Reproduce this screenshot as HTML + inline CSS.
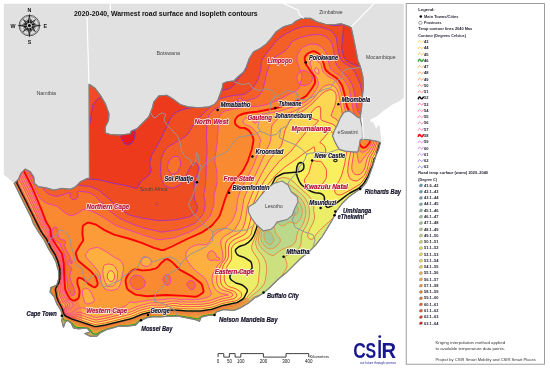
<!DOCTYPE html>
<html><head><meta charset="utf-8"><title>2020-2040, Warmest road surface and isopleth contours</title>
<style>
html,body{margin:0;padding:0;background:#fff;}
body{width:550px;height:369px;overflow:hidden;position:relative;font-family:"Liberation Sans",sans-serif;}
svg{position:absolute;left:0;top:0;display:block}
text{font-family:"Liberation Sans",sans-serif;}
</style></head><body>
<svg width="550" height="369" viewBox="0 0 550 369">
<rect width="550" height="369" fill="#fff"/>
<path d="M3.8,3.7 L403.8,3.7 L403.8,98.1 L398.9,101.4 L392.4,104.6 L387.5,107.9 L382.7,111.2 L379.4,114.4 L374.5,117.7 L370.5,119.3 L370.5,122.5 L372.9,121.7 L374.5,125.0 L376.2,129.1 L377.8,125.8 L379.4,125.0 L380.2,130.7 L381.0,137.2 L381.4,142.1 L380.4,142.7 L300.0,160.0 L100.0,200.0 L14.3,183.5 L3.8,174.4Z" fill="#e1e1e1"/>
<path id="sa" d="M89.2,84.2 L95.1,88.4 L100.1,95.1 L105.2,103.5 L108.9,113.6 L108.5,120.3 L105.2,127.0 L105.2,132.9 L110.2,134.6 L120.3,135.1 L130.4,133.8 L131.2,131.2 L137.1,128.7 L142.1,123.7 L148.8,117.0 L152.2,108.6 L153.9,101.9 L158.9,96.0 L166.7,95.3 L173.4,99.4 L180.1,104.5 L188.5,107.0 L198.6,107.8 L208.7,107.0 L214.6,104.5 L217.9,100.3 L220.4,93.6 L222.4,87.7 L223.0,83.5 L227.2,81.8 L233.9,81.0 L238.1,76.8 L243.9,71.8 L246.5,66.7 L249.3,58.7 L253.5,52.0 L260.2,48.6 L266.0,44.4 L271.1,38.6 L276.1,31.9 L283.7,26.8 L292.1,24.3 L296.3,21.0 L302.1,18.4 L310.5,18.4 L316.7,21.8 L325.1,24.3 L333.5,24.8 L341.1,23.8 L347.8,26.0 L351.1,27.7 L352.8,35.2 L354.5,43.6 L356.2,52.0 L357.8,60.4 L360.3,66.7 L362.8,76.8 L363.3,86.9 L362.3,96.9 L361.6,107.0 L360.0,117.9 L357.5,117.3 L353.6,114.1 L349.2,110.9 L344.1,112.2 L340.3,117.9 L337.7,124.3 L334.5,130.6 L332.6,135.7 L334.3,140.2 L336.8,145.2 L339.3,149.4 L345.2,151.1 L353.6,151.9 L357.8,151.9 L359.4,145.2 L360.0,140.2 L363.6,139.3 L370.4,140.2 L377.1,141.5 L380.4,142.7 L378.8,148.6 L375.4,157.0 L372.9,165.4 L370.4,172.1 L368.7,177.0 L365.5,183.4 L360.5,188.8 L357.1,190.9 L348.8,196.8 L342.0,203.5 L336.2,211.1 L335.0,214.4 L332.0,220.3 L326.9,228.7 L321.9,237.0 L320.6,238.4 L315.5,245.1 L308.8,251.8 L300.4,258.5 L293.7,265.2 L287.0,271.9 L277.8,279.5 L270.2,287.0 L263.5,292.9 L256.8,297.0 L255.6,296.9 L248.9,302.7 L240.5,307.8 L233.8,310.3 L223.7,309.5 L216.2,312.0 L214.5,315.3 L208.6,315.3 L201.1,317.0 L199.4,321.2 L195.2,319.5 L186.8,317.8 L178.4,316.2 L170.0,316.2 L160.5,316.8 L152.1,316.8 L147.1,317.7 L141.2,320.2 L138.7,321.9 L135.4,325.2 L127.0,326.1 L118.6,326.1 L113.5,327.7 L106.8,329.4 L100.1,332.8 L96.8,336.1 L90.0,336.1 L85.0,333.6 L90.4,332.0 L87.0,327.9 L78.6,328.8 L73.6,327.9 L71.1,322.9 L67.7,320.4 L65.2,322.0 L63.5,327.0 L61.8,320.4 L62.7,316.2 L61.0,310.3 L56.8,303.6 L54.3,296.9 L50.1,291.8 L50.9,287.6 L56.8,285.1 L58.8,278.4 L58.5,270.0 L57.8,268.7 L56.1,262.0 L52.7,255.3 L48.5,248.6 L44.3,240.2 L38.5,231.8 L33.4,223.4 L31.1,217.1 L26.9,208.7 L21.8,198.6 L16.8,188.5 L14.3,183.5 L18.5,179.3 L21.0,173.4 L25.2,169.2 L30.2,171.8 L33.6,176.8 L34.4,183.5 L38.6,186.9 L45.3,187.7 L53.7,190.2 L62.1,188.5 L70.5,189.4 L75.5,186.9 L80.6,181.8 L87.3,178.5 L89.5,178.3Z" fill="#f1592a" stroke="#808080" stroke-width="1.3" stroke-linejoin="round"/>
<clipPath id="saclip"><path d="M89.2,84.2 L95.1,88.4 L100.1,95.1 L105.2,103.5 L108.9,113.6 L108.5,120.3 L105.2,127.0 L105.2,132.9 L110.2,134.6 L120.3,135.1 L130.4,133.8 L131.2,131.2 L137.1,128.7 L142.1,123.7 L148.8,117.0 L152.2,108.6 L153.9,101.9 L158.9,96.0 L166.7,95.3 L173.4,99.4 L180.1,104.5 L188.5,107.0 L198.6,107.8 L208.7,107.0 L214.6,104.5 L217.9,100.3 L220.4,93.6 L222.4,87.7 L223.0,83.5 L227.2,81.8 L233.9,81.0 L238.1,76.8 L243.9,71.8 L246.5,66.7 L249.3,58.7 L253.5,52.0 L260.2,48.6 L266.0,44.4 L271.1,38.6 L276.1,31.9 L283.7,26.8 L292.1,24.3 L296.3,21.0 L302.1,18.4 L310.5,18.4 L316.7,21.8 L325.1,24.3 L333.5,24.8 L341.1,23.8 L347.8,26.0 L351.1,27.7 L352.8,35.2 L354.5,43.6 L356.2,52.0 L357.8,60.4 L360.3,66.7 L362.8,76.8 L363.3,86.9 L362.3,96.9 L361.6,107.0 L360.0,117.9 L357.5,117.3 L353.6,114.1 L349.2,110.9 L344.1,112.2 L340.3,117.9 L337.7,124.3 L334.5,130.6 L332.6,135.7 L334.3,140.2 L336.8,145.2 L339.3,149.4 L345.2,151.1 L353.6,151.9 L357.8,151.9 L359.4,145.2 L360.0,140.2 L363.6,139.3 L370.4,140.2 L377.1,141.5 L380.4,142.7 L378.8,148.6 L375.4,157.0 L372.9,165.4 L370.4,172.1 L368.7,177.0 L365.5,183.4 L360.5,188.8 L357.1,190.9 L348.8,196.8 L342.0,203.5 L336.2,211.1 L335.0,214.4 L332.0,220.3 L326.9,228.7 L321.9,237.0 L320.6,238.4 L315.5,245.1 L308.8,251.8 L300.4,258.5 L293.7,265.2 L287.0,271.9 L277.8,279.5 L270.2,287.0 L263.5,292.9 L256.8,297.0 L255.6,296.9 L248.9,302.7 L240.5,307.8 L233.8,310.3 L223.7,309.5 L216.2,312.0 L214.5,315.3 L208.6,315.3 L201.1,317.0 L199.4,321.2 L195.2,319.5 L186.8,317.8 L178.4,316.2 L170.0,316.2 L160.5,316.8 L152.1,316.8 L147.1,317.7 L141.2,320.2 L138.7,321.9 L135.4,325.2 L127.0,326.1 L118.6,326.1 L113.5,327.7 L106.8,329.4 L100.1,332.8 L96.8,336.1 L90.0,336.1 L85.0,333.6 L90.4,332.0 L87.0,327.9 L78.6,328.8 L73.6,327.9 L71.1,322.9 L67.7,320.4 L65.2,322.0 L63.5,327.0 L61.8,320.4 L62.7,316.2 L61.0,310.3 L56.8,303.6 L54.3,296.9 L50.1,291.8 L50.9,287.6 L56.8,285.1 L58.8,278.4 L58.5,270.0 L57.8,268.7 L56.1,262.0 L52.7,255.3 L48.5,248.6 L44.3,240.2 L38.5,231.8 L33.4,223.4 L31.1,217.1 L26.9,208.7 L21.8,198.6 L16.8,188.5 L14.3,183.5 L18.5,179.3 L21.0,173.4 L25.2,169.2 L30.2,171.8 L33.6,176.8 L34.4,183.5 L38.6,186.9 L45.3,187.7 L53.7,190.2 L62.1,188.5 L70.5,189.4 L75.5,186.9 L80.6,181.8 L87.3,178.5 L89.5,178.3Z"/></clipPath>
<g clip-path="url(#saclip)">
<path d="M9,14l6.6,0l-2.9,29l-4.7,40.8l0,-69.8zM8.1,166l2.7,11l0.9,3l2,5l3.3,6l4.4,9l2.6,5l1.4,3l0.7,1l1.3,3l0.7,1l0.3,1l1.6,3l0.6,2l0.6,1l0.5,2l0.3,0.4l0.5,1.6l5,8l3.5,5l3,4.6l0.5,1.4l0.5,0.6l0.5,1.4l0.5,0.6l0.5,1.4l0.7,1l0.4,1l0.4,0.4l4,6.5l0.4,1.1l0.8,1l0.3,1l0.7,1l0.3,1l0.7,1l0.4,2l0.4,0.6l0.5,2.4l0.6,1l0.5,4l0.4,0.8l0,1.4l-0.4,0.8l-0.1,1l0.5,2l-0.6,1l-0.4,2.4l-6.8,6.6l-0.7,1l-0.3,2l0.4,2l3.4,4.3l1.4,2.7l1,3l1,2l2.6,3.8l0.5,1.2l0.8,1l0.9,4l-0.2,1.9l-1.1,4.1l-0.4,3l0.1,3l0.5,2l0.9,1.6l1,1.2l2,1.6l3,1.5l7,2.4l8.2,4.7l-74.2,0l0,-176.4zM388,204.1l0,137.9l-295.7,0l3.7,-1.6l2,-1.2l2,-1.7l3.5,-3.5l3.2,-2l2.1,-1l7.2,-2.1l3,-0.7l2,-0.1l8,0.1l4,-0.3l2,-0.3l2,-0.9l4.2,-3.7l2.8,-1.7l3,-1.3l4.2,-1l2.8,-0.2l15,-0.4l8,0.2l3,0.4l4,0.9l6,1.6l5,1.6l3,0.4l2,-0.3l1,-0.5l1.3,-0.7l2.7,-2.1l2,-0.8l2,-0.3l5,0.2l2,-0.5l1,-0.6l3,-2.7l1,-0.6l2,-0.6l2,0l7,1.3l4,0.2l4,-0.3l11,-1.9l5,-0.5l5,-0.1l14,0.5l6,-0.1l5,-0.4l8,-1.2l8,-1.8l8,-2.5l8,-3.2l6,-3l5.2,-3l4.8,-3.2l5,-3.9l4.5,-3.9l5,-5l4.3,-5l3.8,-5l3.3,-5l3,-5l3.2,-6l3,-6l5.6,-13l12.9,-32z" fill="#68a0b4" stroke="#68a0b4" stroke-width="0.4" fill-rule="evenodd"/>
<path d="M16,14l2.2,0l-2.8,27l-7.4,59.3l0,-16.5l4.7,-40.8l2.9,-29zM8.1,162l1.6,8l1.4,6l1.5,5l1.6,4l15.8,31.3l3,7.7l4.9,8l6.1,9l4.1,8l3.9,6.3l3.5,6.7l2.3,8l0,1l0.4,2l-0.2,3l0.2,2l-0.8,2l-0.1,1l-0.3,0.9l-6.4,6.1l-0.6,1l-0.3,1l-0.1,1l0.6,2l3.1,4l1.4,3l1.2,3l1,2l3.7,6l1,4l-0.2,2l-1.2,7l0.1,2l0.7,2.4l1,1.5l1,0.9l2,1l2,0.4l4,0.4l6,1.8l1.1,0.6l2.7,3l1.2,1.1l2,1.1l3,0.7l2,0l2,-0.3l2,-0.6l3,-1.1l2,-1.1l1,-0.8l3,-3l1.3,-1l3.6,-2l2.7,-1l9.4,-2.5l2,-0.1l7,0.1l5,-0.4l2,-0.3l2,-0.9l3,-3l2.9,-1.9l3.1,-1.4l4,-1.1l4,-0.4l6,-0.1l9,-0.4l8,0.1l3,0.4l4.1,0.9l6.9,1.7l5,1.6l2,0.2l2,-0.5l1,-0.5l3,-2.7l1.8,-0.8l3.2,-0.5l4,0.5l2,-0.2l1.4,-0.8l2.8,-3l2.8,-1.1l3,-0.2l7,1.5l4,0.1l4,-0.5l10,-2.2l6,-0.9l5,-0.1l14,0.4l5,-0.3l5,-0.4l7.8,-1.3l7.2,-1.7l7.1,-2.3l7.3,-3l6,-3l5.6,-3.3l5.4,-3.7l5,-4l4.6,-4.3l4.5,-4.7l4.1,-5l3.6,-5l3.2,-5l2.9,-5l3.1,-6l2.8,-6l17.6,-41l5.2,-13.5l0,11.6l-13,32.2l-5.5,12.7l-2.8,6l-3.2,6l-3,5l-3.5,5.4l-4,5.3l-4,4.7l-4.4,4.6l-4.6,4.1l-5,3.9l-5.8,4l-5.2,3l-6,3l-8,3.2l-8,2.5l-8,1.8l-8,1.2l-5,0.4l-6,0.1l-14,-0.5l-5,0.1l-5,0.5l-11,1.9l-4,0.3l-4,-0.2l-7,-1.3l-2,0l-2,0.6l-1,0.6l-3,2.7l-1,0.6l-2,0.5l-5,-0.2l-2,0.3l-2,0.8l-2.7,2.1l-1.3,0.7l-1,0.5l-2,0.3l-3,-0.4l-5,-1.6l-6,-1.6l-4,-0.9l-3,-0.4l-8,-0.2l-15,0.4l-2.8,0.2l-4.2,1l-3,1.3l-2.8,1.7l-4.2,3.7l-2,0.9l-2,0.3l-4,0.3l-8,-0.1l-2,0.1l-3,0.7l-7.2,2.1l-2.1,1l-3.2,2l-3.5,3.5l-2,1.7l-2,1.2l-3.7,1.6l-10.1,0l-8.2,-4.7l-7,-2.4l-3,-1.5l-2,-1.6l-1,-1.2l-0.9,-1.6l-0.5,-2l-0.1,-3l0.4,-3l1.1,-4.1l0.2,-1.9l-0.9,-4l-0.8,-1l-0.5,-1.2l-2.6,-3.8l-1,-2l-1,-3l-1.4,-2.7l-3.4,-4.3l-0.4,-2l0.3,-2l0.7,-1l6.8,-6.6l0.4,-2.4l0.6,-1l-0.5,-2l0.1,-1l0.4,-0.8l0,-1.4l-0.4,-0.8l-0.5,-4l-0.6,-1l-0.5,-2.4l-0.4,-0.6l-0.4,-2l-0.7,-1l-0.3,-1l-0.7,-1l-0.3,-1l-0.8,-1l-0.4,-1.1l-4,-6.5l-0.4,-0.4l-0.4,-1l-0.7,-1l-0.5,-1.4l-0.5,-0.6l-0.5,-1.4l-0.5,-0.6l-0.5,-1.4l-3,-4.6l-3.5,-5l-5,-8l-0.5,-1.6l-0.3,-0.4l-0.5,-2l-0.6,-1l-0.6,-2l-1.6,-3l-0.3,-1l-0.7,-1l-1.3,-3l-0.7,-1l-1.4,-3l-2.6,-5l-4.4,-9l-3.3,-6l-2,-5l-2,-7l-1.7,-7.4l0,-4.3z" fill="#74a8ae" stroke="#74a8ae" stroke-width="0.4" fill-rule="evenodd"/>
<path d="M19,14l2,0l-0.4,4l-3.1,26l-6.9,50l-2.6,23.6l0,-17.3l7.4,-59.3l2.8,-27zM8.1,155l1.3,10l1.6,8l1.7,7l1.8,5l15.7,31l3.2,8l4.9,8l6.1,9l4,8l3.8,6l3.6,7l2.3,8l0.3,3l-0.2,3l0.2,2l-0.8,2l0,1l-0.4,1l-6.1,6l-0.7,1l-0.3,1l-0.1,1l0.7,2l2.3,2.8l0.7,1.2l3,7l4.2,7l1,4l0,2l-0.7,7l0.2,2l0.3,1l0.3,0.6l1,1.1l1,0.5l1,0.1l1.1,-0.3l0.9,-1l0.2,-1l-0.4,-3l0.1,-1l1.1,-0.4l1.1,0.4l0.9,0.9l1.1,3.1l0.9,1.5l1,0.8l2,1l2,0.4l3,-0.1l2,-0.2l1.2,-0.4l2.8,-0.5l0.8,0.5l-0.7,1l-1.7,1l-0.9,1l-0.4,1l0,1l0.2,1l0.6,1l1.1,1l1,0.5l2,0.4l3,-0.3l5,-1.2l2,-1l3.7,-3.4l3.6,-2l2.7,-1.2l8,-2.2l4,-0.9l7,0.1l8,-0.8l1.9,-1l3,-3l2.1,-1.3l3.7,-1.7l4.3,-1.2l3,-0.3l8,-0.1l9,-0.5l8,0.1l13,2.6l2,0.5l3,1.1l2,0.3l2,-0.7l1.1,-0.8l1.9,-2.1l2,-0.9l5,-0.7l3,0.6l1,0l1,-0.2l1,-0.7l2,-2.8l1,-0.5l3,-0.8l3,-0.3l6,1.3l4,0.2l5,-0.6l10,-2.8l6,-1.1l4,-0.2l14,0.3l5,-0.3l5,-0.6l8,-1.5l7,-1.9l6.9,-2.4l6.8,-3l5.7,-3l4.8,-3l5.6,-4l4.8,-4l4.4,-4.2l4.3,-4.8l3.9,-5l3.5,-5l4.3,-7.3l4.5,-8.7l3.7,-8l8.7,-20l9.1,-19.3l3.6,-8.7l4.4,-12.7l0,11.2l-5.2,13.5l-17.1,40l-5.9,12l-2.8,5l-3.1,5l-3.5,5l-4,5l-4.4,4.7l-4.5,4.3l-4.8,4l-4.7,3.4l-5.8,3.6l-5.2,2.8l-7.3,3.2l-7.7,2.7l-8,2.1l-8,1.3l-6,0.6l-5,0.3l-14,-0.4l-5,0.1l-6,0.9l-10,2.2l-4,0.5l-4,-0.1l-7,-1.5l-3,0.2l-2.8,1.1l-2.8,3l-1.4,0.8l-2,0.2l-4,-0.5l-3.2,0.5l-1.8,0.8l-3,2.7l-1,0.5l-2,0.5l-2,-0.2l-5,-1.6l-6.9,-1.7l-4.1,-0.9l-3,-0.4l-8,-0.1l-9,0.4l-6,0.1l-4,0.4l-4,1.1l-3.1,1.4l-2.9,1.9l-3,3l-2,0.9l-2,0.3l-5,0.4l-7,-0.1l-2,0.1l-9.4,2.5l-2.7,1l-3.6,2l-1.3,1l-3,3l-1,0.8l-2,1.1l-3,1.1l-2,0.6l-2,0.3l-2,0l-3,-0.7l-2,-1.1l-1.2,-1.1l-2.7,-3l-1.1,-0.6l-5,-1.6l-2,-0.4l-4,-0.3l-2,-0.7l-2,-1.5l-1.2,-1.9l-0.5,-2l-0.1,-2l1.2,-7l0.2,-2l-1,-4l-3.7,-6l-1,-2l-1.2,-3l-1.4,-3l-3.1,-4l-0.6,-2l0.1,-1l0.3,-1l0.6,-1l6.4,-6.1l0.3,-0.9l0.1,-1l0.8,-2l-0.2,-2l0.2,-3l-0.4,-2l0,-1l-2.3,-8l-3.5,-6.7l-3.9,-6.3l-4.1,-8l-6.1,-9l-4.9,-8l-3,-7.7l-16.2,-32.3l-1.5,-4l-1.2,-4l-2.4,-11l-0.7,-3.7l0,-6.9z" fill="#80b0a8" stroke="#80b0a8" stroke-width="0.4" fill-rule="evenodd"/>
<path d="M21,14l2.8,0l-1.5,13l-2.1,16l-8.5,56l-1.6,13l-1,11l-0.6,11l-0.1,10l0.5,9l1,10l1.1,7l1.2,6l1.3,5l1.4,4l15.6,31l3.2,8l4.9,8l6.1,9l4,8l3.8,6l3.5,7l2.3,8l0.2,3l-0.2,3l0.3,2l-0.8,2l-0.3,2l-5.9,6l-0.7,1l-0.4,1l0,1l0.7,2l1.8,2.2l1,1.6l2.5,6.2l4.6,8l1.1,4l0.1,4l0.7,6.4l1,0.6l0.3,-1l0.2,-2l0.4,-1l1.1,-0.8l0.7,-0.2l1.3,0.3l1.6,0.7l1.2,1l1.9,3l0.8,1l1.3,1l1.2,0.5l2,0.3l2,0l6,-0.8l1,0.2l1,0.7l0.9,1.1l0.5,1l0,1l-0.4,0.6l-1.2,0.4l-1.2,1l0,1l0.4,0.5l1,0.4l7,0.2l2,-0.5l1,-0.7l2,-1.9l1.6,-1l4.2,-2l2.6,-1l10.6,-2.8l9,-0.2l7,-0.8l1,-0.5l3,-3l2.8,-1.7l4.2,-1.8l4,-1l3,-0.4l8,0l9,-0.6l8,0l14,2.6l4,1.3l2,0.2l1,-0.3l1,-0.6l2.2,-2.4l1.8,-0.7l6,-0.9l4,0.5l1,-0.5l0.4,-0.4l1.2,-2l0.4,-0.4l1.1,-0.6l4,-1l2.9,-0.3l6,1.2l2,0.2l2,-0.1l5,-0.9l11,-3.6l5,-1.1l4,-0.2l8,0.2l5,0l4.7,-0.4l4.3,-0.6l7,-1.3l6,-1.7l6,-2l6,-2.6l5.6,-2.8l5.4,-3.2l5.4,-3.8l5,-4l4.6,-4.4l4.3,-4.6l4,-5l3.4,-5l3.6,-6l3.7,-7l4.3,-9l9.9,-22l12,-23l2.9,-7l4.5,-13l2.4,-5.9l0,9.2l-4.4,12.7l-2.8,7l-9.5,20l-10,23l-4.8,10l-3.2,6l-3.3,5.5l-3,4.5l-3.8,5l-5.4,6l-5.8,5.4l-6,4.7l-7,4.5l-7,3.8l-8,3.3l-7,2.3l-8.2,2l-6.1,1l-6.7,0.6l-6,0.1l-10,-0.3l-4,0.2l-6,1.1l-10,2.8l-4,0.6l-4,0l-6,-1.3l-2,-0.2l-1,0.1l-2,0.4l-2.6,0.9l-1.1,1l-1.3,2l-1,0.7l-1,0.2l-1,0l-3,-0.6l-5,0.7l-2,0.9l-1.9,2.1l-1.1,0.8l-2,0.7l-2,-0.3l-3,-1.1l-2,-0.5l-13,-2.6l-8,-0.1l-9,0.5l-8,0.1l-3,0.3l-4.3,1.2l-3.7,1.7l-2.1,1.3l-3,3l-1.9,1l-7,0.7l-7,0l-2,0.1l-10,2.7l-3.7,1.5l-3.6,2l-3.2,3l-1.5,1l-3,1l-5,0.9l-2,-0.1l-2,-0.8l-1.1,-1l-0.6,-1l-0.2,-1l0,-1l0.4,-1l0.9,-1l1.7,-1l0.7,-1l-0.8,-0.5l-2.8,0.5l-1.2,0.4l-2,0.2l-3,0.1l-2,-0.4l-2,-1l-1,-0.8l-0.9,-1.5l-1.1,-3.1l-0.9,-0.9l-1.1,-0.4l-1.1,0.4l-0.1,1l0.4,3l-0.2,1l-0.9,1l-1.1,0.3l-1,-0.1l-1,-0.5l-1,-1.1l-0.3,-0.6l-0.5,-2l0,-2l0.8,-7l-0.1,-1l-1,-4l-4.2,-7l-3,-7l-0.7,-1.2l-2.3,-2.8l-0.7,-2l0.1,-1l0.3,-1l0.7,-1l6.1,-6l0.4,-1l0,-1l0.8,-2l-0.2,-2l0.2,-3l-0.3,-3l-2.3,-8l-3.6,-7l-3.8,-6l-4,-8l-6.1,-9l-4.9,-8l-3.2,-8l-15.7,-31l-1.8,-5l-1.5,-6l-1.4,-7l-1.3,-8l-0.5,-4.6l0.1,-37.4l2.3,-22l7.2,-52l3.4,-29z" fill="#8cb8a2" stroke="#8cb8a2" stroke-width="0.4" fill-rule="evenodd"/>
<path d="M24,14l2.8,0l-1.9,15l-2.4,16l-9.4,57l-1.6,12l-1.1,10l-0.7,11l-0.1,11l0.4,10l1,9l2,12l1.2,5l1,3l15.6,31l3.3,8l4.8,8l6.1,9l4.1,8l3.7,6l3.5,7l2,7l0.4,4l-0.2,3l0.3,2l-0.8,2l-0.3,2l-5.6,6l-0.7,1l-0.4,1l0,1l0.8,2l2.2,3l2.8,7l4.2,7.2l1.5,4.8l0.5,3.4l0.2,0.6l0.8,1l1,0.2l2,0l2.1,0.8l1.9,1.2l3.4,3.8l1.6,1l1,0.3l3,0.3l6,-0.2l1,0.1l1,0.4l2.2,2.1l1.8,2.6l1,1l1,0.4l2,0.2l1,-0.3l4,-2.5l5.6,-2.4l10.4,-2.9l3,-0.6l8,-0.3l5,-0.5l2,-0.5l1,-0.7l2.8,-2.5l2.2,-1.3l4,-1.8l5,-1.3l4,-0.4l7,0l9,-0.6l7,-0.1l3,0.3l12,2l5,1.2l1,-0.1l1,-0.4l3,-2.4l1,-0.4l6,-1l2,-0.1l2,0.2l1,-0.2l1,-0.9l1,-1.4l1,-0.7l6,-1.6l2,-0.2l7,1.2l3,-0.1l5,-1.1l11,-4.2l5,-1.5l4,-0.3l11,0.2l4,-0.3l5,-0.7l6,-1.3l6,-1.7l6,-2.2l6,-2.6l5.9,-3.2l4.9,-3l4.2,-3l5,-4.1l4.2,-3.9l4.6,-5l4,-5l3.2,-4.7l3.7,-6.3l4.2,-8l11.6,-25l3,-6l3.4,-6l7.1,-11.5l3,-5.6l2.6,-5.9l4.8,-14l4.6,-10.5l0,7.6l-2.1,4.9l-4.4,13l-2.8,7l-2.7,5.5l-9.8,18.5l-10.3,23l-5.4,11l-2.7,5l-3.1,5l-3.4,5l-3.2,4l-5.5,6l-5.4,5l-6.6,5l-6.3,4l-7.3,3.8l-7,2.9l-7,2.3l-8.4,2l-5.6,0.9l-5,0.4l-5,0.1l-9,-0.2l-4,0.2l-5,1.1l-11,3.6l-5,0.9l-2,0.1l-2,-0.2l-6,-1.2l-2,0.1l-4.9,1.2l-1.1,0.6l-0.4,0.4l-1.2,2l-0.4,0.4l-1,0.5l-4,-0.5l-4.7,0.6l-2.3,0.6l-1,0.6l-2,2.2l-1,0.6l-1,0.3l-2,-0.2l-4,-1.3l-14,-2.6l-8,0l-9,0.6l-8,0l-3,0.4l-4,1l-4.2,1.8l-2.8,1.7l-3,3l-1,0.5l-7,0.8l-9,0.2l-10.6,2.8l-2.6,1l-4.2,2l-1.6,1l-2,1.9l-1,0.7l-2,0.5l-7,-0.2l-1,-0.4l-0.4,-0.5l0,-1l1.2,-1l1.2,-0.4l0.4,-0.6l0,-1l-0.5,-1l-0.9,-1.1l-1,-0.7l-1,-0.2l-6,0.8l-2,0l-2,-0.3l-1.2,-0.5l-1.3,-1l-0.8,-1l-1.9,-3l-1.2,-1l-1.6,-0.7l-1.3,-0.3l-0.7,0.2l-1.1,0.8l-0.4,1l-0.2,2l-0.3,1l-1,-0.6l-0.7,-6.4l-0.1,-4l-1.1,-4l-4.6,-8l-2.5,-6.2l-1,-1.6l-1.8,-2.2l-0.7,-2l0,-1l0.4,-1l0.7,-1l5.9,-6l0.3,-2l0.8,-2l-0.3,-2l0.2,-3l-0.2,-3l-2.3,-8l-3.5,-7l-3.8,-6l-4,-8l-6.1,-9l-4.9,-8l-3.2,-8l-15.6,-31l-1.4,-4l-1.5,-6l-1.2,-6l-1,-7l-1.1,-11l-0.3,-11l0.3,-11l1,-13l2.3,-19.1l8.2,-53.9l2.1,-16l1.5,-13z" fill="#98c09c" stroke="#98c09c" stroke-width="0.4" fill-rule="evenodd"/>
<path d="M27,14l2.9,0l-1,7l-2,14l-2.3,14l-9.6,52.4l-2,13.2l-1.2,10.4l-0.9,11l-0.2,10l0.3,10l0.9,10l2.1,13l0.8,4l0.8,2l15.6,31l3.3,8l4.8,8l6.1,9l4,8l3.7,6l3.4,7l2,7l0.4,4l-0.3,3l0.4,2l-0.8,2l-0.2,2l-6,7l-0.4,1l-0.1,1l0.5,1.4l2.4,3.6l2.3,6l1,2l3.5,6l2.1,7l0.7,1.5l1,0.7l3,0.7l2.2,1.1l1.5,1l2.3,2.3l2,1.5l1,0.4l2,0.4l8,0.4l2.1,1l3.9,3.6l1,0.6l1,0.3l1,0.1l1,-0.2l4,-1.9l6,-2.3l11,-2.9l2,-0.3l8,-0.5l6,-0.9l1,-0.5l3,-2.4l3,-1.8l4,-1.6l5,-1.3l3,-0.4l9,-0.1l8,-0.6l7,-0.2l3,0.3l17,2.6l1,-0.2l3,-1.7l2,-0.8l6,-1l4,-0.2l1,-0.5l1.2,-1.2l1.6,-1l6.2,-1.7l2,-0.2l6,0.8l2,0.1l2,-0.3l3,-0.6l3.1,-1.1l11.9,-5.4l3,-0.9l4,-0.4l6,0.2l4,0l4.4,-0.5l5.6,-1.1l5,-1.3l4.9,-1.6l5.2,-2l4.9,-2.3l5,-2.7l5,-3.1l5.4,-3.9l4.6,-3.8l4.4,-4.2l3.6,-4l3.2,-4l3.5,-5l3,-5l3.2,-6l7.1,-14.3l7,-14.7l2.6,-5l3.7,-6l9.2,-13l3.5,-6l2.6,-6l4.2,-12l4.9,-11l2.3,-7.6l0,9.1l-4.6,10.5l-4.5,13l-2.4,6l-3.5,6.5l-7.7,12.5l-3.3,6l-2.9,6l-9.3,20l-6.1,12l-2.9,5l-2.6,4l-5.4,7l-3.6,4l-4.2,4.1l-4.7,3.9l-5.3,3.8l-5.1,3.2l-5.6,3l-4.3,2l-6,2.3l-5,1.6l-4.3,1.1l-4.7,1l-4,0.6l-6,0.4l-10,-0.2l-4,0.3l-5,1.5l-11,4.2l-4,0.9l-2,0.3l-2,0l-6,-1.1l-2,-0.1l-1,0.2l-6,1.6l-1,0.7l-1,1.4l-1,0.9l-1,0.2l-2,-0.2l-2,0.1l-6,1l-1,0.4l-3,2.4l-1,0.4l-1,0.1l-5,-1.2l-12,-2l-3,-0.3l-7,0.1l-7,0.5l-9,0.1l-3,0.2l-5,1.2l-4,1.6l-3.2,1.8l-3.5,3l-1.3,0.5l-7,0.8l-7,0.2l-2.5,0.5l-10.5,2.8l-6,2.6l-4,2.5l-1,0.3l-1,0l-1,-0.2l-1,-0.4l-0.6,-0.6l-2.2,-3l-2.2,-2.1l-1,-0.4l-1,-0.1l-6,0.2l-3,-0.3l-1,-0.3l-1.6,-1l-3.4,-3.8l-1.9,-1.2l-2.1,-0.8l-2,0l-1,-0.2l-0.8,-1l-0.2,-0.6l-0.5,-3.4l-1.5,-4.8l-4.2,-7.2l-2.8,-7l-2.2,-3l-0.8,-2l0,-1l0.4,-1l0.7,-1l5.6,-6l0.3,-2l0.8,-2l-0.3,-2l0.2,-3l-0.4,-4l-2,-7l-3.5,-7l-3.7,-6l-4.1,-8l-6.1,-9l-4.8,-8l-3.3,-8l-15.6,-31l-1,-3l-1.2,-5l-1.1,-6l-1.1,-7l-1,-11l-0.2,-11l0.4,-12l1,-11.8l1.2,-10.2l1.8,-12.1l9.3,-55.9l3.5,-26zM289,203.7l2,-0.5l1,0l2,0.6l2,1.2l1.6,2l0.7,2l0,2l-0.7,2l-0.6,1.1l-1,0.8l-1,0.5l-1,0.1l-3,-0.4l-2.5,-1.1l-1.3,-1l-0.7,-1l-0.7,-2l0,-2l0.7,-2l0.7,-1l1.2,-1zM266,231.5l1,-0.4l1,0l1,0.2l1,0.6l1.6,2.1l1.5,3l0.6,2l-0.1,2l-0.4,1l-0.6,1l-1.6,1.2l-1,0.2l-1,-0.2l-1,-0.5l-2,-1.7l-1.2,-2l-0.6,-2l-0.3,-3l0.1,-1l0.4,-1l0.8,-1z" fill="#a4c896" stroke="#a4c896" stroke-width="0.4" fill-rule="evenodd"/>
<path d="M30,14l3,0l-1.4,10l-2.3,14l-2.7,15l-10.2,51l-1.9,12l-1.4,10l-1,11l-0.3,10l0.1,10l0.9,10l2.2,15l0.9,3l15.6,31l3.4,8l4.7,8l5.5,8l4.6,9l3.8,6l2.9,6l2.3,8l0.4,4l-0.3,3l0.4,2l-0.8,2l-0.2,2l-1.2,1.7l-3.8,4.3l-1,2l-0.1,1l0.4,1l2.3,4l2.2,6l1,2l3.5,6l2.4,7l0.7,1l1.4,0.7l3,1.1l2,1.1l4,3.1l2,1.1l3,0.7l7,0.7l2,0.8l5,3.5l2,0.5l2,-0.5l9,-3.2l11,-2.8l2,-0.4l7,-0.6l6,-0.9l2,-0.9l3,-2.2l4,-2l4,-1.5l4,-0.9l3,-0.4l9,-0.1l9,-0.8l5,-0.1l4,0.2l15,2l2,0.1l1,-0.2l3,-1.3l2,-0.7l10,-1.4l2.5,-1.7l1.5,-0.7l6,-1.7l3,-0.2l6,0.5l3,-0.3l3,-0.8l3,-1.1l7.3,-3.7l4.7,-2.8l2,-0.9l4,-0.8l8,0.4l3,-0.2l4,-0.8l6,-1.6l6,-2l5.5,-2.3l4.5,-2.2l5,-2.8l4.5,-3l5.4,-4l4.1,-3.5l4,-3.7l4,-4.3l3.6,-4.5l2.8,-4l3.5,-6l5.5,-11l6.6,-12.2l5.9,-11.8l2.2,-4l2.6,-4l2.2,-3l10.1,-12.1l2.1,-2.9l2.2,-4l2.2,-5l3.5,-10.3l4.6,-9.7l1.2,-3l0.9,-3l1.7,-8l0.6,-1.7l1,-2.2l0,9.3l-1.3,4.6l-1.4,4l-4.9,11l-3.8,11l-2.1,5l-3.5,6.3l-9,12.7l-3.8,6l-2.7,5l-8.5,17.7l-8.8,17.3l-4.8,8l-2.4,3.3l-3,3.7l-3.6,4l-4.4,4.2l-4.6,3.8l-5.4,3.9l-5,3.1l-5,2.7l-4.9,2.3l-5.2,2l-7.9,2.4l-8,1.7l-5,0.4l-9,-0.2l-4,0.4l-3,0.9l-11.9,5.4l-3.1,1.1l-3,0.6l-2,0.3l-2,-0.1l-6,-0.8l-2,0.2l-6.2,1.7l-1.6,1l-1.2,1.2l-1,0.5l-4,0.2l-6,1l-2,0.8l-3,1.7l-2,0.1l-16,-2.5l-3,-0.3l-7,0.2l-8,0.6l-8,0.1l-3,0.2l-5,1.2l-4,1.5l-3,1.5l-4,3.1l-1,0.5l-6,0.9l-8,0.5l-2,0.3l-11,2.9l-6,2.3l-4,1.9l-1,0.2l-1,-0.1l-1,-0.3l-1,-0.6l-3.9,-3.6l-2.1,-1l-8,-0.4l-2,-0.4l-1,-0.4l-2,-1.5l-2.3,-2.3l-1.5,-1l-2.2,-1.1l-3,-0.7l-1,-0.7l-0.7,-1.5l-2.1,-7l-3.5,-6l-1,-2l-2.3,-6l-2.4,-3.6l-0.5,-1.4l0.1,-1l0.4,-1l6,-7l0.2,-2l0.8,-2l-0.4,-2l0.3,-3l-0.4,-4l-2,-7l-3.4,-7l-3.7,-6l-4,-8l-6.1,-9l-4.8,-8l-3.3,-8l-15.6,-31l-0.8,-2l-0.8,-4l-1.4,-8l-1,-7l-0.7,-10l-0.2,-11l0.5,-11l1.2,-13l1.5,-11l1.9,-11l9.8,-54l2.3,-15l2,-14zM287,196.8l1,-0.1l2,0.1l3,0.8l3,1.7l2.9,2.7l2,3l1.1,3l0.4,3l-0.3,3l-0.8,3l-1.3,2.7l-1,1.5l-1,1l-1,0.6l-1,0.4l-2,0.1l-4,-1.2l-1,0.2l-1.5,0.7l-2.5,2.1l-1,0.5l-1,0.3l-1,0l-1.9,-0.9l-1.5,-1l-0.9,-1l-0.3,-1l0,-4l0.6,-7l1.2,-5l0.7,-2l1.1,-2.2l2.1,-2.8l1.9,-1.4l1.3,-0.6zM288.4,204l-1.2,1l-0.7,1l-0.7,2l0,2l0.7,2l0.7,1l1.3,1l2.5,1.1l3,0.4l1,-0.1l1,-0.5l1,-0.8l0.6,-1.1l0.7,-2l0,-2l-0.7,-2l-1.6,-2l-2,-1.2l-2,-0.6l-1,0l-2,0.5zM269,226l2,-0.5l1,0l1,0.2l1,0.8l0.5,1.5l0.5,3l0.6,2l1.4,2.1l2.6,2.9l0.6,1l0.3,1l-0.1,1l-0.3,1l-0.5,1l-1.6,2l-2,1.6l-2,1.3l-2,0.8l-1,0.2l-2,-0.2l-1,-0.3l-2,-1.2l-1,-0.8l-2,-2.3l-1,-1.5l-0.7,-1.6l-0.4,-2l0.2,-5l0.5,-2l0.4,-0.7l1,-1.3l2,-1.8l2,-1.3l1.9,-0.9zM265.2,232l-0.8,1l-0.4,1l-0.1,1l0.3,3l0.6,2l1.2,2l2,1.7l1,0.5l1,0.2l1,-0.2l1.6,-1.2l0.6,-1l0.4,-1l0.1,-2l-0.6,-2l-1.5,-3l-1.6,-2.1l-1,-0.6l-1,-0.2l-1,0l-1,0.4z" fill="#b0d090" stroke="#b0d090" stroke-width="0.4" fill-rule="evenodd"/>
<path d="M33,14.2l0,-0.2l3.3,0l-1.8,12l-2.3,13l-2.9,15l-11.3,52l-2,11l-1.6,11l-1.1,11l-0.4,10l0.1,10l0.7,9l1.7,14l0.6,2.4l15.4,30.6l3.6,8.3l5,8.7l5.5,8l4.5,8.8l3.8,6.2l2.9,6l2.2,8l0.1,2l0.3,2l-0.3,3l0.3,2l-0.7,2l-0.2,2l-4.6,6l-1,2l0,1l0.4,1l1.8,3.5l0.8,2.5l2,5l3.9,7l2.3,6.3l1,1.2l5.4,2.5l6.6,4.1l3,0.9l7,1l2.5,1l4.5,2.7l2,0.4l1,-0.1l11,-3.3l10,-2.5l2,-0.4l7.1,-0.8l5.4,-1l1.5,-0.5l5,-3.1l3,-1.3l4,-1.4l5,-1.1l3,-0.3l9,-0.1l9,-0.9l4,-0.1l3,0.1l14,1.7l4,0.1l6,-1.7l9,-1.3l1,-0.3l4,-2.1l7,-1.9l2,-0.2l6,0.2l3,-0.4l4,-1.2l4.4,-2.2l3.5,-2l6.1,-4.4l5,-2.3l2,-0.5l3,0.8l2,0.3l2,-0.1l3,-0.7l3.4,-1.1l7.8,-3l6.7,-3l3.9,-2l3.4,-2l4.4,-3l7.5,-6l7.9,-7.3l3,-3.1l3,-3.5l3,-4.1l1.8,-3l2.1,-4l3.6,-8l8.8,-14l2.7,-4.9l3.6,-7.1l2.3,-4l2.2,-3l2.6,-3l11.3,-11.4l3.6,-4.6l2.8,-5l4.6,-12.9l5.4,-11.1l1,-3l1.2,-7l1.1,-4l1.3,-3.1l2,-2.9l0,5.1l-1,2.2l-0.8,2.7l-2,9l-1.6,4l-4.6,9.7l-3.5,10.3l-2.2,5l-2.2,4l-2.1,2.9l-10.1,12.1l-4.2,6l-2.8,5l-5.9,11.8l-6.6,12.2l-6.6,13l-3.8,6.1l-5,6.4l-4,4.3l-4,3.7l-4.1,3.5l-5.4,4l-4.5,3l-5,2.8l-4.5,2.2l-4.8,2l-9,3l-6.7,1.5l-5,0.4l-6,-0.5l-2,0.2l-2,0.4l-3,1.2l-6.6,3.8l-5.4,2.7l-3,1.1l-3,0.8l-2,0.3l-2,0l-5,-0.5l-3,0.2l-6,1.7l-1.5,0.7l-2.5,1.7l-10,1.4l-2,0.7l-3,1.3l-1,0.2l-2,-0.1l-18,-2.2l-6,0.1l-9,0.8l-8,0.1l-3,0.2l-5,1.1l-4,1.5l-4,2l-3,2.2l-2,0.9l-6,0.9l-7,0.6l-2,0.4l-11,2.8l-9,3.2l-2,0.5l-2,-0.5l-5,-3.5l-2,-0.8l-7,-0.7l-3,-0.7l-2,-1.1l-4,-3.1l-2,-1.1l-3,-1.1l-1.4,-0.7l-0.7,-1l-2.4,-7l-3.5,-6l-1,-2l-2.2,-6l-2.3,-4l-0.4,-1l0.1,-1l1,-2l3.8,-4.3l1.2,-1.7l0.2,-2l0.8,-2l-0.4,-2l0.3,-3l-0.4,-4l-2.3,-8l-2.9,-6l-3.8,-6l-4.6,-9l-5.5,-8l-4.7,-8l-3.4,-8l-15.6,-31l-0.9,-3l-1.7,-11l-0.7,-6l-0.7,-10l-0.1,-11l0.7,-12l1.4,-12l1.3,-9l2,-11l8.1,-40l3,-16l2.4,-14l2.2,-15zM283,191l1,-0.5l2,-0.3l2,0.2l2,0.6l2,0.9l3,1.8l3,2.2l2.2,2.1l1.7,2l1.3,2l1,2l0.8,2l0.5,2l0.3,3l0,3l-0.3,2l-1,4l-1.5,4l-1.1,2l-3,4l-1.1,2l-0.9,3l-0.7,5l-0.8,2l-0.7,1l-1.7,1.7l-2,1.3l-8,3l-3.5,2l-4.5,3.7l-1,0.5l-1,0.2l-1,-0.1l-2,-0.6l-3,-1.7l-3,-2.4l-2,-2.2l-2,-2.7l-1,-1.8l-0.7,-2.9l0.1,-2l1.2,-6l0.7,-2l1.7,-2.8l5.8,-7.2l1.4,-2l1.8,-4l3.2,-10l2.6,-6l1.2,-2.2l2,-3l1.7,-1.8l1.3,-1zM286.3,197l-1.3,0.6l-1.9,1.4l-2.1,2.8l-1.1,2.2l-0.7,2l-1.2,5l-0.6,7l0,4l0.3,1l0.9,1l1.5,1l1.9,0.9l1,0l1,-0.3l1,-0.5l2.5,-2.1l1.5,-0.7l1,-0.2l4,1.2l2,-0.1l1,-0.4l1,-0.6l1,-1l1,-1.5l1.3,-2.7l0.8,-3l0.3,-3l-0.4,-3l-1.1,-3l-2,-3l-2.9,-2.7l-3,-1.7l-3,-0.8l-2,-0.1l-1,0.1zM268.9,226l-1.9,0.9l-2,1.3l-2,1.8l-1,1.3l-0.4,0.7l-0.5,2l-0.2,5l0.4,2l0.7,1.6l1,1.5l2,2.3l1,0.8l2,1.2l1,0.3l2,0.2l1,-0.2l2,-0.8l2,-1.3l2,-1.6l1.6,-2l0.5,-1l0.3,-1l0.1,-1l-0.3,-1l-0.6,-1l-2.6,-2.9l-1.4,-2.1l-0.6,-2l-0.5,-3l-0.5,-1.5l-1,-0.8l-1,-0.2l-1,0l-2,0.5z" fill="#bcd88a" stroke="#bcd88a" stroke-width="0.4" fill-rule="evenodd"/>
<path d="M37,14l2.8,0l-3.2,19l-2.4,12l-2.8,13l-11.4,47.9l-2.3,11.1l-1.7,10.3l-1.3,10.7l-0.7,10.5l-0.1,9.5l0.6,10l1.4,15l0.3,1l15.6,31l4.1,9l5.1,9l4.3,6l1.2,2l3.5,7.1l4.3,6.9l2.7,6l2.2,8l0,2l0.3,2l-0.3,3l0.3,2l-0.7,2l-0.1,2l-1.7,2.6l-2.6,3.4l-0.5,1l-0.3,1l0,1l1.7,4l0.7,2.6l2,5l4,7.4l1,3.1l1,2.4l1,1.3l1,0.7l5.4,2.5l4.6,2.7l2,0.8l2,0.6l7,1.3l3,1.2l4,2.1l1,0.2l2,0.1l21,-5.4l9.6,-1.6l4.4,-0.9l2,-0.8l5,-2.7l3,-1.3l3,-1l6,-1.4l3,-0.3l10,-0.2l8,-1l3,-0.1l4,0.2l10,1.1l6,0.3l2,0l6,-1.3l9,-1.3l5,-2.2l7,-2l2,-0.3l6,-0.2l3,-0.5l3.5,-1.1l4,-2l3.5,-2.2l6,-5.3l7,-5.4l4.4,-5.1l1.2,-2l0.7,-3l1.3,-8l0,-4l-0.5,-4l-0.8,-3l-1.4,-3l-1.9,-3l-4,-5l-1.1,-2l-1,-3l-0.2,-2l0.1,-2l3,-10l6.8,-14l4.4,-12.7l1.7,-4.3l4.3,-8.7l3,-5.4l1,-1.4l1,-0.8l1,-0.5l1,-0.2l2,0.1l3,1l2,1.1l3,2l5,3.9l3,2.6l2.2,2.3l1.6,2l1.3,2l1.6,3l0.8,2l0.4,2l0.5,5l-0.1,4l-0.7,4l-2,5l-3.9,7l-0.8,2l-0.4,2l-0.4,7l-0.5,2l-0.9,2l-1.7,2.3l-1,1l-2,1.5l-3,1.5l-5,1.9l-1.3,0.8l-0.7,1l0.1,1l1.6,5l0.3,3l-0.4,2l-0.9,2l-3.5,5l-1.2,2l-0.2,1l0.2,0.5l0.5,0.5l1.5,0.1l2,-0.4l2,-0.8l2,-1l2.8,-1.9l7.9,-7l11.3,-8.6l5,-4.8l3,-3.6l2.3,-4l1,-3l0.3,-4l0.2,-1l0.7,-1l2.5,-2.2l4,-4.2l5,-6.1l3,-4.6l4,-7.9l2.6,-4l2.6,-3l3,-3l5.7,-5l7.1,-5.7l2,-2.1l1.7,-2.2l1.3,-2l1.6,-3l4.4,-11.9l5.9,-12.1l0.5,-2l0.8,-6l2.1,-7l1.7,-3.1l3,-3.7l0,3.8l-2,2.9l-1.3,3.1l-1.1,4l-1,6l-0.8,3l-1.3,3l-4.4,9l-3.9,11l-2.2,4.7l-2,3.2l-2,2.6l-12.3,12.5l-2.6,3l-2.2,3l-2.3,4l-3.6,7.1l-2.7,4.9l-8.8,14l-4.1,9l-2.2,4l-2.6,4l-3.6,4.5l-3,3.2l-4,3.9l-8.5,7.4l-6.8,5l-6.8,4l-4.1,2l-7.1,3l-5.3,2l-4.4,1.4l-2,0.4l-2,0.1l-2,-0.3l-3,-0.8l-2,0.5l-5,2.3l-6.1,4.4l-3.5,2l-4.4,2.2l-4,1.2l-3,0.4l-6,-0.2l-2,0.2l-7,1.9l-4,2.1l-1,0.3l-9,1.3l-6,1.7l-4,-0.1l-14,-1.7l-3,-0.1l-4,0.1l-9,0.9l-9,0.1l-3,0.3l-5,1.1l-4,1.4l-3,1.3l-5,3.1l-1.5,0.5l-5.4,1l-7.1,0.8l-2,0.4l-11,2.8l-9,2.8l-2,0.3l-2,-0.4l-4.5,-2.7l-2.5,-1l-7,-1l-3,-0.9l-6.6,-4.1l-5.4,-2.5l-1,-1.2l-2.3,-6.3l-3.9,-7l-2,-5l-0.8,-2.5l-1.8,-3.5l-0.4,-1l0,-1l1,-2l4.6,-6l0.2,-2l0.7,-2l-0.3,-2l0.3,-3l-0.3,-2l-0.1,-2l-2.2,-8l-2.9,-6l-3.8,-6.2l-4.5,-8.8l-5.5,-8l-5,-8.7l-3.6,-8.3l-15.4,-30.6l-0.6,-2.4l-1.9,-16l-0.6,-10l0.1,-11l0.7,-11l1.5,-12l1.8,-10.8l2,-10.2l8.4,-38l3.3,-16l3.1,-17l2.5,-16zM283,191l-1.3,1l-1.7,1.8l-2,3l-1.2,2.2l-2.6,6l-3.2,10l-1.8,4l-1.4,2l-5.8,7.2l-1.7,2.8l-0.7,2l-1.2,6l-0.1,2l0.7,2.9l1,1.8l2,2.7l2,2.2l3,2.4l3,1.7l2,0.6l1,0.1l1,-0.2l1,-0.5l4.5,-3.7l3.5,-2l8,-3l2,-1.3l1.7,-1.7l0.7,-1l0.8,-2l0.7,-5l0.9,-3l1.1,-2l3,-4l1.1,-2l1.5,-4l1,-4l0.3,-2l0,-3l-0.3,-3l-0.5,-2l-0.8,-2l-1,-2l-1.3,-2l-1.7,-2l-2.2,-2.1l-3,-2.2l-3,-1.8l-2,-0.9l-2,-0.6l-2,-0.2l-2,0.3l-1,0.5z" fill="#cce080" stroke="#cce080" stroke-width="0.4" fill-rule="evenodd"/>
<path d="M40,14l3.4,0l-3.2,18l-2.7,13l-3.2,14l-10.3,39.4l-3,12.2l-2.4,11.4l-1.9,11l-1.3,12l-0.4,11l0.2,9l1.1,13l0.1,5l0.6,1.7l15.2,30.3l3.8,8.1l5,9.1l5.4,7.8l4.6,9l3.7,6l2.7,6l1.6,6.6l0.5,1.4l0,2l0.2,2l-0.2,3l0.2,2l-0.2,1l-0.6,1l0,2l-0.9,1.6l-2.9,4.4l-0.5,1l-0.2,1l0.2,1l2,7l1.4,3.7l4.4,8.3l0.6,2.3l1,2.4l1,1.4l1.3,0.9l10.7,5.1l2.6,0.9l7.4,1.8l2,0.7l5,2.2l2,0.2l5.1,-0.9l17.9,-4.4l12.7,-2.6l2.3,-0.9l5,-2.5l3,-1.2l3,-0.9l6,-1.4l3,-0.4l10,0l8,-1.3l2,-0.1l4,0.2l10,0.9l7,0.2l4,-0.2l13,-2l5,-2l6,-1.9l2,-0.4l8.6,-1.1l4.4,-1.2l5.1,-2.8l2.5,-2l4.4,-5.1l6,-6.4l1,-1.5l0.9,-2l0.6,-3l0.4,-6l0.8,-6l0,-3l-0.2,-2l-0.7,-3l-0.9,-2l-5.4,-8l-0.7,-2l-0.1,-1l0.1,-2l0.9,-3l3.3,-8l2.9,-8l5.7,-19l2.4,-6.8l2.3,-5.2l5.3,-10l2.4,-5.8l1,-1.1l1,-0.5l2,-0.6l3,-0.4l2,0.3l2,0.5l3,1.4l3,2.4l4.8,4.8l9,8l2.6,3l2.1,3l0.9,2l0.4,2l-0.1,5l0.8,6l-0.2,3l-0.8,3l-3.5,6.7l-1.8,4.3l-0.6,2l0.1,1l0.3,1l0.6,1l1.4,1.1l1,0.2l1,0l1,-0.4l1,-1l1.7,-2.9l2.3,-2.8l6.2,-6.2l5.8,-5.1l3,-2.9l1.5,-2l1.8,-5l6.2,-7l3.3,-3l3.6,-3l7,-5l4.6,-2.8l2,-2l3,-3.6l1,-1.6l2.4,-5l2.5,-7l2.4,-5l1,-3l2.8,-5l0.4,-2l0.6,-5l0.7,-2l1.7,-6l1,-2l1.5,-2.4l2,-2.6l2,-2.3l0,3.5l-3,3.8l-1.2,2l-0.9,2l-1.7,6l-0.8,6l-0.5,2l-5.9,12.1l-2.8,7.9l-2.2,5.3l-2,3.3l-3,3.7l-2,1.9l-4.9,3.8l-6.9,6l-3,3l-2.6,3l-2.6,4l-4,7.9l-3,4.6l-5,6.1l-4,4.2l-2.5,2.2l-0.7,1l-0.2,1l-0.3,4l-1,3l-2.3,4l-3,3.6l-5,4.8l-11.3,8.6l-7.9,7l-2.8,1.9l-2,1l-2,0.8l-2,0.4l-1.5,-0.1l-0.5,-0.5l-0.2,-0.5l0.2,-1l1.2,-2l3.5,-5l0.9,-2l0.4,-2l-0.3,-3l-1.6,-5l-0.1,-1l0.7,-1l1.3,-0.8l5,-1.9l3,-1.5l2,-1.5l1,-1l1.7,-2.3l0.9,-2l0.5,-2l0.4,-7l0.4,-2l0.8,-2l3.9,-7l2,-5l0.7,-4l0.1,-4l-0.5,-5l-0.4,-2l-0.8,-2l-1.6,-3l-1.3,-2l-1.6,-2l-2.2,-2.3l-3,-2.6l-5,-3.9l-3,-2l-2,-1.1l-3,-1l-2,-0.1l-1,0.2l-1,0.5l-1,0.8l-1,1.4l-3,5.4l-4.3,8.7l-1.7,4.3l-4.4,12.7l-6.8,14l-3,10l-0.1,2l0.2,2l1,3l1.1,2l4,5l1.9,3l1.4,3l0.8,3l0.5,4l0,4l-1.3,8l-0.7,3l-1.2,2l-4.3,5l-1.1,1l-6,4.5l-6.2,5.5l-5.8,3.3l-3,1.2l-3,0.8l-3,0.4l-6,0.2l-2,0.4l-7,2.2l-4,1.8l-9,1.3l-6,1.3l-2,0l-6,-0.3l-10,-1.1l-4,-0.2l-3,0.1l-8,1l-10,0.2l-3,0.3l-6,1.4l-3,1l-3,1.3l-5,2.7l-2,0.8l-4.4,0.9l-9.6,1.6l-21,5.4l-2,-0.1l-1,-0.2l-6,-3l-2,-0.5l-6.4,-1.2l-3.6,-1.3l-4.6,-2.7l-5.4,-2.5l-1,-0.7l-1,-1.3l-1,-2.4l-1,-3.1l-3,-5.5l-1.7,-3.5l-1.3,-3.4l-0.7,-2.6l-1.4,-3l-0.3,-1l0,-1l0.3,-1l0.5,-1l2.6,-3.4l1.7,-2.6l0.1,-2l0.7,-2l-0.3,-2l0.3,-3l-0.3,-2l0,-2l-2.2,-8l-2.7,-6l-4.3,-6.9l-3.5,-7.1l-1.2,-2l-4.3,-6l-5.1,-9l-4.1,-9l-15.1,-30l-0.8,-2l-1.6,-18l-0.4,-10l0.1,-6.5l0.4,-6.5l0.6,-6.9l0.9,-7.1l1.8,-11l2.3,-11.1l9.8,-40.9l4,-18l3.3,-17l2.7,-16z" fill="#dce874" stroke="#dce874" stroke-width="0.4" fill-rule="evenodd"/>
<path d="M44,14l3.2,0l-1.9,11l-2.4,12l-3,13l-3.4,13l-13.5,48l-3,12.8l-1.9,10.2l-1.4,11l-0.6,11l0.1,10l0.9,13l-0.2,4l0.4,1l3.1,6l0.6,1.5l6.4,12.5l0.6,1.5l12,23.8l2,3.6l4.5,6.1l4.5,9.1l4.3,6.9l1.6,4l0.6,1l0.5,2.1l0.4,0.9l1.5,6l-0.1,2l0.2,2l-0.3,4l0.2,1l-0.1,1l-0.6,1l0,2l-3.3,6l-0.3,1l-0.1,1l1.5,7.8l0.6,1.2l0.4,1.5l2.8,5.5l0.7,1l1.2,3l0.3,1.4l1,2.7l1,1.4l2,1.3l5,2.3l2,0.7l14,4.5l5,1.8l2,0.5l1,0l9.3,-1.6l24.6,-6l3.1,-1l9,-3.8l10,-2.5l12,-0.1l8,-1.5l2,-0.1l13,1l13.4,0l11.6,-1.7l11,-3.9l12,-2.3l2,-0.6l2,-1l4,-2.5l0.9,-1l3.1,-6l0.3,-1l0,-1l-0.5,-1l-1.8,-1.9l-2,-1.6l-2,-1l-5.2,-1.5l-4.5,-3l-0.8,-1l-0.5,-1l-0.1,-1l0.1,-1.3l1,-1.8l1,-0.6l1,-0.4l9,-0.7l5,-0.6l2,-0.5l1,-0.5l1,-0.9l1,-1.6l0.1,-1.1l-0.4,-3l-0.7,-2.1l-1,-0.9l-5,-3.1l-2,-0.9l-4,-1.3l-1,-0.5l-1,-1l-1,-1.6l-0.6,-1.6l0.1,-1l0.6,-1l2.9,-2.3l1.6,-0.7l4.4,-1.4l3,-1.9l3,-2.9l2,-2.9l1.4,-2.9l2.5,-7l1.5,-9l1.2,-6l1.3,-5l2.1,-6l1.7,-4l2,-4l5.3,-8.5l3,-6l1,-1.3l6,-3.2l2,-0.7l11,-1.1l1,0.1l0.3,0.7l1.1,4l1.7,4l1.1,2l1.6,2l4.2,3.5l6,3.3l3,1l5,0.5l1.8,0.7l1.2,0.9l0.9,1.1l0.4,1l0.2,2l-0.1,3l0.1,1l0.5,1.3l1,1.8l1,1l1,0.3l1,-0.3l5,-2.3l7,-5.1l6,-4.7l2.9,-2l7.7,-4l1.4,-0.9l3,-2.7l2.1,-2.4l3.6,-6l2.8,-7l2.2,-5l0.4,-1l0.2,-2l0.7,-1l0,-2.1l2,-1.9l1.3,-6l0.8,-2l1.6,-6l0.7,-2l1.6,-2.9l2,-3l4,-4.9l0,3.5l-2,2.3l-2,2.6l-1.5,2.4l-1,2l-1.7,6l-0.7,2l-0.6,5l-0.4,2l-2.8,5l-1,3l-2.4,5l-2.1,6l-2.8,6l-2.1,3l-3.7,4l-4.8,3l-7,5l-3.6,3l-3.8,3.5l-5.7,6.5l-1.8,5l-1.5,2l-3,2.9l-5.8,5.1l-6.2,6.2l-2.3,2.8l-1.7,2.9l-1,1l-1,0.4l-1,0l-1,-0.2l-1.4,-1.1l-0.6,-1l-0.3,-1l-0.1,-1l0.6,-2l1.8,-4.3l3.5,-6.7l0.8,-3l0.2,-3l-0.8,-6l0.1,-5l-0.4,-2l-0.9,-2l-2.1,-3l-2.6,-3l-9,-8l-4.8,-4.8l-3,-2.4l-3,-1.4l-2,-0.5l-2,-0.3l-3,0.4l-2,0.6l-1,0.5l-1,1.1l-2.4,5.8l-5.3,10l-2.3,5.2l-2.4,6.8l-5.7,19l-2.9,8l-3.3,8l-0.9,3l-0.1,2l0.1,1l0.7,2l5.4,8l0.9,2l0.7,3l0.2,2l0,3l-0.8,6l-0.4,6l-0.6,3l-0.9,2l-1,1.5l-6,6.4l-4.4,5.1l-2.5,2l-5.1,2.8l-4.4,1.2l-8.6,1.1l-2,0.4l-6,1.9l-5,2l-13,2l-4,0.2l-7,-0.2l-10,-0.9l-4,-0.2l-2,0.1l-8,1.3l-10,0l-3,0.4l-6,1.4l-3,0.9l-3,1.2l-5,2.5l-2.3,0.9l-12.7,2.6l-17.9,4.4l-5.1,0.9l-2,-0.2l-5,-2.2l-2,-0.7l-7.4,-1.8l-2.6,-0.9l-10.7,-5.1l-1.3,-0.9l-1,-1.4l-1,-2.4l-0.6,-2.3l-4.4,-8.3l-1.4,-3.7l-2,-7l-0.2,-1l0.2,-1l0.5,-1l2.9,-4.4l0.9,-1.6l0,-2l0.6,-1l0.2,-1l-0.2,-2l0.2,-3l-0.2,-2l0,-2l-0.5,-1.4l-1.6,-6.6l-2.7,-6l-3.7,-6l-4.6,-9l-5.4,-7.8l-5,-9.1l-3.8,-8.1l-15.2,-30.3l-0.6,-1.7l-0.1,-5l-1.2,-14l-0.1,-10l0.7,-12l1.6,-13l1.9,-10l2.8,-12.6l10.3,-39.4l4.3,-18l3.8,-18l3,-17zM300,162.7l1,-0.2l1,0.2l1,0.6l0.5,0.7l0.3,1l0.1,1l-0.1,2l-0.8,1.6l-1,0.9l-2,0.9l-2,0.4l-1,0l-0.5,-0.8l0,-1l0.4,-3l1.1,-2.8l1.1,-1.2z" fill="#ecee68" stroke="#ecee68" stroke-width="0.4" fill-rule="evenodd"/>
<path d="M48,14l3.3,0l-2.7,14l-2.8,13l-3.3,13l-3.4,12l-14.1,45.8l-3,11.5l-2.4,11.7l-1.6,11l-0.8,11l0,9l0.9,14l-0.1,3l0.8,1l1.7,3l0.5,1.6l0.9,1.4l0.3,1l0.8,1l0.8,2l0.7,1l0.5,1.5l0.9,1.5l0.4,1l0.7,1l2,4.5l0.8,1.5l0.4,1l0.7,1l2.1,4.7l4.3,8.3l4.3,9l5.4,8.1l2.2,4.9l2.6,5l3.8,6l2.7,6l1.5,6l0.2,2l0.3,1l-0.1,2l0.2,2l-0.5,4l0.4,1l-0.2,1l-0.5,1l0,2l-1.9,4l-0.3,1l-0.4,2l0.5,3l0.5,4.5l1,3.1l1.8,3.4l0.3,1l0.9,1.2l0.9,0.8l0.1,1l-0.3,1l0.1,1l0.8,3l0.8,2l0.6,0.8l1,0.8l6,2.7l2,0.5l3,-0.2l1,0.2l11,4l4,1.3l2,0.4l1,0l8,-1.3l3,-0.6l23,-5.8l3,-1.1l8,-3.3l10,-2.5l2,-0.3l11,0l8,-1.5l2,-0.2l3,0.3l3,0.8l3,-0.4l5,0.3l11,0l3,-0.2l10,-1.5l10,-3.6l6,-1.4l7,-1.1l2.6,-1.1l2.6,-2l0.8,-1l0.5,-1l0.2,-1l-0.1,-1l-0.6,-1.4l-1.5,-1.6l-3.2,-2l-2.3,-0.9l-4,-1.1l-2,-1l-1.1,-1l-1.5,-2l-0.8,-2l-0.3,-2l-0.1,-2l0.2,-2l0.6,-2.7l1,-3.3l1.3,-3l3.3,-5l0.8,-2l0.3,-3l-0.3,-6l0.3,-2l0.4,-1l0.9,-1.4l2,-1.9l3,-1.7l6,-2.2l3,-1.5l2,-1.5l1.5,-1.8l1,-2l0.6,-4l1.5,-3l0.4,-1.4l1.5,-11.6l1,-5l1.3,-4l2.2,-6l2.3,-5l2.7,-4.6l1.8,-2.4l6.2,-7.6l1.7,-2.4l10.3,-9.1l10,-6.8l8.1,-6.1l10.9,-7.2l0.3,0.2l0.2,1l0.2,2l0.7,3l0.6,1.6l1,1.7l1,0.9l1,0.5l1,0.2l1,0l1,-0.4l1,-0.6l1.6,-1.9l0.9,-2l0.3,-2l-0.3,-2l-0.5,-1.7l-1,-1.7l-2,-1.9l-1.7,-0.7l-0.5,-1l2.2,-2l5,-6.2l0.7,-0.8l1,-2l0.3,-0.3l1,-0.4l1,0.5l0.9,1.2l2.3,4l2,3l2.7,3l6,6l1.1,1.5l0.6,1.5l0.1,1l-0.8,4l-1.2,8l-2.7,10l-1,2.8l-1.9,4.2l-3.3,5l-0.8,1.7l-0.3,1.3l0,2l0.3,1l0.4,1l0.9,1l1.7,0.8l1,0.2l1,0l2,-0.6l8.4,-4.4l9.6,-5.8l1.3,-1.2l4.7,-6.7l2,-4.3l3,-8l1.1,-6l1.9,-3l1,-2.2l1.8,-4.8l1.6,-6l1.2,-3l1.4,-2.8l2,-3.2l3,-4.1l2,-2.3l0,3.6l-4,4.9l-2,3l-1.6,2.9l-0.7,2l-1.6,6l-0.8,2l-1.3,6l-2,1.9l0,2.1l-0.7,1l-0.2,2l-0.4,1l-2.2,5l-2.8,7l-3.6,6l-2.1,2.4l-3,2.7l-1.4,0.9l-7.7,4l-2.9,2l-6,4.7l-7,5.1l-5,2.3l-1,0.3l-1,-0.3l-1,-1l-1,-1.8l-0.5,-1.3l-0.1,-1l0.1,-3l-0.2,-2l-0.4,-1l-0.9,-1.1l-1.2,-0.9l-1.8,-0.7l-5,-0.5l-3,-1l-6,-3.3l-4.2,-3.5l-1.6,-2l-1.1,-2l-1.7,-4l-1.1,-4l-0.3,-0.7l-1,-0.1l-11,1.1l-2,0.7l-6,3.2l-1,1.3l-3,6l-5.3,8.5l-2,4l-1.7,4l-2.1,6l-1.3,5l-1.2,6l-1.5,9l-2.5,7l-1.4,2.9l-2,2.9l-3,2.9l-3,1.9l-4.4,1.4l-1.6,0.7l-2.9,2.3l-0.6,1l-0.1,1l0.6,1.6l1,1.6l1,1l1,0.5l4,1.3l2,0.9l5,3.1l1,0.9l0.7,2.1l0.4,3l-0.1,1.1l-1,1.6l-1,0.9l-1,0.5l-2,0.5l-5,0.6l-9,0.7l-1,0.4l-1,0.6l-1,1.8l-0.1,1.3l0.1,1l0.5,1l0.8,1l4.5,3l5.2,1.5l2,1l2,1.6l1.8,1.9l0.5,1l0,1l-0.3,1l-3.1,6l-0.9,1l-4,2.5l-2,1l-2,0.6l-12,2.3l-11,3.9l-11.6,1.7l-13.4,0l-13,-1l-2,0.1l-8,1.5l-12,0.1l-10,2.5l-9,3.8l-3.1,1l-24.6,6l-8.3,1.5l-2,0.1l-1,-0.2l-6,-2.1l-14,-4.5l-2,-0.7l-5,-2.3l-2,-1.3l-1,-1.4l-1,-2.7l-0.3,-1.4l-1.2,-3l-2.5,-4.5l-1,-2l-0.4,-1.5l-0.6,-1.2l-1.5,-7.8l0.1,-1l0.3,-1l3.3,-6l0,-2l0.6,-1l0.1,-1l-0.2,-1l0.3,-4l-0.2,-2l0.1,-2l-1.5,-6l-0.4,-0.9l-0.5,-2.1l-0.6,-1l-1.6,-4l-4.3,-6.9l-4.5,-9.1l-4.5,-6.1l-2,-3.6l-12,-23.8l-0.6,-1.5l-6.4,-12.5l-0.6,-1.5l-3.1,-6l-0.4,-1l0.2,-4l-1,-16l0,-9l0.9,-12l2,-13l2,-9.8l3,-12l10.6,-37.2l5,-19l4.1,-18l3.5,-19zM312.8,161l-0.8,1.2l-1.4,3.8l-1.3,6l-1.1,2l-3.4,5l-0.4,1l-0.1,1l0.2,1l0.5,1l1,0.9l1,0.6l2,0.8l4,0.9l1,0.1l1.6,-0.3l5.4,-1.5l1,-0.3l1,-0.9l2.8,-4.3l0.4,-1l0.3,-2l0,-5l-0.4,-2l-0.5,-1l-3.6,-5.5l-1,-0.9l-1,-0.3l-4,-0.1l-2,-0.6l-1,0.2zM299.1,163l-1.1,1.2l-1.1,2.8l-0.4,3l0,1l0.5,0.8l1,0l2,-0.4l2,-0.9l1,-0.9l0.8,-1.6l0.1,-2l-0.1,-1l-0.3,-1l-0.5,-0.7l-1,-0.6l-1,-0.2l-1,0.2z" fill="#f9f060" stroke="#f9f060" stroke-width="0.4" fill-rule="evenodd"/>
<path d="M52,14l3.5,0l-2.9,15l-3.5,15l-3.5,13l-4,13l-14.6,43l-3,10.3l-2.1,8.7l-1.9,10l-1.2,10l-0.6,9l0.2,9l0.7,8l0.7,3l1.3,2l5.5,11l15.3,33l5.1,8.2l3,7.3l2.5,4.5l4.3,7l2.2,4.9l1.6,7.1l0.3,6l0,3l-0.4,2l0.3,1l-0.2,1l-0.5,1l-0.1,2l-1,3l-0.4,2l1,8l1.1,3l2.1,4l1.2,1.7l1.4,1.3l0.3,1l-0.3,1l-1.7,2l0,2l0.7,2l0.6,1.1l1,0.9l2,1l3,1.2l2,0.4l1,0l3,-1l1,-0.1l16,5.5l1,0.2l2,-0.1l7,-1.2l25,-6.2l2.3,-0.7l9.7,-4l10,-2.4l2,-0.2l10,-0.1l9,-1.5l2,-0.2l3,0.3l3,0.8l1,0l2,-0.3l5,0.3l13,-0.2l10,-1.4l11,-3.8l11,-2.3l2,-0.8l1.3,-1.2l0.5,-1l0.1,-1l-0.3,-1l-0.7,-1l-1,-1l-1.6,-1l-1.3,-0.5l-3,-0.6l-1,-0.4l-3.1,-1.5l-1.4,-1l-1,-1l-1.2,-2l-0.6,-2l-0.3,-2l-0.1,-2l0.4,-3l2.3,-8.3l1.1,-2.7l3,-4l0.5,-1l0.7,-2l0.3,-2l-0.1,-7l0.7,-3l1.1,-2l2,-2l2.7,-1.7l6.9,-3.3l1.8,-1l1.3,-1l1.6,-2l0.9,-2l2.5,-7.8l0.6,-3.2l1.2,-10l0.8,-3l2.2,-6l4.2,-10l5,-8.6l5,-7.4l3.9,-5l6.1,-7.3l2,-2l8.2,-6.7l2,-2l6.8,-9l7.2,-9l2.8,-2.6l6.7,-5.4l2,-2l1.6,-2l-0.5,-1l-2.8,-0.5l-2,-0.7l-1,-0.7l-1,-1.3l-0.3,-0.8l-0.1,-1l0.2,-1l0.9,-2l1.3,-1.7l2,-1.9l2,-1.3l1,-0.4l1,-0.2l1,0.4l0.5,1.1l0.2,1l-0.1,7l0.3,3l0.5,1l1.9,1l8.7,2.9l2,1.1l2,1.7l2,2.5l5,8.8l6,8.9l1.4,3.1l0.3,2l-2.2,11l-0.8,8l0.2,2l1.2,4l0.9,1.7l2,1.3l2,0.7l2,0.3l1,-0.1l1,-0.5l4,-2.9l1.6,-1.5l0.7,-1l2.7,-5.1l1.4,-4.9l1.6,-7l0.9,-2l2.4,-4l1.7,-3.9l2.5,-8.1l1.5,-3.9l2,-3.8l2,-3.2l3,-4.1l2,-2.3l0,3.9l-2,2.3l-3,4.1l-2,3.2l-1.9,3.8l-1,3l-1.3,5l-1.8,4.8l-1,2.2l-1.9,3l-1.1,6l-1.8,5l-1.2,3.1l-2.4,4.9l-4.3,6l-1.3,1.2l-9.6,5.8l-8.4,4.4l-2,0.6l-1,0l-1,-0.2l-1.7,-0.8l-0.9,-1l-0.4,-1l-0.3,-1l0,-2l0.3,-1.3l0.8,-1.7l3.3,-5l1.9,-4.2l1,-2.8l2.7,-10l1.2,-8l0.8,-4l-0.1,-1l-0.6,-1.5l-1.1,-1.5l-6,-6l-2.7,-3l-2,-3l-2.3,-4l-0.9,-1.2l-1,-0.5l-1,0.4l-0.3,0.3l-1,2l-0.7,0.8l-5,6.2l-2.2,2l0.5,1l1.7,0.7l2,1.9l1,1.7l0.5,1.7l0.3,2l-0.3,2l-0.9,2l-1.6,1.9l-1,0.6l-1,0.4l-1,0l-1,-0.2l-1,-0.5l-1,-0.9l-1,-1.7l-0.6,-1.6l-0.7,-3l-0.2,-2l-0.2,-1l-0.3,-0.2l-10.9,7.2l-8.1,6.1l-10,6.8l-10.3,9.1l-1.7,2.4l-6.2,7.6l-1.8,2.4l-2.7,4.6l-2.3,5l-2.2,6l-1.3,4l-1,5l-1.5,11.6l-0.4,1.4l-1.5,3l-0.6,4l-1,2l-1.5,1.8l-2,1.5l-3,1.5l-6,2.2l-3,1.7l-2,1.9l-0.9,1.4l-0.4,1l-0.3,2l0.3,6l-0.3,3l-0.8,2l-3.3,5l-1.3,3l-1,3.3l-0.6,2.7l-0.2,2l0.1,2l0.3,2l0.8,2l1.5,2l1.1,1l2,1l4,1.1l2.3,0.9l3.2,2l1.5,1.6l0.6,1.4l0.1,1l-0.2,1l-0.5,1l-0.8,1l-2.6,2l-2.6,1.1l-7,1.1l-6,1.4l-10,3.6l-10,1.5l-3,0.2l-11,0l-5,-0.3l-3,0.4l-3,-0.8l-3,-0.3l-2,0.2l-8,1.5l-11,0l-2,0.3l-10,2.5l-8,3.3l-3,1.1l-23,5.8l-3,0.6l-8,1.3l-1,0l-2,-0.4l-4,-1.3l-11,-4l-1,-0.2l-3,0.2l-2,-0.5l-6,-2.7l-1,-0.8l-0.6,-0.8l-0.8,-2l-0.8,-3l-0.1,-1l0.3,-1l-0.1,-1l-0.9,-0.8l-0.9,-1.2l-0.3,-1l-1.8,-3.4l-1,-3.1l-0.5,-4.5l-0.5,-3l0.4,-2l0.3,-1l1.9,-4l0,-2l0.5,-1l0.2,-1l-0.4,-1l0.5,-4l-0.2,-2l0.1,-2l-0.3,-1l-0.2,-2l-1.5,-6l-2.7,-6l-3.8,-6l-2.6,-5l-2.2,-4.9l-5.4,-8.1l-4.3,-9l-4.3,-8.3l-2.1,-4.7l-0.7,-1l-0.4,-1l-0.8,-1.5l-2,-4.5l-0.7,-1l-0.4,-1l-0.9,-1.5l-0.5,-1.5l-0.7,-1l-0.8,-2l-0.8,-1l-0.3,-1l-0.9,-1.4l-0.5,-1.6l-1.7,-3l-0.8,-1l0.1,-3l-1,-15l0.1,-9l1,-12l1.9,-12l1.9,-8.7l3,-11.5l3,-10.1l9.7,-30.7l5.1,-18l4.8,-20l3.7,-19zM313,160.8l1,-0.2l2,0.6l4,0.1l1,0.3l1,0.9l3.6,5.5l0.5,1l0.4,2l0,5l-0.3,2l-0.4,1l-2.8,4.3l-1,0.9l-1,0.3l-5.4,1.5l-1.6,0.3l-1,-0.1l-4,-0.9l-2,-0.8l-1,-0.6l-1,-0.9l-0.5,-1l-0.2,-1l0.1,-1l0.4,-1l3.4,-5l1.1,-2l1.3,-6l1.4,-3.8l0.8,-1.2z" fill="#fce45a" stroke="#fce45a" stroke-width="0.4" fill-rule="evenodd"/>
<path d="M56,14l4.1,0l-1.9,10l-2.5,11l-3.9,15l-4.6,15l-4.9,14l-12.3,32.7l-3,8.9l-2.2,7.4l-2.6,11l-1.7,10l-0.9,10l-0.2,5l0.1,5l0.5,6l1,3.8l7.7,15.2l14.3,31.8l4.5,7.2l0.8,2l1.2,4l1.3,3l6.7,11l1.6,3l0.8,2l1.4,7l0.3,5l-0.2,8l-1.3,8l0.6,6l0.4,2l0.7,2l2.5,5l0.7,1l2.3,2l0.3,1l-0.2,1l-0.5,1l-2.1,2l-0.5,1l-0.1,1l0.3,1l0.5,1.2l1,1.1l1.3,0.7l2.7,1l2,0.4l1,0l1,-0.3l3,-1.4l1,-0.2l1,0l15,5.1l2,0.4l1,-0.1l8,-1.5l23,-5.7l3,-0.9l9,-3.8l11,-2.7l2,-0.1l10,-0.1l10,-1.7l5,0.1l1,0.5l1,0.7l1,-0.1l2,-0.6l4,0.5l14,-0.2l9,-1.2l11,-3.8l3,-0.8l5,-0.9l2.1,-0.6l1.3,-1l0.4,-1l-0.2,-1l-0.6,-0.7l-1,-0.7l-1,-0.4l-7.9,-2.2l-1.6,-1l-1.5,-1.6l-1,-1.5l-0.8,-1.9l-0.6,-3l-0.1,-2l0.4,-3l2.3,-7l1.3,-3l1.5,-3l1.6,-2l1.3,-2l0.6,-2l0.3,-3l-0.5,-8l0.5,-3l0.9,-2l1.9,-2l2.4,-1.7l5.9,-3.3l2.1,-1.4l2,-1.7l2,-2.9l1.5,-4l1,-4l2,-14l3,-8l5.5,-12.9l6,-12.1l7.4,-13l1.6,-2.2l10.1,-11.8l0.8,-2l3.2,-14l3.9,-8l1,-1.9l1,-1.3l3,-2.2l3.1,-2.6l6.9,-3.8l2,-1.4l6,-5l8,-8.2l3,-2.7l2,-1.4l5,-1.9l1,-0.1l1.3,0.5l2.7,2l0.6,1l0.5,2l0.1,3l-0.2,2.8l-1,4.5l-3.9,9.7l0.1,1l1.1,1l2.7,1.4l2,1.6l2,2.3l1,1.5l2,3.4l4.3,8.8l5.8,11l1.1,3l0.4,3l-0.3,3l-1.3,8.3l-0.2,3.7l0.2,2l0.8,2l1.2,1.5l1,0.7l2,0.6l2,-0.2l2,-0.9l1,-0.8l2,-2.8l1,-2.4l1.5,-6.7l1,-3l0.9,-2l3.6,-5.6l1.7,-3.4l1,-3l2.1,-7l1.5,-4l1.7,-3.3l2.3,-3.7l2.7,-3.9l3,-3.7l0,4.3l-2,2.3l-3,4.1l-2,3.2l-2,3.8l-1.5,3.9l-2.5,8.1l-1.7,3.9l-2.4,4l-0.9,2l-2.7,11l-0.3,1l-2.1,4l-0.9,1.5l-1,1.1l-5,3.8l-1,0.5l-2,0l-3,-0.9l-2,-1.3l-0.9,-1.7l-1.2,-4l-0.2,-2l0.8,-8l2.2,-11l-0.3,-2l-1.4,-3.1l-6,-8.9l-5,-8.8l-2,-2.5l-2,-1.7l-2,-1.1l-8.7,-2.9l-1.9,-1l-0.5,-1l-0.3,-3l0.1,-7l-0.2,-1l-0.5,-1.1l-1,-0.4l-1,0.2l-1,0.4l-2,1.3l-2,1.9l-1.3,1.7l-0.9,2l-0.2,1l0.1,1l0.3,0.8l1,1.3l1,0.7l2,0.7l2.8,0.5l0.5,1l-1.6,2l-2,2l-6.7,5.4l-2.8,2.6l-7.2,9l-6.8,9l-2,2l-8.2,6.7l-2,2l-6.1,7.3l-3.9,5l-5,7.4l-5,8.6l-4.2,10l-2.2,6l-0.8,3l-1.2,10l-0.6,3.2l-2.5,7.8l-0.9,2l-1.6,2l-1.3,1l-1.8,1l-6.9,3.3l-2.7,1.7l-2,2l-1.1,2l-0.7,3l0.1,7l-0.3,2l-0.7,2l-0.5,1l-3,4l-1.1,2.7l-2.3,8.3l-0.4,3l0.1,2l0.3,2l0.6,2l1.2,2l1,1l1.4,1l3.1,1.5l1,0.4l3,0.6l1.3,0.5l1.6,1l1,1l0.7,1l0.3,1l-0.1,1l-0.5,1l-1.3,1.2l-2,0.8l-11,2.3l-11,3.8l-10,1.4l-13,0.2l-5,-0.3l-2,0.3l-1,0l-3,-0.8l-3,-0.3l-2,0.2l-9,1.5l-10,0.1l-2,0.2l-10,2.4l-9.7,4l-2.3,0.7l-25,6.2l-7,1.2l-2,0.1l-1,-0.2l-16,-5.5l-1,0.1l-3,1l-1,0l-2,-0.4l-3,-1.2l-2,-1l-1,-0.9l-0.6,-1.1l-0.7,-2l0,-2l1.7,-2l0.3,-1l-0.3,-1l-1.4,-1.3l-1.2,-1.7l-2.1,-4l-1.1,-3l-1,-8l0.4,-2l1,-3l0.1,-2l0.5,-1l0.2,-1l-0.3,-1l0.4,-2l0,-3l-0.3,-6l-1.6,-7.1l-2.2,-4.9l-4.3,-7l-2.5,-4.5l-3,-7.3l-5.1,-8.2l-15.3,-33l-5.5,-11l-1.3,-2l-0.5,-2l-0.3,-1.8l-0.7,-8.2l0,-9l0.7,-10.5l1.5,-10.5l2.3,-11l2.2,-8.3l3,-9.9l12.3,-35.8l5.5,-18l2.8,-10l2.7,-11l2.4,-11l1.8,-10zM110,270.8l1,-0.1l1,0.3l1,0.8l1,1.6l0.5,1.6l0.2,2l-0.5,2l-1.2,1.7l-1,0.6l-1,0.2l-1,-0.2l-1,-0.6l-1,-1.3l-0.6,-1.4l-0.2,-2l0.3,-2l1.1,-2l1,-1z" fill="#fdd654" stroke="#fdd654" stroke-width="0.4" fill-rule="evenodd"/>
<path d="M60,14.8l0.1,-0.8l4.9,0l-2.5,13l-2.9,12l-4.2,15l-5.1,15l-5.9,15l-11.4,27.2l-3,7.9l-3,8.9l-3,11.1l-1.9,9.9l-1.2,10l-0.2,9l0.3,4.1l1,4.1l8,16l8,18.1l6,14.2l4.1,6.5l0.9,2.7l1,4.3l1,2.4l2,3.6l6.9,11l0.4,1l1.6,7l0.3,3l0.1,10l-0.7,9l0.6,6l0.8,3l0.9,2l1.2,2l0.9,2.6l1,0.9l1.2,0.5l0.8,0.7l0.8,1.3l0.1,1l-0.4,1l-0.7,1l-3.5,3l-0.3,0.8l0,0.6l0.1,0.6l0.9,1.3l1,0.7l2,0.7l2,0.4l1.6,-0.1l1.4,-0.6l3,-1.8l2,-0.4l2,0.4l13,4.4l2,0.4l1,0l7.7,-1.4l24.1,-6l10.2,-4.2l11,-2.8l3,-0.2l10,-0.1l10,-1.7l5,0.2l1,0.4l1,0.6l1,0l1,-0.4l1,-0.2l4,0.5l13.2,-0.1l8.8,-1.2l2.7,-0.8l9.3,-3.4l2.6,-0.6l1.4,-0.6l3.6,-0.4l-0.6,-0.3l-7,-1.5l-2,-0.9l-2,-1.4l-1.8,-1.9l-1.2,-2l-1.1,-3l-0.7,-3l-0.2,-2l0.1,-2l0.4,-2l0.8,-2l3.9,-7l4.5,-5l0.6,-1l0.6,-2l0,-3l-1.2,-7l-1,-5l0.1,-2l0.9,-2l1.8,-2l2.5,-1.7l5.6,-3.3l2.7,-2l1,-1l0.6,-1l0.2,-1l1.4,-2l2,-4l0.8,-2l1.7,-8l1.7,-11l0.7,-3l0.8,-2l10.6,-21l14.3,-32l0.8,-3l0.2,-7l0.8,-6l1,-2l1.7,-2l3.1,-3l5.3,-3.3l3.5,-1.7l6.5,-2.5l8,-3.6l2,-1l5,-3.3l2,-1.6l4,-4l5,-6.5l4,-4.5l1,-0.8l5,-1.4l1,-0.2l1,0.1l2,0.7l2,1.5l1,1.1l1,1.6l1.4,3.4l0.7,3l2.9,16l0.5,4l0.7,3l5.1,13l7.2,17l1.3,4l0.7,3l0.6,4l0.5,2l0.4,0.8l1,0.1l1,-1.1l2.5,-3.8l5.5,-6.7l2.2,-3.3l1.9,-4l2.6,-10l2.3,-5.5l1.9,-3.5l2.1,-3.3l3,-4.2l3,-3.8l0,4.7l-3,3.7l-2.7,3.9l-2.3,3.7l-1.7,3.3l-1.5,4l-2.1,7l-1,3l-1.7,3.4l-3.6,5.6l-0.9,2l-1,3l-1.5,6.7l-1,2.4l-2,2.8l-1,0.8l-2,0.9l-2,0.2l-2,-0.6l-1,-0.7l-1.2,-1.5l-0.8,-2l-0.2,-2l0.2,-3.7l1.3,-8.3l0.3,-3l-0.4,-3l-1.1,-3l-5.8,-11l-4.3,-8.8l-2,-3.4l-1,-1.5l-2,-2.3l-2,-1.6l-2.7,-1.4l-1.1,-1l-0.1,-1l3.9,-9.7l1,-4.5l0.2,-2.8l-0.1,-3l-0.5,-2l-0.6,-1l-2.7,-2l-1.3,-0.5l-1,0.1l-5,1.9l-2,1.4l-3,2.7l-8,8.2l-6,5l-2,1.4l-6.9,3.8l-3.1,2.6l-3,2.2l-1,1.3l-1,1.9l-3.9,8l-3.2,14l-0.8,2l-10.1,11.8l-1.6,2.2l-7.4,13l-6,12.1l-5.5,12.9l-3,8l-2,14l-1,4l-1.5,4l-2,2.9l-2,1.7l-2.1,1.4l-5.9,3.3l-2.4,1.7l-1.9,2l-0.9,2l-0.5,3l0.5,8l-0.3,3l-0.6,2l-1.3,2l-1.6,2l-1.5,3l-1.3,3l-2.3,7l-0.4,3l0.1,2l0.6,3l0.8,1.9l1,1.5l1.5,1.6l1.6,1l7.9,2.2l1,0.4l1,0.7l0.6,0.7l0.2,1l-0.4,1l-1.3,1l-2.1,0.6l-5,0.9l-3,0.8l-11,3.8l-9,1.2l-14,0.2l-4,-0.5l-2,0.6l-1,0.1l-1,-0.7l-1,-0.5l-5,-0.1l-10,1.7l-10,0.1l-2,0.1l-11,2.7l-9,3.8l-3,0.9l-23,5.7l-8,1.5l-1,0.1l-2,-0.4l-15,-5.1l-1,0l-1,0.2l-3,1.4l-1,0.3l-1,0l-2,-0.4l-2.7,-1l-1.3,-0.7l-1,-1.1l-0.5,-1.2l-0.3,-1l0.1,-1l0.5,-1l2.1,-2l0.5,-1l0.2,-1l-0.3,-1l-2.3,-2l-0.7,-1l-2.5,-5l-0.7,-2l-0.4,-2l-0.6,-6l1.3,-8l0.2,-8l-0.3,-5l-1.4,-7l-0.8,-2l-1.6,-3l-6.7,-11l-1.3,-3l-1.2,-4l-0.8,-2l-4.5,-7.2l-14.3,-31.8l-7.7,-15.2l-0.6,-1.8l-0.4,-2.2l-0.6,-6.8l0.2,-9l0.8,-9l1.6,-10l2.3,-10l2.7,-9.4l3,-8.9l13.4,-35.7l6.1,-18l2.9,-10l2.9,-11l2.5,-11l2.2,-11zM316,67.9l1,0.1l1,0.9l0.5,1.1l0.5,1.6l0.1,1.4l-0.1,0.5l-0.9,0.5l-2.1,-1.2l-1.3,-1.8l-0.2,-1l0.2,-1l0.3,-0.5l0.7,-0.5zM109,264l2,0.4l2,0.7l1,0.6l1,1l2.3,4.3l0.2,1l0,4l-0.1,2l-0.5,2l-0.8,2l-1.7,3l-0.4,0.4l-1,0.5l-4,0.5l-1,0l-1,-0.7l-2.5,-4.7l-1.4,-6l-0.4,-3l0.6,-5l0.4,-1l0.3,-0.5l1,-0.7l2,-0.6l1.5,-0.2zM109.6,271l-1,1l-1.1,2l-0.3,2l0.2,2l0.6,1.4l1,1.3l1,0.6l1,0.2l1,-0.2l1,-0.6l1.2,-1.7l0.5,-2l-0.2,-2l-0.5,-1.6l-1,-1.6l-1,-0.8l-1,-0.3l-1,0.1z" fill="#fdc44a" stroke="#fdc44a" stroke-width="0.4" fill-rule="evenodd"/>
<path d="M65,14.3l0,-0.3l5.4,0l-3,15l-3.8,15l-4.3,14l-5.6,15l-6.1,14l-12.6,26.9l-3,7.2l-3,8l-3,9.9l-2,9l-1.5,10l-0.4,5l-0.1,4l0.4,4l0.8,3l7.9,16l8.2,19l5.6,14l4.1,6.7l0.4,1.3l0.9,5l0.7,2.4l3,5.3l6.7,10.3l0.5,1l1,5l0.6,4l0.4,12l-0.2,7l0.5,6l0.4,2l1.1,3l2.1,4l0.5,2l2.4,1l1.3,1l0.9,1l0.6,1l0.3,1l-0.1,1l-0.6,1l-1.4,1l-3.8,2l-0.9,1l0.1,1l0.6,0.7l1,0.6l2,0.3l2,-0.4l1.6,-1.2l2.4,-2.6l2,-1l2,-0.5l2,-0.1l2,0.3l1,0.3l4.9,2.6l3.1,1.4l2,0.6l3,0.2l3,-0.4l8.8,-1.8l4.3,-1l6.7,-2l4.7,-2l1.4,-1l2.1,-2.2l1,-0.7l5,0.3l9,-1.3l6,-1.1l12,-0.3l10,-1.1l2,0l3,0.3l3,1l4,-0.6l10,0.4l3,-0.1l4,-0.6l5,-1.3l2.3,-0.7l1.8,-1l0.8,-1l0.3,-1l-0.1,-1l-3.7,-10l-1.4,-2.9l-1,-1.6l-2,-2l-4.9,-3.5l-2.2,-2l-3.8,-4l-2.6,-3l-2,-3l-0.9,-2l-0.8,-3l0.1,-2l0.6,-2l1.5,-2.3l2,-1.9l3,-1.7l3,-1l2,-0.3l7,-0.1l2,-0.6l1,-0.7l1,-1.2l2.6,-4.2l2.4,-2.7l2,-1.8l3,-2.1l6.7,-3.4l0.4,-1l0.8,-1l1.1,-0.4l4,-4.5l1.7,-3.1l2.7,-8l1.2,-11l2.9,-9l1.5,-3.5l6,-10.2l5.6,-11.3l4.7,-13l0.5,-2l1.2,-7.4l1.2,-2.6l-1.2,-1l-2.4,-5l-0.7,-1l-3.9,-4.5l-1,-0.9l-1,-0.6l-6,-2.7l-1.6,-1.3l-0.5,-1l0,-1l0.4,-1l0.7,-1l1,-0.7l3.8,-1.3l8.9,-2l20.3,-3.5l18,-5.4l2.9,-1.1l6.1,-3l2,-1.4l3.8,-3.6l3.2,-4l2,-3l2,-4l0.3,-1l-0.1,-2l-0.3,-2l-0.6,-2l-1.5,-3l-3.1,-4l-0.5,-1l-0.9,-3l-1.2,-5l0.1,-1l0.5,-1l1.1,-1l1.2,-0.4l2,0.2l2,1l2,1.5l1,1l1,1.5l1.3,5.2l1.1,2l2.6,2.8l2,1.6l5,2.6l1.5,1l3.5,4l1,1.7l1,2.5l2.3,7.8l1.8,10l4.5,16l8.4,23.8l2,3.9l1,1.3l1,0.8l1,0.4l1,0l2,-0.7l1,-0.7l1.9,-1.8l2.2,-3l1.2,-2l0.7,-2l1.7,-9l0.9,-3l1.6,-4l2.2,-4l2.6,-4l4,-5.7l3,-3.9l0,5.3l-3,3.8l-3,4.2l-2.1,3.3l-1.9,3.5l-2.3,5.5l-2.6,10l-1.9,4l-2.2,3.3l-5.5,6.7l-2.5,3.8l-1,1.1l-1,-0.1l-0.4,-0.8l-0.5,-2l-0.6,-4l-0.7,-3l-1.3,-4l-7.2,-17l-5.1,-13l-0.7,-3l-0.5,-4l-2.9,-16l-0.7,-3l-1.4,-3.4l-1,-1.6l-1,-1.1l-2,-1.5l-2,-0.7l-1,-0.1l-1,0.2l-5,1.4l-1,0.8l-4,4.5l-5,6.5l-4,4l-2,1.6l-5,3.3l-2,1l-8,3.6l-7,2.7l-3.6,1.8l-4.7,3l-1.2,1l-2.8,3l-1.4,2l-0.7,2l-0.6,6l-0.1,6l-0.8,3l-14.3,32l-10.6,21l-0.8,2l-0.7,3l-1.7,11l-1.7,8l-0.8,2l-2,4l-1.4,2l-0.2,1l-0.6,1l-1,1l-2.7,2l-5.6,3.3l-2.5,1.7l-1.8,2l-0.9,2l-0.1,2l1,5l1.2,7l0,3l-0.6,2l-0.6,1l-4.5,5l-3.9,7l-0.8,2l-0.4,2l-0.1,2l0.2,2l0.7,3l1.1,3l1.2,2l1.8,1.9l2,1.4l2,0.9l7,1.5l0.6,0.3l-3.6,0.4l-1.4,0.6l-2.6,0.6l-9.3,3.4l-2.7,0.8l-8.8,1.2l-13.2,0.1l-4,-0.5l-1,0.2l-1,0.4l-1,0l-1,-0.6l-1,-0.4l-5,-0.2l-10,1.7l-10,0.1l-3,0.2l-11,2.8l-10.2,4.2l-24.1,6l-7.7,1.4l-1,0l-2,-0.4l-13,-4.4l-2,-0.4l-2,0.4l-3,1.8l-1.4,0.6l-1.6,0.1l-2,-0.4l-2,-0.7l-1,-0.7l-0.9,-1.3l-0.1,-0.6l0,-0.6l0.3,-0.8l3.5,-3l0.7,-1l0.4,-1l-0.1,-1l-0.8,-1.3l-0.8,-0.7l-1.2,-0.5l-1,-0.9l-0.9,-2.6l-1.2,-2l-0.9,-2l-0.8,-3l-0.6,-6l0.7,-9l-0.1,-10l-0.3,-3l-1.6,-7l-0.4,-1l-6.9,-11l-2,-3.6l-1,-2.4l-1,-4.3l-0.9,-2.7l-4.1,-6.5l-6,-14.2l-8,-18.1l-8,-16l-1,-4.1l-0.4,-5.1l0.4,-9l1,-8.6l1.8,-9.4l2.2,-8.6l3,-9.5l3,-8.1l14.5,-34.8l3.8,-10l3.1,-9l3.2,-10l3,-11l2.9,-12l2.4,-12zM315.7,68l-0.7,0.5l-0.3,0.5l-0.2,1l0.2,1l1.3,1.8l2.1,1.2l0.9,-0.5l0.1,-0.5l-0.1,-1.4l-0.5,-1.6l-0.5,-1.1l-1,-0.9l-1,-0.1zM254.7,118l-0.7,0.1l-0.9,0.9l-0.4,1l0.1,1l0.5,1l0.7,0.8l1,0.3l1,-0.2l0.9,-0.9l0.4,-1l-0.1,-1l-0.5,-1l-0.7,-0.7l-1,-0.4zM210.5,251l-0.5,0.2l-1,0.8l-0.7,1l-0.6,2l0,2l0.2,1l1.1,1.6l1,0.6l2,0.3l3,-0.6l2,0.6l1,0.1l1,-0.3l0.4,-0.3l0.3,-1l-0.4,-1l-0.3,-0.4l-1,-0.5l-1.3,-0.1l-1,-3l-0.7,-1.1l-2,-1.7l-1,-0.3l-1,-0.1zM95,247.8l2,-0.4l1,0.1l7,3.4l9.1,6.1l5.9,3.3l0.9,0.7l0.8,1l0.9,2l0.7,2l0.3,2l-0.1,2l-3,14l-2.2,4l-1.3,1.1l-4,1.1l-1,0.2l-2,-0.1l-3,-0.4l-1,-0.4l-2,-1.3l-1,-1.6l-2,-4.4l-0.7,-6.2l-0.5,-2l-0.8,-1.6l-3.3,-4.4l-4.7,-5.4l-3.5,-3.6l-1.5,-2l-0.4,-1l-0.1,-1l0.3,-1l3,-4l1.2,-0.9l1,-0.4l3,-0.7zM108.5,264l-1.5,0.2l-2,0.6l-1,0.7l-0.3,0.5l-0.4,1l-0.6,5l0.4,3l1.4,6l2.5,4.7l1,0.7l1,0l4,-0.5l1,-0.5l0.4,-0.4l1.7,-3l0.8,-2l0.5,-2l0.1,-2l0,-4l-0.2,-1l-2.3,-4.3l-1,-1l-1,-0.6l-2,-0.7l-2,-0.4zM144,257.6l2,-0.5l1,0l1,0.2l1,0.5l1.3,1.2l0.5,1l0.4,1l-0.1,2l-0.5,1l-0.6,0.8l-1,0.9l-1,0.5l-1,0.2l-2,-0.2l-2,-0.9l-1.4,-1.3l-0.6,-1l-0.2,-1l0.1,-1l0.4,-1l0.7,-0.9l1.4,-1.1zM84,288.6l1,-0.4l1,0l1,0.3l2,1.2l1.2,1.3l1.3,2l1.5,3.9l1.6,3.1l-0.3,1l-1.3,1l-2,1l-3,1l-1,0l-1,-0.2l-1,-0.9l-1,-2.5l-1,-3.5l-0.5,-2.9l0.1,-3l0.4,-1.1l0.6,-0.9zM99,300l0,0.2l-0.1,-0.2z" fill="#fdb040" stroke="#fdb040" stroke-width="0.4" fill-rule="evenodd"/>
<path d="M71,14l5.2,0l-1.7,9l-2.1,10l-2.3,9l-2.6,9l-2.3,7l-2.6,7l-5,12l-6.3,13l-13.3,24.9l-4,8.5l-3,7.4l-3,8.8l-2.4,9.4l-1.4,9l-0.5,8l0.2,4l0.5,2l8,16l8.8,21l4.8,12.6l4,6.6l0.5,1.8l0.4,5l0.9,3l4.2,6.8l5.6,8.2l0.5,1l1.7,9l0.2,8l0.6,11l0.5,6l0.3,2l0.8,2l3.2,6l1,1l2.6,1.5l1,0.1l3,-1.1l1,-0.7l0.5,-0.8l0.5,-1.3l0.5,-3.7l0,-3l-1.7,-5l-0.4,-2l0,-3l0.6,-1.7l1,-0.5l1,0.1l3,1.3l2,1.4l4,3.8l4,2.4l1,0.4l1,0l1,-0.6l1,-1l0.7,-1.6l-0.1,-1l-1.4,-5l-1.2,-1.9l-4.4,-5.1l-11.6,-9.5l-1,-1.2l-0.6,-1.3l-1.5,-5l-0.1,-1l0.3,-1l3.4,-6l3.4,-5l0.3,-1l0,-1l-0.7,-4l-0.1,-2l0.3,-6l0.3,-1l0.9,-1l3.1,-2l1,-0.3l1,0l7,2l1,0.5l7,4.7l10,4.8l16.2,4.3l10.8,3.6l13,5.2l6,1.9l2,0.4l1,0l2,-0.6l7,-3l15.1,-7.5l14.9,-6.6l8,-5.4l2.4,-2l5.8,-7l1.3,-2l1.2,-3l4.4,-14l2.8,-7l1.5,-3l5.5,-8l7.1,-9l2,-3.1l4,-8.1l3.3,-9.8l0.7,-2.6l1.3,-6.4l0.1,-3l-0.6,-2l-2,-4l-1.8,-2.4l-2.3,-1.6l-2.7,-1.1l-3,0l-1,-0.2l-2.7,-1.7l-1.2,-1l-0.7,-1l-0.5,-2l0.3,-2l0.4,-1l1.4,-2l1.1,-1l1.8,-1l4.1,-1.5l4,-0.8l9,-1l19,-3.5l13.4,-4.2l11.6,-5l3,-1.6l2,-1.4l2,-2.2l4,-5.5l2.6,-4.3l0.6,-2l-0.5,-4l-0.6,-2l-3,-4l-4.6,-7l-1,-2l-0.3,-1l-0.5,-3l0,-1l0.2,-1l0.6,-1l1.5,-1.7l2,-1.5l3,-1.3l2,-0.2l2,0.8l3,1.9l1,1.2l2,3.8l1.5,4l1.3,5l1,2l1.2,1.3l3.2,2.7l4.8,3.1l2.5,1.9l0.9,1l3.3,5l1.2,3l1.8,7l1.6,9l0.5,2l2.7,6l5.1,15l4.7,16l0.8,2l0.9,1.3l1,0.9l1,0.4l1,0.1l1,-0.3l1,-0.6l1,-0.9l2.4,-2.9l0.7,-2l0.5,-7l0.5,-3l0.9,-3l1.2,-3l2,-4l2.5,-4l6.3,-9.4l4,-5.6l0,6.4l-3,3.9l-4,5.7l-2.6,4l-2.2,4l-1.6,4l-0.9,3l-1.7,9l-0.7,2l-1.2,2l-2.2,3l-1.9,1.8l-1,0.7l-2,0.7l-1,0l-1,-0.4l-1,-0.8l-1,-1.3l-2,-3.9l-8.4,-23.8l-4.5,-16l-1.8,-10l-2.3,-7.8l-1,-2.5l-1,-1.7l-3.5,-4l-1.5,-1l-5,-2.6l-2,-1.6l-2.6,-2.8l-1.1,-2l-1.3,-5.2l-1,-1.5l-1,-1l-2,-1.5l-2,-1l-2,-0.2l-1.2,0.4l-1.1,1l-0.5,1l-0.1,1l1.2,5l0.9,3l0.5,1l3.1,4l1.5,3l0.6,2l0.3,2l0.1,2l-0.3,1l-2,4l-2,3l-3.2,4l-3.8,3.6l-2,1.4l-6.1,3l-2.9,1.1l-18,5.4l-20.3,3.5l-8.9,2l-3.8,1.3l-1,0.7l-0.7,1l-0.4,1l0,1l0.5,1l1.6,1.3l6,2.7l1,0.6l1,0.9l3.9,4.5l0.7,1l2.4,5l1.2,1l-1.2,2.6l-1.2,7.4l-0.5,2l-4.7,13l-5.6,11.3l-6,10.2l-1.5,3.5l-2.9,9l-1.2,11l-2.7,8l-1.7,3.1l-4,4.5l-1.1,0.4l-0.8,1l-0.4,1l-6.7,3.4l-3,2.1l-2,1.8l-2.4,2.7l-2.6,4.2l-1,1.2l-1,0.7l-2,0.6l-7,0.1l-2,0.3l-3,1l-3,1.7l-2,1.9l-1.5,2.3l-0.6,2l-0.1,2l0.8,3l0.9,2l2,3l2.6,3l3.8,4l2.2,2l4.9,3.5l2,2l1,1.6l1.4,2.9l3.7,10l0.1,1l-0.3,1l-0.8,1l-1.8,1l-2.3,0.7l-5,1.3l-4,0.6l-3,0.1l-10,-0.4l-4,0.6l-3,-1l-3,-0.3l-2,0l-10,1.1l-12,0.3l-6,1.1l-9,1.3l-5,-0.3l-1,0.7l-2.1,2.2l-1.4,1l-4.7,2l-6.7,2l-4.3,1l-8.8,1.8l-3,0.4l-3,-0.2l-2,-0.6l-3.1,-1.4l-4.9,-2.6l-1,-0.3l-2,-0.3l-2,0.1l-2,0.5l-2,1l-2.4,2.6l-1.6,1.2l-2,0.4l-2,-0.3l-1,-0.6l-0.6,-0.7l-0.1,-1l0.9,-1l3.8,-2l1.4,-1l0.6,-1l0.1,-1l-0.3,-1l-0.6,-1l-0.9,-1l-1.3,-1l-2.4,-1l-0.5,-2l-2.1,-4l-1.1,-3l-0.4,-2l-0.5,-6l0.2,-7l-0.4,-12l-0.6,-4l-1,-5l-0.5,-1l-6.7,-10.3l-3,-5.3l-0.7,-2.4l-0.9,-5l-0.4,-1.3l-4.1,-6.7l-5.6,-14l-8.2,-19l-7.9,-16l-0.8,-3l-0.4,-5l0.5,-8l1.3,-9l1.9,-9l2.3,-7.8l3,-8.6l3,-7.4l16.3,-35.2l4.2,-10l3,-8l4,-12l3.2,-11l3.1,-13l2.6,-13zM94,248l-3,0.7l-1,0.4l-1.2,0.9l-3,4l-0.3,1l0.1,1l0.4,1l1.5,2l3.5,3.6l4.7,5.4l3.3,4.4l0.8,1.6l0.5,2l0.7,6.2l2,4.4l1,1.6l2,1.3l1,0.4l3,0.4l2,0.1l1,-0.2l4,-1.1l1.3,-1.1l2.2,-4l3,-14l0.1,-2l-0.3,-2l-0.7,-2l-0.9,-2l-0.8,-1l-0.9,-0.7l-5.9,-3.3l-9.1,-6.1l-7,-3.4l-1,-0.1l-2,0.4zM143.4,258l-1.4,1.1l-0.7,0.9l-0.4,1l-0.1,1l0.2,1l0.6,1l1.4,1.3l2,0.9l2,0.2l1,-0.2l1,-0.5l1,-0.9l0.6,-0.8l0.5,-1l0.1,-2l-0.4,-1l-0.5,-1l-1.3,-1.2l-1,-0.5l-1,-0.2l-1,0l-2,0.5zM164.7,260l-3.7,3.2l-3.1,3.8l-1.5,1l-1.4,0.6l-5,1.3l-6,0.5l-2,0l-5,-1l-2,-0.1l-1,0.3l-1,0.4l-2,1.4l-1.7,1.6l-1.3,1.8l-1.7,3.2l-0.6,2l-0.1,1l0.3,2l0.7,4l0.8,2l1.6,1.5l6,3.9l2,0.5l10,1.4l19,-1.3l18,0.9l11,0.9l1,-0.1l2.1,-0.7l4.5,-3l0.7,-1l0.2,-1l-0.3,-2l-1.2,-4.1l-1,-1.5l-1.5,-1.4l-7.5,-5.6l-12,-6.5l-1,-0.9l-6,-6.2l-3,-2.4l-2,-1.1l-1,-0.2l-1,0.1l-1,0.5zM83.6,289l-0.6,0.9l-0.4,1.1l-0.1,3l0.5,2.9l1,3.5l1,2.5l1,0.9l1,0.2l1,0l3,-1l2,-1l1.3,-1l0.3,-1l-1.6,-3.1l-1.5,-3.9l-1.3,-2l-1.2,-1.3l-2,-1.2l-1,-0.3l-1,0l-1,0.4zM98.9,300l0.1,0.2l0,-0.2zM255,117.9l1,0.4l0.7,0.7l0.5,1l0.1,1l-0.4,1l-0.9,0.9l-1,0.2l-1,-0.3l-0.7,-0.8l-0.5,-1l-0.1,-1l0.4,-1l0.9,-0.9l0.7,-0.1zM211,250.8l1,0.1l1,0.3l2,1.7l0.7,1.1l1,3l1.3,0.1l1,0.5l0.3,0.4l0.4,1l-0.3,1l-0.4,0.3l-1,0.3l-1,-0.1l-2,-0.6l-3,0.6l-2,-0.3l-1,-0.6l-1.1,-1.6l-0.2,-1l0,-2l0.6,-2l0.7,-1l1,-0.8l0.5,-0.2z" fill="#fb9c38" stroke="#fb9c38" stroke-width="0.4" fill-rule="evenodd"/>
<path d="M77,14l5.6,0l-2.1,12l-2.6,12l-2.6,10l-3.1,10l-4.6,12l-3.2,7l-3,6l-5.7,10l-14.7,23.8l-4,7.4l-3,6.3l-3.3,8.5l-2.7,8.9l-1,4.4l-0.8,4.7l-0.7,7l0.3,5l1,3l7.5,14l2.7,6.8l3,5.2l1,1.2l2,1.7l3.2,2.1l2.8,1l6,1.5l2,0.8l1.1,0.7l4.9,4.3l5.7,3.7l1.3,0.5l1,0.1l2,-0.3l3.7,-1.3l1.7,-1l3.6,-2.9l1,-0.5l1,-0.1l5,0.6l3,1.1l6,3l8,4.8l9,5.9l2,1l27,9.4l13,4.1l2,0.3l3,-0.2l10,-1.3l4,-1l15,-6l11,-6.3l1.1,-0.9l6.9,-8l0.9,-2l2.6,-8l0.5,-2l0,-9l2.7,-10l0.3,-3l0,-11l-2,-8.2l-0.2,-1.8l0,-2l2.3,-15l1.4,-23l1.2,-5l0.5,-1l1.7,-2l2.8,-2l7.8,-2l3.5,-0.7l11,-1.4l12,-0.7l5.7,-1.2l3.5,-1l7.4,-3l19.7,-10l2.8,-2l1.2,-2l0.7,-2l1,0.1l2,0.4l2,-0.1l3,-1l2,-1.3l1.1,-1.1l1,-2l0.3,-2l-0.1,-1l-0.4,-1l-0.9,-1.3l-2,-2l-2,-1.3l-1,-0.4l-2,-0.3l-3,0.3l-1,-1.2l-1,-2.6l-1.8,-5.2l-0.4,-2l0.4,-4l0.5,-2l4.1,-6l1.2,-1l6,-2.5l2,-0.5l1,-0.1l5,0.5l3,1.4l2.8,2.2l2.2,2.9l2,3.5l2.9,12.6l0.8,2l1,1l10.4,8l1.9,1.9l1,1.3l3,5.1l1.2,2.7l1.8,8.6l2.2,12.4l1.1,4l1.7,4l2,3.8l5,8.5l1,0.7l1,-1l4.6,-8l18.4,-28l0,8l-4,5.6l-6.3,9.4l-2.5,4l-2,4l-1.2,3l-0.9,3l-0.5,3l-0.5,7l-0.7,2l-2.4,2.9l-1,0.9l-1,0.6l-1,0.3l-1,-0.1l-1,-0.4l-1,-0.9l-0.9,-1.3l-0.8,-2l-4.7,-16l-5.1,-15l-2.7,-6l-0.5,-2l-1.6,-9l-1.8,-7l-1.2,-3l-3.3,-5l-0.9,-1l-2.5,-1.9l-4.8,-3.1l-3.2,-2.7l-1.2,-1.3l-1,-2l-1.3,-5l-1.5,-4l-2,-3.8l-1,-1.2l-3,-1.9l-2,-0.8l-2,0.2l-3,1.3l-2,1.5l-1.5,1.7l-0.6,1l-0.2,1l0,1l0.5,3l0.3,1l1,2l4.6,7l3,4l0.6,2l0.5,4l-0.6,2l-2.6,4.3l-4,5.5l-2,2.2l-2,1.4l-3,1.6l-11.6,5l-13.4,4.2l-19,3.5l-9,1l-4,0.8l-4.1,1.5l-1.8,1l-1.1,1l-1.4,2l-0.4,1l-0.3,2l0.5,2l0.7,1l1.2,1l2.7,1.7l1,0.2l3,0l2.7,1.1l2.3,1.6l1.8,2.4l2,4l0.6,2l-0.1,3l-1.3,6.4l-0.7,2.6l-3.3,9.8l-4,8.1l-2,3.1l-7.1,9l-5.5,8l-1.5,3l-2.8,7l-4.4,14l-1.2,3l-1.3,2l-5.8,7l-2.4,2l-8,5.4l-14.9,6.6l-15.1,7.5l-7,3l-2,0.6l-1,0l-2,-0.4l-6,-1.9l-13,-5.2l-10.8,-3.6l-16.2,-4.3l-10,-4.8l-7,-4.7l-1,-0.5l-7,-2l-1,0l-1,0.3l-3.1,2l-0.9,1l-0.3,1l-0.3,6l0.1,2l0.7,4l0,1l-0.3,1l-3.4,5l-3.4,6l-0.3,1l0.1,1l1.5,5l0.6,1.3l1,1.2l11.6,9.5l4.4,5.1l1.2,1.9l1.4,5l0.1,1l-0.7,1.6l-1,1l-1,0.6l-1,0l-1,-0.4l-4,-2.4l-4,-3.8l-2,-1.4l-3,-1.3l-1,-0.1l-1,0.5l-0.6,1.7l0,3l0.4,2l1.7,5l0,3l-0.5,3.7l-0.5,1.3l-0.5,0.8l-1,0.7l-3,1.1l-1,-0.1l-2.6,-1.5l-1,-1l-3.2,-6l-0.8,-2l-0.3,-2l-0.5,-6l-0.6,-11l-0.2,-8l-1.7,-9l-0.5,-1l-5.6,-8.2l-4.2,-6.8l-0.9,-3l-0.4,-5l-0.5,-1.8l-4,-6.6l-4.8,-12.6l-8.8,-21l-8,-16l-0.6,-3l-0.1,-4l0.5,-7l1.2,-8l1.9,-8l2.7,-8.5l3,-7.8l3,-6.7l4,-8l9.7,-18l4.6,-9l4.2,-9l4.1,-10l4,-11l3.8,-13l3.1,-13l2.7,-14zM53.1,228l-0.9,3l-0.2,2l0.1,2l0.6,2l1.3,1.9l3,3.2l1,0.7l1,0.3l1,-0.3l0.2,0.2l0.3,1l0.1,2l0.3,1l2.9,5l1.2,7.2l0.7,1.8l0.2,1l-0.6,5l0,4l0.7,5.1l1.3,6.9l0.7,6l1,2.4l2,3.1l1,0.9l1,0.1l1,-0.5l0.7,-1l0.3,-1l0.1,-1l-0.4,-2l-4.2,-10l-0.8,-3l0,-2l1.6,-5l0,-2l-0.4,-1l-1.9,-1.2l-0.6,-1.8l-0.6,-1l0.2,-1.5l1,-1.6l0.4,0.1l1,3l0.6,0.8l1,0.1l0.2,-1.9l-0.1,-1l-0.9,-1l-0.6,-1l-0.8,-3l-1.1,-2l-2,-3l-1.7,-4.3l-0.9,-1.7l1.3,-2l0.3,-1l-0.3,-1l-1.4,-1l-3,-0.4l-1,-0.7l-1,-1.3l-0.7,-1.6l-0.4,-2l0,-3l-0.5,-2l-0.4,-0.8l-1,-0.9l-1,-0.3l-1,0.2zM300,71.7l1,0.6l0.7,2.7l0.3,2l-0.2,1l-1.7,6l-0.1,0.8l-0.1,-0.8l-0.9,-0.5l-1,-1.5l-0.8,-2l-0.3,-2l0.2,-2l0.8,-2l1.1,-1.5l0.8,-0.5zM165,259.7l1,-0.5l1,-0.1l1,0.2l2,1.1l3,2.4l6,6.2l1,0.9l12,6.5l7.5,5.6l1.5,1.4l1,1.5l1.2,4.1l0.3,2l-0.2,1l-0.7,1l-4.5,3l-2.1,0.7l-1,0.1l-11,-0.9l-18,-0.9l-19,1.3l-10,-1.4l-2,-0.5l-6,-3.9l-1.6,-1.5l-0.8,-2l-0.7,-4l-0.3,-2l0.1,-1l0.6,-2l1.7,-3.2l1.3,-1.8l1.7,-1.6l2,-1.4l1,-0.4l1,-0.3l2,0.1l5,1l2,0l6,-0.5l5,-1.3l1.4,-0.6l1.5,-1l3.1,-3.8l3.7,-3.2zM165.8,275l-1.1,1l-1.3,2l-0.4,1l0,1l0.2,1l2.7,4l1.1,0.3l1,-0.2l1,-0.6l1,-1.3l0.4,-1.2l0.2,-1l-0.1,-2l-0.5,-2l-1,-1.9l-1,-0.6l-1,-0.1l-1,0.4zM133.3,276l-1.3,1.1l-1,1.2l-1,1.7l-0.2,1l-0.1,1l0.3,1l2.2,4l1,1l1.8,0.9l2,0.5l1,0.1l2.3,-0.5l2.1,-1l1.4,-1l0.6,-1l0.9,-4l-0.2,-1l-3,-4l-1.1,-0.7l-0.8,-0.3l-3.2,-0.7l-2,-0.1l-1,0.4zM189.2,281l-1.8,2l-0.4,1l0,1l0.4,1l2.6,3l1,0.6l1,0.1l1,-0.3l1,-0.9l0.8,-1.5l0.4,-2l-0.1,-1l-0.4,-1l-0.7,-0.9l-1,-0.9l-1,-0.5l-1,-0.1l-1,0z" fill="#f98a32" stroke="#f98a32" stroke-width="0.4" fill-rule="evenodd"/>
<path d="M83,14l6.8,0l-2.1,14l-2.6,13l-2.7,11l-3.4,11l-2.7,7l-2.7,6l-3.1,6l-3.4,6l-3.2,5l-3.6,5l-11.3,14.6l-5,7l-4,6.3l-4,7.5l-2,4.4l-2,5.2l-1.9,6l-1.1,4.6l-0.9,5.4l-0.3,4l0,3l0.6,3l0.7,2l1.9,3.5l3,4.8l2,2.7l3,3.4l1,0.8l3,1.8l2.8,4l1,1l1.6,1l5.6,2l2,0.2l2,-0.2l4.7,-1l4.9,-2l2.4,-0.3l0.5,0.3l-0.6,2l0.3,2l0.6,1l1.1,1l1.1,0.5l1,0.1l1,-0.2l1,-0.4l1,-0.8l0.7,-1.2l0.3,-1l0.1,-1l-0.2,-1l-0.9,-2l1,-0.4l3,-0.1l5,0.4l3,0.7l4.8,2.4l1.2,0.8l6,6.6l8,8l11,8l2.9,1.6l10.1,4.3l12,4l17,3.8l2,-0.2l15,-2.4l2,-0.6l13,-5l2.3,-1.9l5.7,-6.2l1.2,-1.8l0.7,-2l1.3,-8l-0.2,-3l-1.4,-6l0.1,-1l1.3,-5l1,-12l0.4,-16l0.7,-11l-0.6,-14l0.6,-15l0.5,-2l1.5,-4l0.9,-1.5l4,-3.9l7,-4.1l2,-0.7l12,-2.9l2,-0.2l1,0.4l1,-0.1l-1,-0.7l-0.5,-1.3l0.5,-1l1,-0.7l1,-0.3l1,0.2l1,0.7l0.6,1.1l0.1,1l0.3,0.2l5.6,-1.2l6.4,-2l2,-0.8l1.6,-1.2l3.1,-4l1.1,-2l0.6,-2l1.7,-8l2.2,-9l1.9,-5l1.8,-3.5l3,-4.4l1,-1.1l2,-1.3l7,-4.1l2,-1.6l2.6,-3l2.2,-4l0.8,-1l1.2,-1l7.2,-3.4l9,-2.2l4,-0.6l5,-0.3l3,0.2l5,1.9l2,1.7l3,3.5l1.2,2.2l1.3,6l1.1,8l1.4,5.3l0.7,1.7l3,4l7.3,7.1l1.3,1.9l4.1,7l1,3l2,9l1.8,12l0.8,2l1,1.5l1,1.1l2,1.5l2,0.5l2,-0.5l2,-1.3l3,-3.1l4,-5.9l8.7,-14.8l4.3,-6.8l0,10.8l-18.4,28l-4.6,8l-1,1l-1,-0.7l-3,-4.9l-4,-7.4l-1.7,-4l-1.1,-4l-2.2,-12.4l-1.8,-8.6l-0.8,-2l-3.5,-6l-1.7,-2l-5.2,-4.3l-6.3,-4.7l-1,-1l-0.5,-1l-1.6,-6l-1.4,-7l-0.9,-2l-1.9,-3l-1.6,-2l-1.8,-1.5l-3,-1.7l-2,-0.5l-5.2,-0.3l-1.8,0.5l-6,2.5l-1.2,1l-4.1,6l-0.5,2l-0.4,4l0.1,1l0.6,2l2.5,6.8l1,1.2l3,-0.3l2,0.3l1,0.4l2,1.3l2,2l0.9,1.3l0.4,1l0.1,1l-0.3,2l-1,2l-1.1,1.1l-2,1.3l-3,1l-2,0.1l-2,-0.4l-1,-0.1l-0.7,2l-1.2,2l-2.8,2l-19.7,10l-7.4,3l-3.5,1l-5.7,1.2l-12,0.7l-11,1.4l-3.5,0.7l-7.8,2l-2.8,2l-1.7,2l-0.5,1l-1.2,5l-1.4,23l-2.4,16l0.3,3l2,8l0,12l-0.6,3l-2.4,9l0,8l-0.2,2l-3.2,10l-1.3,2l-6.2,7l-1.1,0.9l-9,5.3l-3,1.5l-14,5.5l-3,0.9l-12,1.5l-2,0.1l-2,-0.3l-14,-4.4l-26,-9.1l-2,-1l-9,-5.9l-8,-4.8l-6,-3l-3,-1.1l-5,-0.6l-1,0.1l-1,0.5l-3.6,2.9l-2.4,1.3l-4,1.2l-2,0l-1,-0.3l-6,-3.9l-4.9,-4.3l-1.1,-0.7l-2,-0.8l-6,-1.5l-2.8,-1l-3.2,-2.1l-2,-1.7l-1,-1.2l-3,-5.2l-2.7,-6.8l-7.9,-15l-0.6,-2l-0.3,-3l0.1,-4l0.4,-4l0.9,-5l1.1,-5.1l3,-9.9l3,-7.5l4,-8.3l5,-8.8l11.5,-18.4l4.1,-7l5.3,-10l4.5,-10l4.1,-11l3.9,-13l3.3,-14l2.9,-16zM299.8,72l-0.8,0.5l-1.1,1.5l-0.8,2l-0.2,2l0.3,2l0.8,2l1,1.5l0.9,0.5l0.1,0.8l0.1,-0.8l1.7,-6l0.2,-1l-0.3,-2l-0.7,-2.7l-1,-0.6zM173,156.9l1,-0.5l2,-0.2l2,0.5l1,0.7l0.9,1.6l1,5l-0.6,2l-2.6,6l-0.7,0.7l-1,0.5l-3,1.1l-1,0.1l-1,-0.5l-1,-1.3l-2.2,-3.6l-0.5,-1l-0.1,-1l1,-4l0.7,-2l2.1,-2.5l1.8,-1.5zM54,227.2l1,-0.2l1,0.3l1,0.9l0.4,0.8l0.5,2l0,3l0.4,2l0.7,1.6l1,1.3l1,0.7l3,0.4l1.4,1l0.3,1l-0.3,1l-1.3,2l0.9,1.7l1.7,4.3l2,3l1.1,2l0.8,3l0.6,1l0.9,1l0.1,1l-0.2,1.9l-1,-0.1l-0.6,-0.8l-1,-3l-0.4,-0.1l-1,1.6l-0.2,1.5l0.6,1l0.6,1.8l1.9,1.2l0.4,1l0,2l-1.6,5l0,2l0.8,3l4.2,10l0.4,2l-0.1,1l-0.3,1l-0.7,1l-1,0.5l-1,-0.1l-1,-0.9l-2,-3.1l-1,-2.4l-0.7,-6l-1.3,-6.9l-0.7,-5.1l0,-4l0.6,-5l-0.2,-1l-0.7,-1.8l-1.2,-7.2l-2.9,-5l-0.3,-1l-0.1,-2l-0.3,-1l-0.2,-0.2l-1,0.3l-1,-0.3l-1,-0.7l-3,-3.2l-1.3,-1.9l-0.6,-2l-0.1,-2l0.2,-2l0.9,-3zM166,274.8l1,-0.4l1,0.1l1,0.6l1,1.9l0.5,2l0.1,2l-0.2,1l-0.4,1.2l-1,1.3l-1,0.6l-1,0.2l-1.1,-0.3l-2.7,-4l-0.2,-1l0,-1l0.4,-1l1.3,-2l1.1,-1zM134,275.6l1,-0.4l2,0.1l3.2,0.7l0.8,0.3l1.1,0.7l3,4l0.2,1l-0.9,4l-0.6,1l-1.4,1l-2.1,1l-2.3,0.5l-1,-0.1l-2,-0.5l-1.8,-0.9l-1,-1l-2.2,-4l-0.3,-1l0.1,-1l0.2,-1l1,-1.7l1,-1.2l1.3,-1.1zM190,280.6l1,0l1,0.1l1,0.5l1,0.9l0.7,0.9l0.4,1l0.1,1l-0.4,2l-0.8,1.5l-1,0.9l-1,0.3l-1,-0.1l-1,-0.6l-2.6,-3l-0.4,-1l0,-1l0.4,-1l1.8,-2z" fill="#f6722a" stroke="#f6722a" stroke-width="0.4" fill-rule="evenodd"/>
<path d="M90,14l8,0l-2.4,20l-2.8,17l-1.4,7l-1.5,6l-1.5,5l-1.7,5l-2.1,5l-3.1,6l-3.6,6l-4.3,6l-2.5,3l-2.8,3l-12.3,11l-6,6l-5,5.9l-3,4.3l-2,3.2l-3,5.6l-1.8,4l-1.9,5l-1.2,4l-0.9,4l-0.5,4l-0.1,4l0.4,3l1,2.8l1.2,2.2l2.1,3l2.7,2.8l2,1.5l2,1.1l8,3.1l4,0.9l3,0.2l3,-0.3l7,-1l3,-0.1l2,0.1l3,0.6l5,1.5l9,0.9l2,0.6l6,2.3l2,1.2l7.9,6.6l10.1,10l1,0.8l9.6,6.2l2.4,1.1l2,0.6l11,2.4l14,2.4l4,0.2l14,-0.9l13,-2.5l1,-0.3l2,-1l3,-1.8l1.4,-1.2l0.7,-1l0.7,-2l0.5,-2l0.1,-2l-0.4,-1.3l-2.4,-4.7l-0.5,-2l-0.1,-7l0.3,-7l0.6,-3l2.1,-6.2l1.7,-5.8l0.1,-1l-0.8,-2.2l-1,-1.6l-1,-0.9l-0.6,-0.3l-0.4,-0.2l-1,0l-1,0.5l-2,2.7l-2,3.3l-3.5,7.7l-1.1,2l-3.4,4.6l-2,1.8l-5,2.3l-2,0.4l-2,-0.3l-4,-1.3l-1,-0.6l-0.7,-0.9l-1.8,-3l-0.9,-2l-0.5,-3l-0.6,-8l1,-11l0.6,-2l2.9,-5.7l1,-1.6l2,-1.9l10.1,-5.8l8.9,-6.1l1.6,-1.9l4.7,-8l5.8,-7l13.5,-14l6.4,-4.9l2,-0.9l11,-2.6l12,-1.2l1,-0.4l1.5,-1l4.1,-3l1.1,-1l2.3,-3l4,-6.3l2.7,-9.7l0.3,-2l0.3,-6l0.8,-2l1.1,-2l4.2,-6l9.6,-12l1.1,-1l2.7,-2l4.2,-2.8l3,-1.7l7,-3.4l2,-0.8l7,-1.7l3,-0.4l11,0.5l2,0.2l7,2.1l2.4,1l1.7,1l3.8,4l1.2,2l1.6,10l1.3,7l0.6,2l0.9,2l1.1,2l1.4,2.1l2,1.6l4,2.1l1.6,1.2l1.8,2l3,4l4.8,11l2.8,12.8l1,2.2l1,0.9l1,0.1l1,-0.5l2,-2l2,-3l7.7,-12.5l6.6,-10l2.7,-3.7l0,14.9l-4.3,6.8l-8.7,14.8l-4,5.9l-3,3.1l-2,1.3l-2,0.5l-2,-0.5l-2,-1.5l-1,-1.1l-1,-1.5l-0.8,-2l-1.8,-12l-2,-9l-1,-3l-4.1,-7l-1.3,-1.9l-7.3,-7.1l-3,-4l-0.7,-1.7l-1.4,-5.3l-1.1,-8l-1.3,-6l-1.2,-2.2l-3,-3.5l-2,-1.7l-5,-1.9l-3,-0.2l-5,0.3l-4,0.6l-9,2.2l-7.2,3.4l-1.2,1l-0.8,1l-2.2,4l-2.6,3l-2,1.6l-7,4.1l-2,1.3l-1,1.1l-3,4.4l-1.8,3.5l-1.9,5l-2.2,9l-1.7,8l-0.6,2l-1.1,2l-3.1,4l-1.6,1.2l-2,0.8l-6.4,2l-5.6,1.2l-0.3,-0.2l-0.1,-1l-0.6,-1.1l-1,-0.7l-1,-0.2l-1,0.3l-1,0.7l-0.5,1l0.5,1.3l1,0.7l-1,0.1l-1,-0.4l-2,0.2l-12,2.9l-2,0.7l-7,4.1l-4,3.9l-0.9,1.5l-1.5,4l-0.5,2l-0.6,15l0.6,14l-0.7,11l-0.4,16l-1,12l-1.3,5l-0.1,1l1.4,6l0.2,3l-1.3,8l-0.7,2l-1.2,1.8l-5.7,6.2l-2.3,1.9l-13,5l-2,0.6l-15,2.4l-2,0.2l-15,-3.3l-3,-0.8l-11,-3.7l-10.1,-4.3l-2.9,-1.6l-11,-8l-8,-8l-6,-6.6l-1.2,-0.8l-4.8,-2.4l-3,-0.7l-5,-0.4l-3,0.1l-1,0.4l0.9,2l0.2,1l-0.1,1l-0.3,1l-0.7,1.2l-1,0.8l-1,0.4l-1,0.2l-1,-0.1l-1.1,-0.5l-1.1,-1l-0.6,-1l-0.3,-2l0.6,-2l-0.5,-0.3l-2.4,0.3l-4.9,2l-4.7,1l-2,0.2l-2,-0.2l-5.6,-2l-1.6,-1l-1,-1l-2.8,-4l-3,-1.8l-1,-0.8l-3,-3.4l-2,-2.7l-3,-4.8l-1.9,-3.5l-0.7,-2l-0.6,-3l0,-3l0.3,-4l0.9,-5.4l1.1,-4.6l1.9,-6l2,-5.2l2,-4.4l4,-7.5l5,-7.8l4,-5.5l11.3,-14.6l6.2,-9l2.9,-5l3.2,-6l4.5,-10l3.8,-11l3.5,-13l2.9,-14l2.5,-16zM172.8,157l-1.8,1.5l-2.1,2.5l-0.7,2l-1,4l0.1,1l0.5,1l2.2,3.6l1,1.3l1,0.5l1,-0.1l3,-1.1l1,-0.5l0.7,-0.7l2.6,-6l0.6,-2l-1,-5l-0.9,-1.6l-1,-0.7l-2,-0.5l-2,0.2l-1,0.5z" fill="#f35f27" stroke="#f35f27" stroke-width="0.4" fill-rule="evenodd"/>
<path d="M98,14.4l0,-0.4l9.6,0l-1.6,36.2l-0.5,31.8l-0.5,6l-1,3.9l-0.9,2.1l-1.4,2l-1,1l-2.7,1.6l-1.6,1.4l-3.6,5l-0.5,2l-2.2,16l-0.5,1l-0.6,0.4l-1,0.4l-1,0l-2,-0.5l-7,-3.5l-4,-1.3l-4,-0.3l-2,0.1l-3,0.6l-3,0.9l-3,1.3l-3,1.8l-3,2.1l-3,2.6l-2,2l-3,3.4l-2,2.8l-2,3.1l-2,3.6l-2.7,6.5l-1.7,6l-0.4,3l-0.1,3l0.2,2l0.7,2.5l1,2.1l1,1.5l1,1.1l2,1.8l2,1.2l3,1.3l4,1l5,0.6l4,0l9,-0.6l5,0.1l12,2l15,1.2l2,0.3l12,3l13,2.5l9,2.6l1,0.1l1.2,-0.3l1,-1l1.1,-3l1.1,-2l2.2,-2l3.4,-2.3l2,-1.7l1,-1.1l1,-1.7l1,-2.7l0.1,-1.5l-1.3,-4l-0.1,-2l1.1,-5l0.8,-3l6.4,-11l9,-18l3.5,-8l1.5,-1.9l3.2,-3.1l1.4,-1l1.4,-0.7l8,-2.7l8,-1.3l3,-0.8l2,-0.8l2,-1.1l2,-1.5l7,-6.4l3,-2.4l2,-1.2l2,-1l3,-1.2l7,-1.6l3.1,-1.3l1.9,-1.1l2.7,-2.9l4.9,-7l5.2,-6l0.7,-1l2.7,-7l1.1,-6l1.1,-4l1.5,-3l1.5,-2l2.6,-2.4l9,-6.5l7,-7.1l4,-3.2l4,-2.6l8,-4.5l4,-2l4,-1.6l3,-0.7l3,-0.4l3,0l4,0.4l6,1.1l6,1.8l3,1.2l6,3.3l1,0.3l4,0.3l3,-0.1l4,-0.6l1,0l0.9,0.3l0.2,1l-0.6,3l-1.8,18l0.3,2.8l1.3,6.2l1.7,2.7l2,2.4l1.4,0.9l4.6,2.2l6,2.3l4,0.9l3,0.1l2,-0.4l2.3,-1.1l1.7,-1.3l1.8,-1.7l8.6,-10l3,-3l2.6,-2.3l0,20.6l-2.7,3.7l-6.6,10l-7.7,12.5l-2,3l-2,2l-1,0.5l-1,-0.1l-1,-0.9l-1,-2.2l-2.8,-12.8l-4.8,-11l-3,-4l-1.8,-2l-1.6,-1.2l-4,-2.1l-2,-1.6l-1.4,-2.1l-1.1,-2l-0.9,-2l-0.6,-2l-1.3,-7l-1.6,-10l-1.2,-2l-3.8,-4l-1.7,-1l-2.4,-1l-7,-2.1l-2,-0.2l-11,-0.5l-3,0.4l-7,1.7l-3,1.3l-8.6,4.4l-6,4l-2.4,2l-9.6,12l-4.8,7l-1,2l-0.3,1l-0.3,6l-0.3,2l-2.7,9.7l-4,6.3l-2.3,3l-1.1,1l-4.1,3l-1.5,1l-1,0.4l-11,1.1l-12,2.7l-2,0.9l-5,3.7l-2,1.7l-5,5.4l-7,7.1l-2.7,3l-4,5l-5.4,9l-2.3,2l-7.5,5l-9.1,5.2l-2,1.4l-1,1.1l-0.8,1.3l-3.1,6l-0.4,1l-0.4,2l-0.8,10l0.6,8l0.5,3l0.9,2l2.5,3.9l1,0.6l4,1.3l2,0.3l2,-0.4l5,-2.3l1.6,-1.4l3.8,-5l1.1,-2l3.5,-7.7l2,-3.3l2,-2.7l1,-0.5l1,0l0.4,0.2l0.6,0.3l1,0.9l1,1.6l0.8,2.2l-0.1,1l-1.7,5.8l-2.1,6.2l-0.6,3l-0.3,7l0.1,7l0.5,2l2.4,4.7l0.4,1.3l-0.1,2l-0.5,2l-0.7,2l-0.7,1l-1.4,1.2l-5,2.8l-10,2.1l-4,0.7l-16,0.9l-3,-0.4l-13.8,-2.3l-11.2,-2.6l-2,-0.7l-2,-1.1l-8.7,-5.6l-1.3,-1l-9,-9l-9,-7.6l-2,-1.2l-5,-2l-3,-0.9l-9,-0.9l-5,-1.5l-4,-0.7l-4,0.1l-9,1.2l-4,-0.1l-4,-0.9l-8,-3.1l-2,-1.1l-2,-1.5l-3,-3.2l-2.4,-3.6l-1,-2l-0.6,-2l-0.4,-3l0.1,-4l0.5,-4l0.9,-4l1.2,-4l1.9,-5l1.8,-4l3,-5.6l2,-3.2l3,-4.3l5,-5.9l6,-6l11.3,-10l2.9,-3l2.6,-3l3.7,-5l3.3,-5l2.8,-5l2.4,-5l2,-5l1.7,-5l2,-7l1.5,-7l1.5,-8l1.6,-10l2.6,-21z" fill="#f04c22" stroke="#f04c22" stroke-width="0.4" fill-rule="evenodd"/>
<path d="M108,14l11,0l0.7,12l1.1,10l1.3,8l1.9,7.5l2.3,6.5l2.9,6l3.8,5.7l3.8,4.3l3.2,3l4,2.8l4,2.3l5,2.1l5,1.5l6,1.3l9,1.6l9,1.3l5,0.4l4,0.1l4,-0.5l3,-0.7l5,-2l13.1,-6.2l3.8,-2l2.1,-1.4l2,-1.8l2.5,-2.8l4.7,-6l2.8,-4l2.2,-4l3.5,-9l1.9,-4l2.4,-3.8l2.6,-3.2l3,-3l3.4,-2.9l13,-9.9l7,-4.7l7.8,-4.5l72.9,0l5.1,3l9.2,6.5l4,2l3,1l4,0.8l4,0.3l5,-0.3l0,20.4l-2.6,2.3l-3,3l-8.6,10l-1.8,1.7l-1.7,1.3l-2.3,1.1l-2,0.4l-3,-0.1l-4,-0.9l-6,-2.3l-4.6,-2.2l-1.4,-0.9l-2,-2.4l-1.7,-2.7l-1.3,-6.2l-0.3,-2.8l1.8,-18l0.6,-3l-0.2,-1l-0.9,-0.3l-1,0l-4,0.6l-3,0.1l-4,-0.3l-1,-0.3l-6,-3.3l-3,-1.2l-6,-1.8l-7,-1.3l-4,-0.2l-3,0.1l-3,0.5l-4,1.2l-3,1.3l-4,2.1l-7,4l-4.2,2.8l-3.8,3l-7,7.1l-9,6.5l-2.6,2.4l-1.5,2l-1.5,3l-1.1,4l-1.1,6l-2.7,7l-0.7,1l-5.2,6l-4.9,7l-2.7,2.9l-1.9,1.1l-3.1,1.3l-7,1.6l-3,1.2l-2,1l-2,1.2l-3,2.4l-7,6.4l-2,1.5l-2,1.1l-2,0.8l-3,0.8l-8,1.3l-8,2.7l-1.4,0.7l-1.4,1l-4,4l-0.7,1l-3.5,8l-9,18l-6.4,11l-0.8,3l-1.1,5l0.1,2l1.3,4l-0.1,1.5l-1,2.7l-1,1.7l-1,1.1l-2,1.7l-3.4,2.3l-2.2,2l-1.1,2l-1.1,3l-1,1l-1.2,0.3l-1,-0.1l-9,-2.6l-14,-2.7l-12,-3l-16,-1.3l-9,-1.6l-4,-0.5l-5,0l-9,0.6l-4,-0.1l-5,-0.7l-4,-1.1l-2,-1l-2,-1.2l-2,-1.8l-1,-1.2l-1.3,-2l-0.9,-2l-0.5,-2l-0.2,-3l0.2,-3l0.5,-3l1.1,-4l1.1,-3l3,-6.4l2,-3.3l2,-2.9l2,-2.6l3,-3.3l2,-1.8l3,-2.5l5,-3.1l3,-1.3l3,-0.9l3,-0.6l2,-0.1l4,0.3l4,1.3l7,3.5l2,0.5l1,0l1,-0.4l0.6,-0.4l0.5,-1l2.2,-16l0.5,-2l3.6,-5l1.6,-1.4l2.7,-1.6l1,-1l1.4,-2l0.9,-2l1,-4l0.5,-6l0.5,-31.8l1.6,-36.2zM124.7,127l-1.6,1l-1,1l-1.2,2l-0.4,2l0.3,3l0.5,2l0.9,2l1.8,2.6l1,0.9l1,0.5l1,0.3l2,0l1,-0.4l1.5,-0.9l0.9,-1l1.3,-2l0.7,-2l0.3,-2l0.3,-3l-0.2,-2l-0.8,-1.9l-0.8,-1.1l-1.2,-1l-1,-0.5l-1,-0.3l-2,-0.2l-2,0.4l-1,0.4zM59.7,133l-2.7,0.8l-2,0.8l-2,1.2l-2,1.4l-2,1.8l-2,2.1l-2,2.5l-2,3.2l-1.1,2.2l-1.2,3l-0.7,2.2l-0.5,2.8l-0.1,2l0.1,2l0.6,2l1.1,2l0.8,1l2,1.6l3,1.3l4,0.8l4,0l7,-0.7l14,-2.6l4.4,-1.4l2,-1l1.5,-1l1.9,-2l1.1,-2l0.6,-2l0.2,-2l-0.3,-2l-0.5,-2l-1.5,-3l-1.5,-2l-2.6,-3l-3.3,-3l-3.8,-3l-3.2,-2l-3,-1.3l-2.4,-0.7l-2.6,-0.3l-3,0.2z" fill="#ee3a1c" stroke="#ee3a1c" stroke-width="0.4" fill-rule="evenodd"/>
<path d="M119,14l14.3,0l1.7,7.3l2,6.6l2.4,6.1l2.6,5.4l2.9,4.6l3.1,4.1l4,4.2l4.4,3.7l3.6,2.5l4,2.4l4.3,2.1l4.7,1.9l5,1.6l4,1l5,0.7l4,0.3l3,-0.2l3,-0.3l5,-1.3l5,-2.2l2.6,-1.5l2.4,-1.8l3.6,-3.2l3.4,-3.8l3,-3.9l8.6,-12.3l3.3,-4l2.7,-3l4.2,-4l4.9,-4l5.5,-4l7.4,-5l22.2,0l-7.8,4.5l-7,4.7l-13,9.9l-3.4,2.9l-3,3l-2.6,3.2l-2.4,3.8l-1.9,4l-3.5,9l-2.2,4l-2.8,4l-4.2,5.4l-2.2,2.6l-2.1,2l-1.7,1.3l-2.8,1.7l-17.2,8.1l-3,1.1l-3,0.7l-3,0.4l-3,0.1l-8,-0.6l-11.6,-1.8l-8.4,-1.6l-7,-1.9l-5,-1.9l-5,-2.8l-4,-2.8l-4.2,-4l-3.8,-4.7l-3.3,-5.3l-2.7,-5.8l-2.1,-6.2l-1.9,-7.7l-1.3,-8.3l-1,-9l-0.7,-12zM354,14l34,0l0,13.3l-5,0.3l-4,-0.3l-4,-0.8l-3,-1l-4,-2l-9.2,-6.5l-5.1,-3zM125,126.8l1,-0.4l2,-0.4l2,0.2l1,0.3l1,0.5l1.2,1l0.8,1.1l0.8,1.9l0.2,2l-0.3,3l-0.3,2l-0.7,2l-1.3,2l-0.9,1l-1.5,0.9l-1,0.4l-2,0l-1,-0.3l-1,-0.5l-1,-0.9l-1.8,-2.6l-0.9,-2l-0.5,-2l-0.3,-3l0.4,-2l1.2,-2l1,-1l1.6,-1zM60,132.9l3,-0.2l2.6,0.3l2.4,0.7l3,1.3l3.2,2l3.8,3l3.3,3l2.6,3l1.5,2l1.5,3l0.5,2l0.3,2l-0.2,2l-0.6,2l-1.1,2l-1.9,2l-1.5,1l-2,1l-4.4,1.4l-14,2.6l-7,0.7l-4,0l-4,-0.8l-3,-1.3l-2,-1.6l-0.8,-1l-1.1,-2l-0.6,-2l-0.1,-2l0.1,-2l0.5,-2.8l0.7,-2.2l1.2,-3l1.1,-2.2l2,-3.2l2,-2.5l2,-2.1l2,-1.8l2,-1.4l2,-1.2l2,-0.8l2.7,-0.8z" fill="#e8181c" stroke="#e8181c" stroke-width="0.4" fill-rule="evenodd"/>
<path d="M134,14l19.3,0l3,5l3.9,5l3.8,4l5,4l5,3l5,2.1l5,1.3l5,0.5l4,-0.2l4,-0.8l4,-1.3l4,-2l3,-1.7l4,-2.7l13.6,-10.2l8.5,-6l24.5,0l-7.4,5l-5.5,4l-4.9,4l-4.2,4l-2.7,3l-3.3,4l-8.6,12.3l-3,3.9l-3.4,3.8l-3.6,3.2l-2.4,1.8l-2.6,1.5l-5,2.2l-5,1.3l-3,0.3l-3,0.2l-5,-0.4l-5,-0.8l-5,-1.4l-6,-2.2l-5,-2.3l-5,-2.9l-4,-2.8l-4,-3.4l-3.2,-3.3l-3.2,-4l-2.7,-4l-2.6,-5l-2.2,-5l-1.7,-5l-1.7,-6l-1.4,-6z" fill="#e8181c" stroke="#e8181c" stroke-width="0.4" fill-rule="evenodd"/>
<path d="M154,14l80.1,0l-8.5,6l-13.6,10.2l-4,2.7l-3,1.7l-4,2l-4,1.3l-4,0.8l-4,0.2l-5,-0.5l-5,-1.3l-5,-2.1l-5,-3l-5,-4l-3.8,-4l-3.9,-5l-3,-5z" fill="#68a0b4" stroke="#68a0b4" stroke-width="0.4" fill-rule="evenodd"/>
<path d="M11,171.5l5.5,0.5l0.5,7l-0.1,4l0.3,1l22.8,45.5l2,3.5l4.4,6l4.6,9.2l4.3,6.8l1.5,4l0.7,1l2.3,9l0,2l0.1,2l-0.2,4l0.2,1l-0.1,1l-0.6,1l0,2l-3.4,6l-0.4,1l0,1l1.6,8l0.5,1l0.5,1.6l3.4,6.4l1.3,3l0.3,1.5l1,2.6l1,1.4l1,0.8l6,2.9l5.1,1.8l10.9,3.4l6,2.2l2,0.1l10,-1.7l24.5,-6l3,-1l8.5,-3.6l3,-0.9l7,-1.6l12,-0.2l8,-1.4l2,-0.2l14,1.1l12,0l12,-1.7l11,-4l11,-2l3,-0.8l1.5,-0.7l4.5,-2.7l2,-2.3l1,0.9l1,0l4.3,4.1l0.1,2l1,1l0.1,6l-1,1l0,1l-0.9,1l0,1l-2.6,2.6l-1,0l-1,1l-1,0l-1,1l-1,0l-1,1l-2,0l-1,1l-2,0l-1,1l-6,0l-1,-1l-4,0l-4,4l-1,0l-1,1l-1,0l-1,1l-7,0l-4,4l-1,0l-1,1l-2,0l-1,1l-3,0l-1,-1l-2,0l-1,-1l-2,0l-1,-1l-4,0l-1,-1l-4,0l-1,-1l-28,0l-1,1l-3,0l-1,1l-1,0l-5,5l-1,0l-1,1l-2,0l-1,1l-8,0l-1,1l-10,0l-1,1l-3,0l-1,1l-2,0l-1,1l-1,0l-0.4,0.4l-32.2,0l-1.4,-1.4l-1,0l-1,-1l-3,0l-1,-1l-10,0l-1,-1l-1,0l-3.6,-3.6l0,-1l-1,-1l0,-1l-1,-1l0,-3l-1,-1l0,-3l-1,-1l0,-3l1,-1l0,-2l-1,-1l0,-1l-2,-2l0,-1l-1,-1l0,-1l-1,-1l0,-1l-1,-1l0,-2l-2,-2l0,-1l-3,-3l0,-1l-1,-1l0,-10l1,-1l0,-2l1,-1l0,-1l0.6,-0.6l3,-3l1,0l1.4,-1.4l0,-5l-1,-1l0,-2l-1,-1l0,-2l-1,-1l0,-1l-1,-1l0,-1l-2,-2l0,-1l-2,-2l0,-1l-1,-1l0,-1l-1,-1l0,-1l-1,-1l0,-1l-1,-1l0,-1l-1,-1l0,-1l-3,-3l0,-1l-2,-2l0,-1l-1,-1l0,-1l-2,-2l0,-1l-2,-2l0,-1l-1,-1l0,-1l-1,-1l0,-2l-1,-1l0,-2l-1,-1l0,-1l-1,-1l0,-1l-1,-1l0,-1l-1,-1l0,-1l-1,-1l0,-1l-1,-1l0,-1l-1,-1l0,-1l-1,-1l0,-1l-1,-1l0,-1l-1,-1l0,-1l-1,-1l0,-1l-1,-1l0,-1l-0.4,-0.4l0,-24.2l1,-1l1,0.1l0.5,-0.5z" fill="#e6a23c" fill-opacity="0.72" fill-rule="evenodd"/>
<path d="M10,163.5l8,0.2l1,1.1l2,0.1l1,1l1,0.1l0.7,1l0.2,3l0.5,2l8,16l8.8,21l4.8,12.6l4,6.6l0.5,1.8l0.4,5l0.9,3l4.2,6.8l5.6,8.2l0.5,1l1.7,9l0.2,8l0.6,12l0.6,6l0.8,2.6l3,5.9l1.4,1.5l2.6,1.5l1,0.1l3,-1.1l1,0.5l0,1l1,1l0.1,2l1,1l0,2l1,1l0,2l1,1l0.2,10l-1,1l0.1,3l-0.9,1l0,2l-1,1l0,1l-1,1l0,1l-4.5,4.6l-1,0l-2,2l-1,0l-1,1l-3,0l-1,1l-7,0l-1,-1l-2,0l-1,-1l-1,0l-1,-1l-1,0l-6.6,-6.6l0,-1l-1,-1l0,-1l-1,-1l0,-3l-1,-1l0,-6l-1,-1l0,-1l-1,-1l0,-1l-1,-1l0,-1l-1,-1l0,-2l-2,-2l0,-1l-3,-3l0,-1l-1,-1l0,-2l-1,-1l0,-11l1,-1l0,-3l1,-1l0,-2l1,-1l0,-1l5,-5l-1,-1l0,-2l-1,-1l0,-1l-1,-1l0,-1l-2,-2l0,-1l-1,-1l0,-1l-2,-2l0,-1l-1,-1l0,-1l-1,-1l0,-1l-1,-1l0,-1l-1,-1l0,-1l-2,-2l0,-1l-3,-3l0,-1l-1,-1l0,-1l-2,-2l0,-1l-1,-1l0,-1l-2,-2l0,-1l-1,-1l0,-2l-1,-1l0,-2l-1,-1l0,-1l-1,-1l0,-1l-1,-1l0,-1l-1,-1l0,-1l-1,-1l0,-1l-0.4,-0.6l0.6,0.6l0,1l1,1l0,1l1,1l0,1l1,1l0,1l1,1l0,1l1,1l0,2l1,1l0,2l1,1l0,1l2,2l0,1l1,1l0,1l2,2l0,1l1,1l0,1l3,3l0,1l2,2l0,1l1,1l0,1l1,1l0,1l1,1l0,1l1,1l0,1l2,2l0,1l1,1l0,1l2,2l0,1l1,1l0,1l1,1l0,2l1,1l-5,5l0,1l-1,1l0,2l-1,1l0,3l-1,1l0,11l1,1l0,2l1,1l0,1l3,3l0,1l2,2l0,2l1,1l0,1l1,1l0,1l1,1l0,1l1,1l0,6l1,1l0,3l1,1l0,1l1,1l0,1l6.4,6.4l1,0l1,1l1,0l1,1l2,0l1,1l7,0l1,-1l3,0l1,-1l1,0l2,-2l1,-0.1l4.3,-4.3l0,-1l1,-1l0,-1l1,-1l-0.1,-2l0.9,-1l-0.1,-2.9l-9,-3l-5,-2.3l-2,-1.3l-1,-1.4l-1,-2.7l-0.3,-1.4l-1.2,-3l-2.5,-4.5l-1,-2l-0.4,-1.5l-0.6,-1.2l-1.5,-7.8l0.1,-1l0.3,-1l3.3,-6l0,-2l0.6,-1l0.1,-1l-0.2,-1l0.3,-4l-0.2,-2l0.1,-2l-1.5,-6l-0.4,-0.9l-0.5,-2.1l-0.6,-1l-1.6,-4l-4.3,-6.9l-4.5,-9.1l-4.5,-6.1l-2,-3.6l-22.7,-45.3l-0.4,-1l0.2,-4l-1,-15l-6.1,-0.3l-1,1l-1,-0.1l0,-0.2l1,0.1l0.5,-0.5zM78,278.3l0,4.7l-0.6,0l-0.1,-1l0.4,-3z" fill="#f4685c" fill-opacity="0.5" fill-rule="evenodd"/>
<path d="M8,100.3l7.4,-59.3l2.8,-27M388,192.5l-5.2,13.5l-17.1,40l-5.9,12l-2.8,5l-3.1,5l-3.5,5l-4,5l-4.4,4.7l-4.5,4.3l-4.8,4l-4.7,3.4l-5.8,3.6l-5.2,2.8l-7.3,3.2l-7.7,2.7l-8,2.1l-8,1.3l-6,0.6l-5,0.3l-14,-0.4l-5,0.1l-6,0.9l-10,2.2l-4,0.5l-4,-0.1l-7,-1.5l-3,0.2l-2.8,1.1l-2.8,3l-1.4,0.8l-2,0.2l-4,-0.5l-3.2,0.5l-1.8,0.8l-3,2.7l-1,0.5l-2,0.5l-2,-0.2l-5,-1.6l-6.9,-1.7l-4.1,-0.9l-3,-0.4l-8,-0.1l-9,0.4l-6,0.1l-4,0.4l-4,1.1l-3.1,1.4l-2.9,1.9l-3,3l-2,0.9l-2,0.3l-5,0.4l-7,-0.1l-2,0.1l-9.4,2.5l-2.7,1l-3.6,2l-1.3,1l-3,3l-1,0.8l-2,1.1l-3,1.1l-2,0.6l-2,0.3l-2,0l-3,-0.7l-2,-1.1l-1.2,-1.1l-2.7,-3l-1.1,-0.6l-5,-1.6l-2,-0.4l-4,-0.3l-2,-0.7l-2,-1.5l-1.2,-1.9l-0.5,-2l-0.1,-2l1.2,-7l0.2,-2l-1,-4l-3.7,-6l-1,-2l-1.2,-3l-1.4,-3l-3.1,-4l-0.6,-2l0.1,-1l0.3,-1l0.6,-1l6.4,-6.1l0.3,-0.9l0.1,-1l0.8,-2l-0.2,-2l0.2,-3l-0.4,-2l0,-1l-2.3,-8l-3.5,-6.7l-3.9,-6.3l-4.1,-8l-6.1,-9l-4.9,-8l-3,-7.7l-15.8,-31.3l-1.6,-4l-1.5,-5l-1.4,-6l-1.7,-8.7" fill="none" stroke="#fbc02d" stroke-width="0.7" stroke-linejoin="round"/>
<path d="M8,117.6l2.4,-22.6l7.2,-52l3.4,-29M388,181.3l-4.4,12.7l-3.6,8.7l-9.1,19.3l-11.9,27l-4.6,9l-4.1,7l-3.3,5l-3.8,5l-4.2,4.7l-4.3,4.3l-4.6,4l-5.1,3.8l-4.9,3.2l-5.1,2.9l-7,3.3l-7.6,2.8l-7.4,2.1l-8,1.6l-6,0.7l-5,0.3l-14,-0.3l-4,0.2l-6,1.1l-10,2.8l-5,0.6l-4,-0.2l-6,-1.3l-3,0.3l-3,0.8l-1,0.5l-2,2.8l-1,0.7l-1,0.2l-1,0l-3,-0.6l-5,0.7l-2,0.9l-1.9,2.1l-1.1,0.8l-2,0.7l-2,-0.3l-3,-1.1l-2,-0.5l-13,-2.6l-8,-0.1l-9,0.5l-8,0.1l-3,0.3l-4.3,1.2l-3.7,1.7l-2.1,1.3l-3,3l-1.9,1l-8,0.8l-7,-0.1l-4,0.9l-8,2.2l-2.7,1.2l-3.6,2l-3.7,3.4l-2,1l-5,1.2l-3,0.3l-2,-0.4l-1,-0.5l-1.1,-1l-0.6,-1l-0.2,-1l0,-1l0.4,-1l0.9,-1l1.7,-1l0.7,-1l-0.8,-0.5l-2.8,0.5l-1.2,0.4l-2,0.2l-3,0.1l-2,-0.4l-2,-1l-1,-0.8l-0.9,-1.5l-1.1,-3.1l-0.9,-0.9l-1.1,-0.4l-1.1,0.4l-0.1,1l0.4,3l-0.2,1l-0.9,1l-1.1,0.3l-1,-0.1l-1,-0.5l-1,-1.1l-0.3,-0.6l-0.3,-1l-0.2,-2l0.7,-7l0,-2l-1,-4l-4.2,-7l-3,-7l-0.7,-1.2l-2.3,-2.8l-0.7,-2l0.1,-1l0.3,-1l0.7,-1l6.1,-6l0.4,-1l0,-1l0.8,-2l-0.2,-2l0.2,-3l-0.3,-3l-2.3,-8l-3.6,-7l-3.8,-6l-4,-8l-6.1,-9l-4.9,-8l-3.2,-8l-15.7,-31l-1.8,-5l-1.9,-8l-1.5,-8l-1.3,-9.6" fill="none" stroke="#f9b233" stroke-width="0.7" stroke-linejoin="round"/>
<path d="M388,172.1l-2.4,5.9l-4.5,13l-2.9,7l-12,23l-9.9,22l-4.3,9l-3.7,7l-3.3,5.5l-3.7,5.5l-4,5l-3.7,4l-4.6,4.4l-4.3,3.6l-5.5,4l-5.2,3.2l-6,3.1l-6.1,2.7l-6.9,2.4l-6,1.7l-7,1.3l-4.3,0.6l-4.7,0.4l-5,0l-8,-0.2l-4,0.2l-5,1.1l-11,3.6l-5,0.9l-2,0.1l-2,-0.2l-6,-1.2l-2.9,0.3l-4,1l-1.1,0.6l-0.4,0.4l-1.2,2l-0.4,0.4l-1,0.5l-4,-0.5l-6,0.9l-1.8,0.7l-2.2,2.4l-1,0.6l-1,0.3l-2,-0.2l-4,-1.3l-14,-2.6l-8,0l-9,0.6l-8,0l-3,0.4l-4,1l-4.2,1.8l-2.8,1.7l-3,3l-1,0.5l-7,0.8l-9,0.2l-10.6,2.8l-2.6,1l-4.2,2l-1.6,1l-2,1.9l-1,0.7l-2,0.5l-7,-0.2l-1,-0.4l-0.4,-0.5l0,-1l1.2,-1l1.2,-0.4l0.4,-0.6l0,-1l-0.5,-1l-0.9,-1.1l-1,-0.7l-1,-0.2l-6,0.8l-2,0l-2,-0.3l-1.2,-0.5l-1.3,-1l-0.8,-1l-1.9,-3l-0.8,-0.7l-2.9,-1.3l-1.1,0.2l-1.1,0.8l-0.4,1l-0.2,2l-0.3,1l-0.1,0l-0.9,-0.6l-0.1,-0.4l-0.6,-6l-0.1,-4l-1.1,-4l-4.6,-8l-2.5,-6.2l-1,-1.6l-1.8,-2.2l-0.7,-2l0,-1l0.4,-1l0.7,-1l5.9,-6l0.3,-2l0.8,-2l-0.3,-2l0.2,-3l-0.2,-3l-2.3,-8l-3.5,-7l-3.8,-6l-4,-8l-6.1,-9l-4.9,-8l-3.2,-8l-15.6,-31l-1.4,-4l-1.5,-6l-1.2,-6l-1,-7l-1.1,-11l-0.3,-11l0.3,-11l1,-13l2.3,-19.1l8.2,-53.9l2.1,-16l1.5,-13" fill="none" stroke="#f7a335" stroke-width="0.7" stroke-linejoin="round"/>
<path d="M388,164.5l-4.6,10.5l-4.8,14l-2.6,5.9l-3,5.6l-7.1,11.5l-3.4,6l-3,6l-11.6,25l-4.2,8l-3.5,6l-3.4,5l-3.8,4.8l-3.8,4.2l-4.1,4l-4.8,4l-4.1,3l-4.6,3l-5.3,3l-6.3,3l-6,2.3l-6,1.9l-7,1.6l-5,0.8l-4,0.3l-4,0.1l-8,-0.2l-4,0.3l-5,1.5l-11,4.2l-5,1.1l-3,0.1l-7,-1.2l-2,0.2l-6,1.6l-1,0.7l-1,1.4l-1,0.9l-1,0.2l-2,-0.2l-2,0.1l-6,1l-1,0.4l-3,2.4l-1,0.4l-1,0.1l-5,-1.2l-12,-2l-3,-0.3l-7,0.1l-9,0.6l-7,0l-4,0.4l-5,1.3l-4,1.8l-2.2,1.3l-2.8,2.5l-1,0.7l-2,0.5l-5,0.5l-8,0.3l-3,0.6l-10.4,2.9l-5.6,2.4l-4,2.5l-1,0.3l-2,-0.2l-1,-0.4l-1,-1l-1,-1.6l-1.7,-2l-1.2,-1l-1.1,-0.5l-2,-0.1l-6,0.2l-2,-0.3l-1,-0.3l-1,-0.5l-1,-0.8l-2.2,-2.7l-1.8,-1.5l-1,-0.6l-2,-0.7l-2,0l-1,-0.2l-0.8,-1l-0.7,-4l-1.1,-4l-4.6,-8l-2.8,-7l-2.2,-3l-0.6,-1l-0.2,-1l0,-1l0.4,-1l0.7,-1l5.6,-6l0.3,-2l0.8,-2l-0.3,-2l0.2,-3l-0.4,-4l-2,-7l-3.5,-7l-3.7,-6l-4.1,-8l-6.1,-9l-4.8,-8l-3.3,-8l-15.6,-31l-0.7,-2l-0.8,-3l-2.2,-11l-1.3,-11l-0.6,-12l0.2,-13l1,-13l1.2,-10l1.4,-10l9.1,-55l2.4,-16l1.9,-15" fill="none" stroke="#1fa01f" stroke-width="1.2" stroke-linejoin="round"/>
<path d="M388,155.4l-2.3,7.6l-4.9,11l-4.2,12l-2.6,6l-3.5,6l-9.2,13l-3.7,6l-2.6,5l-7,14.7l-7,14.1l-3,5.7l-2.7,4.5l-3.3,5l-3.1,4l-3.6,4l-4,4l-4.3,3.7l-4.3,3.3l-4.4,3l-5,3l-5.3,2.7l-5.4,2.3l-5.7,2l-5.9,1.7l-5,1l-5,0.7l-4,0.2l-7,-0.3l-4,0.4l-3,0.9l-11.9,5.4l-3.1,1.1l-3,0.6l-2,0.3l-2,-0.1l-6,-0.8l-2,0.2l-6.2,1.7l-1.6,1l-1.2,1.2l-1,0.5l-4,0.2l-6,1l-2,0.8l-3,1.7l-1,0.2l-17,-2.6l-3,-0.3l-7,0.2l-8,0.6l-8,0.1l-3,0.2l-5,1.2l-4,1.5l-3,1.5l-4,3.1l-1,0.5l-6,0.9l-8,0.5l-2,0.3l-11,2.9l-6,2.3l-4,1.9l-1,0.2l-1,-0.1l-1,-0.3l-1,-0.6l-3.9,-3.6l-2.1,-1l-2,-0.2l-5,-0.1l-3,-0.5l-2,-1.1l-3.3,-3.1l-1.5,-1l-2.2,-1.1l-3,-0.7l-1,-0.7l-0.7,-1.5l-2.1,-7l-4.2,-7.3l-3,-7.5l-2.2,-3.2l-0.3,-1l0.1,-1l0.4,-1l6,-7l0.2,-2l0.8,-2l-0.4,-2l0.3,-3l-0.4,-4l-2,-7l-3.4,-7l-3.7,-6l-4,-8l-6.1,-9l-4.8,-8l-3.3,-8l-15.6,-31l-0.8,-2l-0.4,-2l-2,-11l-1.2,-11l-0.5,-12l0.3,-12l1.1,-13l1.4,-11l1.9,-12l7.4,-40l2.9,-17l2.4,-15l1.8,-13M289,203.7l-1.8,1.3l-1.1,2l-0.3,1l0,2l0.7,2l0.7,1l1.3,1l2.5,1.1l3,0.4l1,-0.1l1,-0.5l1,-0.8l0.6,-1.1l0.7,-2l0,-2l-0.7,-2l-1.6,-2l-2,-1.2l-2,-0.6l-2,0.1zM266,231.5l-1,0.7l-0.6,0.8l-0.4,1l0,3l0.8,3l1.2,2l2,1.7l1,0.5l1,0.2l1,-0.2l1,-0.6l1.2,-1.6l0.5,-2l-0.2,-2l-1.5,-3.3l-1,-1.6l-0.9,-1.1l-1.1,-0.7l-1,-0.2l-1,0z" fill="none" stroke="#f59a23" stroke-width="0.7" stroke-linejoin="round"/>
<path d="M388,146.1l-1,2.2l-0.6,1.7l-1.7,8l-0.9,3l-1.2,3l-4.6,9.7l-3.5,10.3l-2.2,5l-2.2,4l-2.1,2.9l-10.1,12.1l-2.2,3l-2.6,4l-2.2,4l-5.9,11.8l-6.6,12.2l-5.5,11l-2.9,5.1l-2.6,3.9l-3.1,4l-3.6,4l-3.7,3.7l-4,3.6l-4.7,3.7l-4.2,3l-4.8,3l-5.3,2.8l-4.8,2.2l-5.2,2l-6.3,2l-4.7,1.1l-4,0.7l-4,0.1l-5,-0.5l-2,0.2l-2,0.4l-3,1.2l-6.6,3.8l-5.4,2.7l-3,1.1l-3,0.8l-2,0.3l-2,0l-5,-0.5l-3,0.2l-6,1.7l-1.5,0.7l-2.5,1.7l-10,1.4l-2,0.7l-3,1.3l-1,0.2l-2,-0.1l-18,-2.2l-6,0.1l-9,0.8l-8,0.1l-3,0.2l-5,1.1l-4,1.5l-4,2l-3,2.2l-2,0.9l-6,0.9l-7,0.6l-2,0.4l-11,2.8l-9,3.2l-2,0.5l-2,-0.5l-5,-3.5l-2,-0.8l-7,-0.7l-3,-0.7l-2,-1.1l-3.8,-3l-2.2,-1.2l-4,-1.5l-1,-1l-2.5,-7.3l-3.5,-6l-1,-2l-2.2,-6l-2.3,-4l-0.4,-1l0.1,-1l0.4,-1l5.6,-7l0.2,-2l0.8,-2l-0.4,-2l0.3,-3l-0.4,-4l-1.9,-7l-3.3,-7l-3.8,-6l-4.6,-9l-5.5,-8l-4.7,-8l-3.4,-8l-15.6,-31l-0.9,-3l-1.7,-11l-1.2,-11l-0.3,-12l0.4,-12l1.3,-13l1.5,-10.6l2,-11.4l8.3,-41l3.2,-17l2.3,-14l2.2,-15M287,196.8l-2,0.8l-1,0.6l-1,0.9l-1.5,1.9l-1.1,2l-0.9,2l-1.3,5l-0.7,7l-0.1,5l0.3,1l0.9,1l1.5,1l1.9,0.9l1,0l1,-0.3l1,-0.5l2.5,-2.1l1.5,-0.7l1,-0.2l4,1.2l2,-0.1l1,-0.4l1,-0.6l1,-1l1,-1.5l1.3,-2.7l0.7,-2.4l0.4,-3.6l-0.4,-3l-1.1,-3l-1.9,-2.9l-2,-2l-3,-2l-3,-1.1l-3,-0.3zM269,226l-2,0.9l-2,1.3l-2,1.8l-1,1.3l-0.4,0.7l-0.5,2l-0.2,5l0.4,2l0.7,1.6l1,1.5l2,2.3l1,0.8l2,1.2l1,0.3l2,0.2l1,-0.2l2,-0.8l2,-1.3l2,-1.6l1.6,-2l0.5,-1l0.3,-1l0.1,-1l-0.3,-1l-0.6,-1l-2.6,-2.9l-1.4,-2.1l-0.6,-2l-0.5,-3l-0.5,-1.5l-1,-0.8l-1,-0.2l-2,0.2z" fill="none" stroke="#f58a2a" stroke-width="0.7" stroke-linejoin="round"/>
<path d="M388,141l-2,2.9l-1.3,3.1l-1.1,4l-1.2,7l-1,3l-5.4,11.1l-4.6,12.9l-2.8,5l-3.6,4.6l-11.3,11.4l-2.6,3l-2.2,3l-2.3,4l-3.6,7.1l-2.7,4.9l-8.8,14l-3.6,8l-2.1,4l-1.8,3l-3,4.1l-5.3,5.9l-7.4,7l-7.4,6l-4.2,3l-3.2,2l-5.5,3l-4.5,2l-7.4,3l-5.7,2l-3.4,0.8l-2,0.1l-2,-0.3l-3,-0.8l-2,0.5l-5,2.3l-4.6,3.4l-3.4,2.1l-5,2.6l-3,1.2l-3,0.7l-2,0.2l-6,-0.2l-2,0.2l-7,1.9l-4,2.1l-1,0.3l-9,1.3l-6,1.7l-4,-0.1l-14,-1.7l-3,-0.1l-4,0.1l-9,0.9l-9,0.1l-3,0.3l-5,1.1l-4,1.4l-3,1.3l-5,3.1l-1.5,0.5l-5.4,1l-7.1,0.8l-2,0.4l-11,2.8l-9,2.8l-2,0.3l-2,-0.4l-4.5,-2.7l-2.5,-1l-6.9,-1l-2.1,-0.5l-2,-0.9l-3.9,-2.6l-2.1,-1.2l-4.2,-1.8l-0.8,-0.5l-0.5,-0.5l-0.5,-0.7l-0.5,-1.3l-1.8,-5l-3.7,-6.6l-1,-2.2l-2,-5.7l-1.8,-3.5l-0.4,-1l0,-1l1,-2l4.6,-6l0.2,-2l0.7,-2l-0.3,-2l0.3,-3l-0.3,-2l-0.1,-2l-2.2,-8l-2.9,-6l-3.8,-6.2l-4.5,-8.8l-5.5,-8l-5,-8.7l-3.6,-8.3l-15.4,-30.6l-0.6,-2.4l-1.9,-16l-0.6,-11l0,-6l0.2,-7l1.3,-14l1.6,-11.1l2.2,-11.9l9.4,-43l3.7,-18l2.9,-16l2.1,-14M283,191l-1.3,1l-1.7,1.8l-2,3l-1.2,2.2l-2.6,6l-3.2,10l-1.8,4l-1.4,2l-5.8,7.2l-1.7,2.8l-0.7,2l-1.2,6l-0.1,2l0.7,2.9l1,1.8l2,2.7l2,2.2l3,2.4l3,1.7l2,0.6l1,0.1l1,-0.2l1,-0.5l4.5,-3.7l3.5,-2l8,-3l2,-1.3l1.7,-1.7l0.7,-1l0.8,-2l0.7,-5l0.9,-3l1.1,-2l3,-4l1.1,-2l1.5,-4l1,-4l0.3,-2l0,-3l-0.3,-3l-0.5,-2l-0.8,-2l-1,-2l-1.3,-2l-1.7,-2l-2.2,-2.1l-3,-2.2l-3,-1.8l-2,-0.9l-2,-0.6l-2,-0.2l-2,0.3l-1,0.5" fill="none" stroke="#f47a30" stroke-width="0.7" stroke-linejoin="round"/>
<path d="M388,137.2l-3,3.7l-1.7,3.1l-2.1,7l-0.8,6l-0.5,2l-5.9,12.1l-4.4,11.9l-1,2l-1.6,2.6l-2,2.6l-2,2.1l-7.1,5.7l-5.7,5l-3,3l-2.6,3l-2.6,4l-4,7.9l-3,4.6l-5,6.1l-4,4.2l-2.5,2.2l-0.7,1l-0.2,1l-0.1,3l-0.7,3l-1.8,3.5l-3,4l-3,3.2l-3,2.7l-11,8.4l-7,6.2l-4,2.9l-3,1.5l-3,0.7l-1.5,-0.1l-0.5,-0.5l-0.2,-0.5l0.2,-1l0.5,-1l4.2,-6l1.1,-3l0.2,-2l-0.3,-2l-1.6,-5l-0.1,-1l0.7,-1l1.3,-0.8l5,-1.9l3,-1.5l2,-1.5l1,-1l1.7,-2.3l0.9,-2l0.5,-2l0.4,-7l0.4,-2l0.8,-2l3.9,-7l2,-5l0.7,-4l0.1,-5l-0.7,-5l-1,-3l-2.2,-4l-1.4,-2l-1.8,-2l-5.3,-4.7l-4,-3.1l-3,-2l-2,-1.1l-2,-0.7l-2,-0.4l-1,0l-1,0.2l-1,0.5l-1,0.8l-1,1.4l-6.4,12.1l-2.5,6l-4.5,13l-6.8,14l-3,10l-0.1,2l0.2,2l1,3l1.1,2l4,5l1.9,3l1.4,3l0.8,3l0.5,4l0,4l-1.3,8l-0.7,3l-1.2,2l-4.3,5l-7.1,5.5l-6.2,5.5l-5.8,3.3l-4,1.5l-4,0.8l-6,0.2l-2,0.3l-7,2l-5,2.2l-9,1.3l-6,1.3l-2,0l-6,-0.3l-10,-1.1l-4,-0.2l-3,0.1l-8,1l-10,0.2l-3,0.3l-6,1.4l-3,1l-3,1.3l-5,2.7l-2,0.8l-4.4,0.9l-9.6,1.6l-21,5.4l-2,-0.1l-1,-0.2l-4,-2.1l-3,-1.2l-7,-1.3l-2,-0.6l-2,-0.8l-4.6,-2.7l-5.4,-2.5l-1,-0.7l-1,-1.3l-1,-2.4l-1,-3.1l-4,-7.4l-2,-5l-0.7,-2.6l-1.4,-3l-0.3,-1l0,-1l0.3,-1l0.5,-1l2.6,-3.4l1.7,-2.6l0.1,-2l0.7,-2l-0.3,-2l0.3,-3l-0.3,-2l0,-2l-2.2,-8l-2.7,-6l-4.3,-6.9l-3.5,-7.1l-1.2,-2l-4.3,-6l-5.1,-9l-4.1,-9l-15.1,-30l-0.8,-2l-1.6,-18l-0.4,-10l0.1,-6.5l0.4,-6.5l0.6,-6.9l0.9,-7.1l1.8,-11l2.3,-11.1l9.8,-40.9l4,-18l3.3,-17l2.7,-16" fill="none" stroke="#f26a35" stroke-width="0.7" stroke-linejoin="round"/>
<path d="M388,133.7l-2,2.3l-2,2.6l-1.5,2.4l-1,2l-1.7,6l-0.7,2l-0.6,5l-0.4,2l-2.8,5l-1,3l-2.4,5l-2.5,7l-2.4,5l-1,1.6l-3,3.6l-2,2l-4.6,2.8l-7,5l-3.6,3l-3.8,3.5l-5.7,6.5l-0.4,1l-0.9,3l-1,1.8l-1,1.2l-3,2.9l-5.8,5.1l-6.2,6.2l-2.3,2.8l-1.7,2.9l-1.2,1.1l-0.8,0.3l-1,0l-1,-0.2l-1,-0.7l-1,-1.4l-0.3,-1l-0.1,-1l0.6,-2l1.8,-4.3l3.5,-6.7l0.8,-3l0.2,-3l-0.8,-6l0.1,-5l-0.4,-2l-0.9,-2l-2.1,-3l-2.6,-3l-9,-8l-4.8,-4.8l-3,-2.4l-3,-1.4l-2,-0.5l-2,-0.3l-2,0.2l-2,0.4l-1.8,0.8l-1.1,1l-2.5,6l-5.3,10l-2.6,6l-2.1,6l-5.7,19l-2.9,8l-3.3,8l-0.9,3l-0.1,2l0.1,1l0.7,2l5.4,8l0.9,2l0.7,3l0.2,2l0,3l-0.8,6l-0.4,6l-0.6,3l-0.9,2l-1.5,2l-5.5,5.9l-4.4,5.1l-2.5,2l-4.1,2.3l-2,0.8l-2,0.6l-3,0.6l-8,0.9l-7,2.2l-5,2l-13,2l-4,0.2l-7,-0.2l-10,-0.9l-4,-0.2l-2,0.1l-8,1.3l-10,0l-3,0.4l-6,1.4l-3,0.9l-3,1.2l-5,2.5l-2.3,0.9l-12.7,2.6l-13.6,3.4l-8.4,1.9l-2,0l-1,-0.2l-5,-2.2l-2,-0.7l-9,-2.3l-11,-5.1l-2,-1.3l-1,-1.4l-1,-2.4l-0.6,-2.3l-4.4,-8.3l-1.7,-4.7l-0.7,-3l-1,-3l-0.2,-1l0.2,-1l0.5,-1l2.9,-4.4l0.9,-1.6l0,-2l0.6,-1l0.2,-1l-0.2,-2l0.2,-3l-0.2,-2l0,-2l-0.5,-1.4l-1.6,-6.6l-2.7,-6l-3.7,-6l-4.6,-9l-5.4,-7.8l-5,-9.1l-3.8,-8.1l-15.2,-30.3l-0.6,-1.7l-0.1,-5l-1.2,-14l-0.1,-10l0.7,-12l1.6,-13l1.9,-10l2.8,-12.6l10.3,-39.4l4.3,-18l3.8,-18l3,-17" fill="none" stroke="#f05a3a" stroke-width="0.7" stroke-linejoin="round"/>
<path d="M388,126.6l-2,2.3l-3,4.1l-2,3.2l-1.9,3.8l-1,3l-1.3,5l-1.8,4.8l-1,2.2l-1.9,3l-1.1,6l-1.8,5l-1.2,3.1l-2.4,4.9l-4.3,6l-1.3,1.2l-9.6,5.8l-8.4,4.4l-2,0.6l-1,0l-1,-0.2l-1.7,-0.8l-0.9,-1l-0.4,-1l-0.3,-1l0,-2l0.3,-1.3l0.8,-1.7l3.3,-5l1.9,-4.2l1,-2.8l2.7,-10l1.2,-8l0.8,-4l-0.1,-1l-0.6,-1.5l-1.1,-1.5l-6,-6l-2.7,-3l-2,-3l-2.3,-4l-0.9,-1.2l-1,-0.5l-1,0.4l-0.3,0.3l-1,2l-0.7,0.8l-5,6.2l-2.2,2l0.5,1l1.7,0.7l2,1.9l1,1.7l0.5,1.7l0.3,2l-0.3,2l-0.9,2l-1.6,1.9l-1,0.6l-1,0.4l-1,0l-1,-0.2l-1,-0.5l-1,-0.9l-1,-1.7l-0.6,-1.6l-0.7,-3l-0.2,-2l-0.2,-1l-0.3,-0.2l-10.9,7.2l-8.1,6.1l-10,6.8l-10.3,9.1l-1.7,2.4l-6.2,7.6l-1.8,2.4l-2.7,4.6l-2.3,5l-2.2,6l-1.3,4l-1,5l-1.5,11.6l-0.4,1.4l-1.5,3l-0.6,4l-1,2l-1.5,1.8l-2,1.5l-3,1.5l-6,2.2l-3,1.7l-2,1.9l-0.9,1.4l-0.4,1l-0.3,2l0.3,6l-0.3,3l-0.8,2l-3.3,5l-1.3,3l-1,3.3l-0.6,2.7l-0.2,2l0.1,2l0.3,2l0.8,2l1.5,2l1.1,1l2,1l4,1.1l2.3,0.9l3.2,2l1.5,1.6l0.6,1.4l0.1,1l-0.2,1l-0.5,1l-0.8,1l-2.6,2l-2.6,1.1l-7,1.1l-6,1.4l-10,3.6l-10,1.5l-3,0.2l-11,0l-5,-0.3l-3,0.4l-3,-0.8l-3,-0.3l-2,0.2l-8,1.5l-11,0l-2,0.3l-10,2.5l-8,3.3l-3,1.1l-23,5.8l-3,0.6l-8,1.3l-1,0l-2,-0.4l-4,-1.3l-11,-4l-1,-0.2l-3,0.2l-2,-0.5l-6,-2.7l-1,-0.8l-0.6,-0.8l-0.8,-2l-0.8,-3l-0.1,-1l0.3,-1l-0.1,-1l-0.9,-0.8l-0.9,-1.2l-0.3,-1l-1.8,-3.4l-1,-3.1l-0.5,-4.5l-0.5,-3l0.4,-2l0.3,-1l1.9,-4l0,-2l0.5,-1l0.2,-1l-0.4,-1l0.5,-4l-0.2,-2l0.1,-2l-0.3,-1l-0.2,-2l-1.5,-6l-2.7,-6l-3.8,-6l-2.6,-5l-2.2,-4.9l-5.4,-8.1l-4.3,-9l-4.3,-8.3l-2.1,-4.7l-0.7,-1l-0.4,-1l-0.8,-1.5l-2,-4.5l-0.7,-1l-0.4,-1l-0.9,-1.5l-0.5,-1.5l-0.7,-1l-0.8,-2l-0.8,-1l-0.3,-1l-0.9,-1.4l-0.5,-1.6l-1.7,-3l-0.8,-1l0.1,-3l-1,-15l0.1,-9l1,-12l1.9,-12l1.9,-8.7l3,-11.5l3,-10.1l9.7,-30.7l5.1,-18l4.8,-20l3.7,-19M313,160.8l1,-0.2l2,0.6l4,0.1l1,0.3l1,0.9l3.6,5.5l0.5,1l0.4,2l0,5l-0.3,2l-0.4,1l-2.8,4.3l-1,0.9l-1,0.3l-5.4,1.5l-1.6,0.3l-1,-0.1l-4,-0.9l-2,-0.8l-1,-0.6l-1,-0.9l-0.5,-1l-0.2,-1l0.1,-1l0.4,-1l3.4,-5l1.1,-2l1.3,-6l1.4,-3.8l0.8,-1.2z" fill="none" stroke="#f8503a" stroke-width="0.95" stroke-linejoin="round"/>
<path d="M388,122.7l-2,2.3l-3,4.1l-2,3.2l-2,3.8l-1.5,3.9l-2.5,8.1l-1.7,3.9l-2.4,4l-0.9,2l-2.7,11l-0.3,1l-2.1,4l-0.9,1.5l-1,1.1l-5,3.8l-1,0.5l-2,0l-3,-0.9l-2,-1.3l-0.9,-1.7l-1.2,-4l-0.2,-2l0.8,-8l2.2,-11l-0.3,-2l-1.4,-3.1l-6,-8.9l-5,-8.8l-2,-2.5l-2,-1.7l-2,-1.1l-8.7,-2.9l-1.9,-1l-0.5,-1l-0.3,-3l0.1,-7l-0.2,-1l-0.5,-1.1l-1,-0.4l-1,0.2l-1,0.4l-2,1.3l-2,1.9l-1.3,1.7l-0.9,2l-0.2,1l0.1,1l0.3,0.8l1,1.3l1,0.7l2,0.7l2.8,0.5l0.5,1l-1.6,2l-2,2l-6.7,5.4l-2.8,2.6l-7.2,9l-6.8,9l-2,2l-8.2,6.7l-2,2l-6.1,7.3l-3.9,5l-5,7.4l-5,8.6l-4.2,10l-2.2,6l-0.8,3l-1.2,10l-0.6,3.2l-2.5,7.8l-0.9,2l-1.6,2l-1.3,1l-1.8,1l-6.9,3.3l-2.7,1.7l-2,2l-1.1,2l-0.7,3l0.1,7l-0.3,2l-0.7,2l-0.5,1l-3,4l-1.1,2.7l-2.3,8.3l-0.4,3l0.1,2l0.3,2l0.6,2l1.2,2l1,1l1.4,1l3.1,1.5l1,0.4l3,0.6l1.3,0.5l1.6,1l1,1l0.7,1l0.3,1l-0.1,1l-0.5,1l-1.3,1.2l-2,0.8l-11,2.3l-11,3.8l-10,1.4l-13,0.2l-5,-0.3l-2,0.3l-1,0l-3,-0.8l-3,-0.3l-2,0.2l-9,1.5l-10,0.1l-2,0.2l-10,2.4l-9.7,4l-2.3,0.7l-25,6.2l-7,1.2l-2,0.1l-1,-0.2l-16,-5.5l-1,0.1l-3,1l-1,0l-2,-0.4l-3,-1.2l-2,-1l-1,-0.9l-0.6,-1.1l-0.7,-2l0,-2l1.7,-2l0.3,-1l-0.3,-1l-1.4,-1.3l-1.2,-1.7l-2.1,-4l-1.1,-3l-1,-8l0.4,-2l1,-3l0.1,-2l0.5,-1l0.2,-1l-0.3,-1l0.4,-2l0,-3l-0.3,-6l-1.6,-7.1l-2.2,-4.9l-4.3,-7l-2.5,-4.5l-3,-7.3l-5.1,-8.2l-15.3,-33l-5.5,-11l-1.3,-2l-0.5,-2l-0.3,-1.8l-0.7,-8.2l0,-9l0.7,-10.5l1.5,-10.5l2.3,-11l2.2,-8.3l3,-9.9l12.3,-35.8l5.5,-18l2.8,-10l2.7,-11l2.4,-11l1.8,-10" fill="none" stroke="#fa4a4e" stroke-width="0.95" stroke-linejoin="round"/>
<path d="M388,118.4l-3,3.7l-2.7,3.9l-2.3,3.7l-1.7,3.3l-1.5,4l-2.1,7l-1,3l-1.7,3.4l-3.6,5.6l-0.9,2l-1,3l-1.5,6.7l-1,2.4l-2,2.8l-1,0.8l-2,0.9l-2,0.2l-2,-0.6l-1,-0.7l-1.2,-1.5l-0.8,-2l-0.2,-2l0.2,-3.7l1.3,-8.3l0.3,-3l-0.4,-3l-1.1,-3l-5.8,-11l-4.3,-8.8l-2,-3.4l-1,-1.5l-2,-2.3l-2,-1.6l-2.7,-1.4l-1.1,-1l-0.1,-1l3.9,-9.7l1,-4.5l0.2,-2.8l-0.1,-3l-0.5,-2l-0.6,-1l-2.7,-2l-1.3,-0.5l-1,0.1l-5,1.9l-2,1.4l-3,2.7l-8,8.2l-6,5l-2,1.4l-6.9,3.8l-3.1,2.6l-3,2.2l-1,1.3l-1,1.9l-3.9,8l-3.2,14l-0.8,2l-10.1,11.8l-1.6,2.2l-7.4,13l-6,12.1l-5.5,12.9l-3,8l-2,14l-1,4l-1.5,4l-2,2.9l-2,1.7l-2.1,1.4l-5.9,3.3l-2.4,1.7l-1.9,2l-0.9,2l-0.5,3l0.5,8l-0.3,3l-0.6,2l-1.3,2l-1.6,2l-1.5,3l-1.3,3l-2.3,7l-0.4,3l0.1,2l0.6,3l0.8,1.9l1,1.5l1.5,1.6l1.6,1l7.9,2.2l1,0.4l1,0.7l0.6,0.7l0.2,1l-0.4,1l-1.3,1l-2.1,0.6l-5,0.9l-3,0.8l-11,3.8l-9,1.2l-14,0.2l-4,-0.5l-2,0.6l-1,0.1l-1,-0.7l-1,-0.5l-5,-0.1l-10,1.7l-10,0.1l-2,0.1l-11,2.7l-9,3.8l-3,0.9l-23,5.7l-8,1.5l-1,0.1l-2,-0.4l-15,-5.1l-1,0l-1,0.2l-3,1.4l-1,0.3l-1,0l-2,-0.4l-2.7,-1l-1.3,-0.7l-1,-1.1l-0.5,-1.2l-0.3,-1l0.1,-1l0.5,-1l2.1,-2l0.5,-1l0.2,-1l-0.3,-1l-2.3,-2l-0.7,-1l-2.5,-5l-0.7,-2l-0.4,-2l-0.6,-6l1.3,-8l0.2,-8l-0.3,-5l-1.4,-7l-0.8,-2l-1.6,-3l-6.7,-11l-1.3,-3l-1.2,-4l-0.8,-2l-4.5,-7.2l-14.3,-31.8l-7.7,-15.2l-0.6,-1.8l-0.4,-2.2l-0.6,-6.8l0.2,-9l0.8,-9l1.6,-10l2.3,-10l2.7,-9.4l3,-8.9l13.4,-35.7l6.1,-18l3.2,-11l2.8,-11l2.7,-12l1.9,-10M110,270.8l-1,0.6l-0.4,0.6l-1.1,2l-0.2,1l0,2l0.5,2l0.6,1l1.1,1l1.5,0.5l1,-0.2l1,-0.6l0.6,-0.7l0.9,-2l0.2,-2l-0.7,-2.6l-0.9,-1.4l-1.1,-1l-1,-0.3z" fill="none" stroke="#fc4a66" stroke-width="0.95" stroke-linejoin="round"/>
<path d="M388,113.7l-3,3.8l-3,4.2l-2.1,3.3l-1.9,3.5l-2.3,5.5l-2.6,10l-1.9,4l-2.2,3.3l-5.5,6.7l-2.5,3.8l-1,1.1l-1,-0.1l-0.4,-0.8l-0.5,-2l-0.6,-4l-0.7,-3l-1.3,-4l-7.2,-17l-5.1,-13l-0.7,-3l-0.5,-4l-2.9,-16l-0.7,-3l-1.4,-3.4l-1,-1.6l-1,-1.1l-2,-1.5l-2,-0.7l-1,-0.1l-1,0.2l-5,1.4l-1,0.8l-4,4.5l-5,6.5l-4,4l-2,1.6l-5,3.3l-2,1l-8,3.6l-7,2.7l-3.6,1.8l-4.7,3l-1.2,1l-2.8,3l-1.4,2l-0.7,2l-0.6,6l-0.1,6l-0.8,3l-14.3,32l-10.6,21l-0.8,2l-0.7,3l-1.7,11l-1.7,8l-0.8,2l-2,4l-1.4,2l-0.2,1l-0.6,1l-1,1l-2.7,2l-5.6,3.3l-2.5,1.7l-1.8,2l-0.9,2l-0.1,2l1,5l1.2,7l0,3l-0.6,2l-0.6,1l-4.5,5l-3.9,7l-0.8,2l-0.4,2l-0.1,2l0.2,2l0.7,3l1.1,3l1.2,2l1.8,1.9l2,1.4l2,0.9l7,1.5l0.6,0.3l-3.6,0.4l-1.4,0.6l-2.6,0.6l-9.3,3.4l-2.7,0.8l-8.8,1.2l-13.2,0.1l-4,-0.5l-1,0.2l-1,0.4l-1,0l-1,-0.6l-1,-0.4l-5,-0.2l-10,1.7l-10,0.1l-3,0.2l-11,2.8l-10.2,4.2l-24.1,6l-7.7,1.4l-1,0l-2,-0.4l-13,-4.4l-2,-0.4l-2,0.4l-3,1.8l-1.4,0.6l-1.6,0.1l-2,-0.4l-2,-0.7l-1,-0.7l-0.9,-1.3l-0.1,-0.6l0,-0.6l0.3,-0.8l3.5,-3l0.7,-1l0.4,-1l-0.1,-1l-0.8,-1.3l-0.8,-0.7l-1.2,-0.5l-1,-0.9l-0.9,-2.6l-1.2,-2l-0.9,-2l-0.8,-3l-0.6,-6l0.7,-9l-0.1,-10l-0.3,-3l-1.6,-7l-0.4,-1l-6.9,-11l-2,-3.6l-1,-2.4l-1,-4.3l-0.9,-2.7l-4.1,-6.5l-6,-14.2l-8,-18.1l-8,-16l-1,-4.1l-0.4,-5.1l0.4,-9l1,-8.6l1.8,-9.4l2.2,-8.6l3,-9.5l3,-8.1l14.5,-34.8l3.8,-10l3.1,-9l3.5,-11l3,-11l2.8,-12l2.3,-12M316,67.9l-1,0.6l-0.3,0.5l-0.2,1l0.2,1l1.3,1.8l2.1,1.2l0.9,-0.5l0.1,-1.5l-1,-3l-1.1,-1zM109,264l-1,0l-2,0.5l-1,0.3l-1,0.7l-0.7,1.5l-0.6,5l0.4,3l1.4,6l2.5,4.7l1,0.7l1,0l4,-0.5l1,-0.5l0.4,-0.4l1.7,-3l0.8,-2l0.5,-2l0.1,-2l0,-4l-0.2,-1l-2.3,-4.3l-1,-1l-1,-0.6l-2,-0.7l-1.9,-0.4z" fill="none" stroke="#fc5084" stroke-width="0.95" stroke-linejoin="round"/>
<path d="M388,108.4l-3,3.9l-4,5.7l-2.6,4l-2.2,4l-1.6,4l-0.9,3l-1.7,9l-0.7,2l-1.2,2l-2.2,3l-1.9,1.8l-1,0.7l-2,0.7l-1,0l-1,-0.4l-1,-0.8l-1,-1.3l-2,-3.9l-8.4,-23.8l-4.5,-16l-1.8,-10l-2.3,-7.8l-1,-2.5l-1,-1.7l-3.5,-4l-1.5,-1l-5,-2.6l-2,-1.6l-2.6,-2.8l-1.1,-2l-1.3,-5.2l-1,-1.5l-1,-1l-2,-1.5l-2,-1l-2,-0.2l-1.2,0.4l-1.1,1l-0.5,1l-0.1,1l1.2,5l0.9,3l0.5,1l3.1,4l1.5,3l0.6,2l0.3,2l0.1,2l-0.3,1l-2,4l-2,3l-3.2,4l-3.8,3.6l-2,1.4l-6.1,3l-2.9,1.1l-18,5.4l-20.3,3.5l-8.9,2l-3.8,1.3l-1,0.7l-0.7,1l-0.4,1l0,1l0.5,1l1.6,1.3l6,2.7l1,0.6l1,0.9l3.9,4.5l0.7,1l2.4,5l1.2,1l-1.2,2.6l-1.2,7.4l-0.5,2l-4.7,13l-5.6,11.3l-6,10.2l-1.5,3.5l-2.9,9l-1.2,11l-2.7,8l-1.7,3.1l-4,4.5l-1.1,0.4l-0.8,1l-0.4,1l-6.7,3.4l-3,2.1l-2,1.8l-2.4,2.7l-2.6,4.2l-1,1.2l-1,0.7l-2,0.6l-7,0.1l-2,0.3l-3,1l-3,1.7l-2,1.9l-1.5,2.3l-0.6,2l-0.1,2l0.8,3l0.9,2l2,3l2.6,3l3.8,4l2.2,2l4.9,3.5l2,2l1,1.6l1.4,2.9l3.7,10l0.1,1l-0.3,1l-0.8,1l-1.8,1l-2.3,0.7l-5,1.3l-4,0.6l-3,0.1l-10,-0.4l-4,0.6l-3,-1l-3,-0.3l-2,0l-10,1.1l-12,0.3l-6,1.1l-9,1.3l-5,-0.3l-1,0.7l-2.1,2.2l-1.4,1l-4.7,2l-6.7,2l-4.3,1l-8.8,1.8l-3,0.4l-3,-0.2l-2,-0.6l-3.1,-1.4l-4.9,-2.6l-1,-0.3l-2,-0.3l-2,0.1l-2,0.5l-2,1l-2.4,2.6l-1.6,1.2l-2,0.4l-2,-0.3l-1,-0.6l-0.6,-0.7l-0.1,-1l0.9,-1l3.8,-2l1.4,-1l0.6,-1l0.1,-1l-0.3,-1l-0.6,-1l-0.9,-1l-1.3,-1l-2.4,-1l-0.5,-2l-2.1,-4l-1.1,-3l-0.4,-2l-0.5,-6l0.2,-7l-0.4,-12l-0.6,-4l-1,-5l-0.5,-1l-6.7,-10.3l-3,-5.3l-0.7,-2.4l-0.9,-5l-0.4,-1.3l-4.1,-6.7l-5.6,-14l-8.2,-19l-7.9,-16l-0.8,-3l-0.4,-5l0.5,-8l1.3,-9l1.9,-9l2.3,-7.8l3,-8.6l3,-7.4l16.3,-35.2l4.2,-10l3,-8l4,-12l3.2,-11l3.1,-13l2.6,-13M255,117.9l1,0.4l0.7,0.7l0.5,1l0.1,1l-0.4,1l-0.9,0.9l-1,0.2l-1,-0.3l-0.7,-0.8l-0.5,-1l-0.1,-1l0.4,-1l0.9,-0.9l0.7,-0.1zM95,247.8l-4,0.9l-1,0.4l-1.2,0.9l-3,4l-0.3,1l0.1,1l0.4,1l1.5,2l3.5,3.6l4.7,5.4l3.3,4.4l0.8,1.6l0.5,2l0.7,6.2l2,4.4l1,1.6l2,1.3l1,0.4l3,0.4l2,0.1l1,-0.2l4,-1.1l1.3,-1.1l2.2,-4l3,-14l0.1,-1l-0.1,-2l-0.5,-2l-1,-2.4l-1,-1.5l-1,-0.8l-5.9,-3.3l-8.1,-5.5l-7,-3.6l-1,-0.4l-1,-0.1l-1,0.1zM211,250.8l1,0.1l1,0.3l2,1.7l0.7,1.1l1,3l1.3,0.1l1,0.5l0.3,0.4l0.4,1l-0.3,1l-0.4,0.3l-1,0.3l-1,-0.1l-2,-0.6l-3,0.6l-2,-0.3l-1,-0.6l-1.1,-1.6l-0.2,-1l0,-2l0.6,-2l0.7,-1l1,-0.8l0.5,-0.2zM144,257.6l-1.9,1.4l-0.8,1l-0.4,1l-0.1,1l0.2,1l0.6,1l0.9,1l1.5,0.9l2,0.5l2,-0.2l1.9,-1.2l0.7,-1l0.5,-1l0.1,-1l-0.2,-1.5l-0.7,-1.5l-1.3,-1.2l-1,-0.5l-1,-0.2l-2,0.2zM84,288.6l-1.1,1.4l-0.3,1l-0.2,2l0.6,3.9l1.6,5.1l0.4,0.9l1,0.9l1,0.2l1,0l2,-0.6l3,-1.4l1.3,-1l0.3,-1l-1.6,-3.1l-1.5,-3.9l-1.3,-2l-0.9,-1l-1.3,-1l-2,-0.8l-1,0zM99,300l0,0.2l0.1,-0.2z" fill="none" stroke="#f850a4" stroke-width="0.95" stroke-linejoin="round"/>
<path d="M388,94l-18.4,28l-4.6,8l-1,1l-1,-0.7l-3,-4.9l-4,-7.4l-1.7,-4l-1.1,-4l-2.2,-12.4l-1.8,-8.6l-0.8,-2l-3.5,-6l-1.7,-2l-5.2,-4.3l-6.3,-4.7l-1,-1l-0.5,-1l-1.6,-6l-1.4,-7l-0.9,-2l-1.9,-3l-1.6,-2l-1.8,-1.5l-3,-1.7l-2,-0.5l-5.2,-0.3l-1.8,0.5l-6,2.5l-1.2,1l-4.1,6l-0.5,2l-0.4,4l0.1,1l0.6,2l2.5,6.8l1,1.2l3,-0.3l2,0.3l1,0.4l2,1.3l2,2l0.9,1.3l0.4,1l0.1,1l-0.3,2l-1,2l-1.1,1.1l-2,1.3l-3,1l-2,0.1l-2,-0.4l-1,-0.1l-0.7,2l-1.2,2l-2.8,2l-19.7,10l-7.4,3l-3.5,1l-5.7,1.2l-12,0.7l-11,1.4l-3.5,0.7l-7.8,2l-2.8,2l-1.7,2l-0.5,1l-1.2,5l-1.4,23l-2.4,16l0.3,3l2,8l0,12l-0.6,3l-2.4,9l0,8l-0.2,2l-3.2,10l-1.3,2l-6.2,7l-1.1,0.9l-9,5.3l-3,1.5l-14,5.5l-3,0.9l-12,1.5l-2,0.1l-2,-0.3l-14,-4.4l-26,-9.1l-2,-1l-9,-5.9l-8,-4.8l-6,-3l-3,-1.1l-5,-0.6l-1,0.1l-1,0.5l-3.6,2.9l-2.4,1.3l-4,1.2l-2,0l-1,-0.3l-6,-3.9l-4.9,-4.3l-1.1,-0.7l-2,-0.8l-6,-1.5l-2.8,-1l-3.2,-2.1l-2,-1.7l-1,-1.2l-3,-5.2l-2.7,-6.8l-7.9,-15l-0.6,-2l-0.3,-3l0.1,-4l0.4,-4l0.9,-5l1.1,-5.1l3,-9.9l3,-7.5l4,-8.3l5,-8.8l11.5,-18.4l4.1,-7l5.3,-10l4.5,-10l4.1,-11l3.9,-13l3.3,-14l2.9,-16M300,71.7l-0.2,0.3l-0.8,0.5l-1.1,1.5l-0.8,2l-0.2,2l0.3,2l0.8,2l1,1.5l0.9,0.5l0.1,0.8l0.1,-0.8l1.7,-6l0.2,-1l-0.3,-2l-0.7,-2.7l-0.5,-0.3zM54,227.2l1,-0.2l1,0.3l1,0.9l0.4,0.8l0.5,2l0,3l0.4,2l0.7,1.6l1,1.3l1,0.7l3,0.4l1.4,1l0.3,1l-0.3,1l-1.3,2l0.9,1.7l1.7,4.3l2,3l1.1,2l0.8,3l0.6,1l0.9,1l0.1,1l-0.2,1.9l-1,-0.1l-0.6,-0.8l-1,-3l-0.4,-0.1l-1,1.6l-0.2,1.5l0.6,1l0.6,1.8l1.9,1.2l0.4,1l0,2l-1.6,5l0,2l0.8,3l4.2,10l0.4,2l-0.1,1l-0.3,1l-0.7,1l-1,0.5l-1,-0.1l-1,-0.9l-2,-3.1l-1,-2.4l-0.7,-6l-1.3,-6.9l-0.7,-5.1l0,-4l0.6,-5l-0.2,-1l-0.7,-1.8l-1.2,-7.2l-2.9,-5l-0.3,-1l-0.1,-2l-0.3,-1l-0.2,-0.2l-1,0.3l-1,-0.3l-1,-0.7l-3,-3.2l-1.3,-1.9l-0.6,-2l-0.1,-2l0.2,-2l0.9,-3zM166,274.8l1,-0.4l1,0.1l1,0.6l1,1.9l0.5,2l0.1,2l-0.2,1l-0.4,1.2l-1,1.3l-1,0.6l-1,0.2l-1.1,-0.3l-2.7,-4l-0.2,-1l0,-1l0.4,-1l1.3,-2l1.1,-1zM134,275.6l1,-0.4l2,0.1l3.2,0.7l0.8,0.3l1.1,0.7l3,4l0.2,1l-0.9,4l-0.6,1l-1.4,1l-2.1,1l-2.3,0.5l-1,-0.1l-2,-0.5l-1.8,-0.9l-1,-1l-2.2,-4l-0.3,-1l0.1,-1l0.2,-1l1,-1.7l1,-1.2l1.3,-1.1zM190,280.6l1,0l1,0.1l1,0.5l1,0.9l0.7,0.9l0.4,1l0.1,1l-0.4,2l-0.8,1.5l-1,0.9l-1,0.3l-1,-0.1l-1,-0.6l-2.6,-3l-0.4,-1l0,-1l0.4,-1l1.8,-2z" fill="none" stroke="#e83cc8" stroke-width="0.85" stroke-linejoin="round"/>
<path d="M388,83.2l-4.3,6.8l-8.7,14.8l-4,5.9l-3,3.1l-2,1.3l-2,0.5l-2,-0.5l-2,-1.5l-1,-1.1l-1,-1.5l-0.8,-2l-1.8,-12l-2,-9l-1,-3l-4.1,-7l-1.3,-1.9l-7.3,-7.1l-3,-4l-0.7,-1.7l-1.4,-5.3l-1.1,-8l-1.3,-6l-1.2,-2.2l-3,-3.5l-2,-1.7l-5,-1.9l-3,-0.2l-5,0.3l-4,0.6l-9,2.2l-7.2,3.4l-1.2,1l-0.8,1l-2.2,4l-2.6,3l-2,1.6l-7,4.1l-2,1.3l-1,1.1l-3,4.4l-1.8,3.5l-1.9,5l-2.2,9l-1.7,8l-0.6,2l-1.1,2l-3.1,4l-1.6,1.2l-2,0.8l-6.4,2l-5.6,1.2l-0.3,-0.2l-0.1,-1l-0.6,-1.1l-1,-0.7l-1,-0.2l-1,0.3l-1,0.7l-0.5,1l0.5,1.3l1,0.7l-1,0.1l-1,-0.4l-2,0.2l-12,2.9l-2,0.7l-7,4.1l-4,3.9l-0.9,1.5l-1.5,4l-0.5,2l-0.6,15l0.6,14l-0.7,11l-0.4,16l-1,12l-1.3,5l-0.1,1l1.4,6l0.2,3l-1.3,8l-0.7,2l-1.2,1.8l-5.7,6.2l-2.3,1.9l-13,5l-2,0.6l-15,2.4l-2,0.2l-15,-3.3l-3,-0.8l-11,-3.7l-10.1,-4.3l-2.9,-1.6l-11,-8l-8,-8l-6,-6.6l-1.2,-0.8l-4.8,-2.4l-3,-0.7l-5,-0.4l-3,0.1l-1,0.4l0.9,2l0.2,1l-0.1,1l-0.3,1l-0.7,1.2l-1,0.8l-1,0.4l-1,0.2l-1,-0.1l-1.1,-0.5l-1.1,-1l-0.6,-1l-0.3,-2l0.6,-2l-0.5,-0.3l-2.4,0.3l-4.9,2l-4.7,1l-2,0.2l-2,-0.2l-5.6,-2l-1.6,-1l-1,-1l-2.8,-4l-3,-1.8l-1,-0.8l-3,-3.4l-2,-2.7l-3,-4.8l-1.9,-3.5l-0.7,-2l-0.6,-3l0,-3l0.3,-4l0.9,-5.4l1.1,-4.6l1.9,-6l2,-5.2l2,-4.4l4,-7.5l5,-7.8l4,-5.5l11.3,-14.6l6.2,-9l2.9,-5l3.2,-6l4.5,-10l3.8,-11l3.5,-13l2.9,-14l2.5,-16M173,156.9l-2,1.6l-2.1,2.5l-0.7,2l-1,4l0.1,1l0.5,1l2.2,3.6l1,1.3l1,0.5l1,-0.1l3,-1.1l1,-0.5l0.7,-0.7l2.6,-6l0.6,-2l-1,-5l-0.9,-1.6l-1,-0.7l-2,-0.5l-2,0.2l-1,0.5" fill="none" stroke="#c832d2" stroke-width="0.85" stroke-linejoin="round"/>
<path d="M388,68.3l-2.7,3.7l-6.6,10l-7.7,12.5l-2,3l-2,2l-1,0.5l-1,-0.1l-1,-0.9l-1,-2.2l-2.8,-12.8l-4.8,-11l-3,-4l-1.8,-2l-1.6,-1.2l-4,-2.1l-2,-1.6l-1.4,-2.1l-1.1,-2l-0.9,-2l-0.6,-2l-1.3,-7l-1.6,-10l-1.2,-2l-3.8,-4l-1.7,-1l-2.4,-1l-7,-2.1l-2,-0.2l-11,-0.5l-3,0.4l-7,1.7l-3,1.3l-8.6,4.4l-6,4l-2.4,2l-9.6,12l-4.8,7l-1,2l-0.3,1l-0.3,6l-0.3,2l-2.7,9.7l-4,6.3l-2.3,3l-1.1,1l-4.1,3l-1.5,1l-1,0.4l-11,1.1l-12,2.7l-2,0.9l-5,3.7l-2,1.7l-5,5.4l-7,7.1l-2.7,3l-4,5l-5.4,9l-2.3,2l-7.5,5l-9.1,5.2l-2,1.4l-1,1.1l-0.8,1.3l-3.1,6l-0.4,1l-0.4,2l-0.8,10l0.6,8l0.5,3l0.9,2l2.5,3.9l1,0.6l4,1.3l2,0.3l2,-0.4l5,-2.3l1.6,-1.4l3.8,-5l1.1,-2l3.5,-7.7l2,-3.3l2,-2.7l1,-0.5l1,0l0.4,0.2l0.6,0.3l1,0.9l1,1.6l0.8,2.2l-0.1,1l-1.7,5.8l-2.1,6.2l-0.6,3l-0.3,7l0.1,7l0.5,2l2.4,4.7l0.4,1.3l-0.1,2l-0.5,2l-0.7,2l-0.7,1l-1.4,1.2l-5,2.8l-11,2.3l-4,0.6l-15,0.8l-3,-0.4l-14,-2.3l-11,-2.6l-2,-0.7l-2,-1.1l-8.7,-5.6l-1.3,-1l-9,-9l-9,-7.6l-2,-1.2l-5,-2l-3,-0.9l-9,-0.9l-5,-1.5l-4,-0.7l-4,0.1l-9,1.2l-4,-0.1l-4,-0.9l-8,-3.1l-2,-1.1l-2,-1.5l-3,-3.2l-2.4,-3.6l-1,-2l-0.6,-2l-0.4,-3l0.1,-4l0.5,-4l0.9,-4l1.2,-4l1.9,-5l1.8,-4l3,-5.6l2,-3.2l3,-4.3l5,-5.9l6,-6l11.3,-10l2.9,-3l2.6,-3l3.7,-5l3.3,-5l2.8,-5l2.9,-6l1.9,-5l1.9,-6l1.6,-6l1.5,-7l1.5,-8l1.6,-10l2.5,-21" fill="none" stroke="#a82ed0" stroke-width="0.85" stroke-linejoin="round"/>
<path d="M388,47.7l-2.6,2.3l-3,3l-8.6,10l-1.8,1.7l-1.7,1.3l-2.3,1.1l-2,0.4l-3,-0.1l-4,-0.9l-6,-2.3l-4.6,-2.2l-1.4,-0.9l-2,-2.4l-1.7,-2.7l-1.3,-6.2l-0.3,-2.8l1.8,-18l0.6,-3l-0.2,-1l-0.9,-0.3l-1,0l-4,0.6l-3,0.1l-4,-0.3l-1,-0.3l-6,-3.3l-3,-1.2l-6,-1.8l-7,-1.3l-4,-0.2l-3,0.1l-3,0.5l-4,1.2l-3,1.3l-4,2.1l-7,4l-4.2,2.8l-3.8,3l-7,7.1l-9,6.5l-2.6,2.4l-1.5,2l-1.5,3l-1.1,4l-1.1,6l-2.7,7l-0.7,1l-5.2,6l-4.9,7l-2.7,2.9l-1.9,1.1l-3.1,1.3l-7,1.6l-3,1.2l-2,1l-2,1.2l-3,2.4l-7,6.4l-2,1.5l-2,1.1l-2,0.8l-3,0.8l-8,1.3l-8,2.7l-1.4,0.7l-1.4,1l-4,4l-0.7,1l-3.5,8l-9,18l-6.4,11l-0.8,3l-1.1,5l0.1,2l1.3,4l-0.1,1.5l-1,2.7l-1,1.7l-1,1.1l-2,1.7l-3.4,2.3l-2.2,2l-1.1,2l-1.1,3l-1,1l-1.2,0.3l-1,-0.1l-9,-2.6l-14,-2.7l-12,-3l-16,-1.3l-9,-1.6l-4,-0.5l-5,0l-9,0.6l-4,-0.1l-5,-0.7l-4,-1.1l-2,-1l-2,-1.2l-2,-1.8l-1,-1.2l-1.3,-2l-0.9,-2l-0.5,-2l-0.2,-3l0.2,-3l0.5,-3l1.1,-4l1.1,-3l3,-6.4l2,-3.3l2,-2.9l2,-2.6l3,-3.3l2,-1.8l3,-2.5l5,-3.1l3,-1.3l3,-0.9l3,-0.6l2,-0.1l4,0.3l4,1.3l7,3.5l2,0.5l1,0l1,-0.4l0.6,-0.4l0.5,-1l2.2,-16l0.5,-2l3.6,-5l1.6,-1.4l2.7,-1.6l1,-1l1.4,-2l0.9,-2l1,-4l0.5,-6l0.5,-31.8l1.6,-36.2" fill="none" stroke="#8a2ed0" stroke-width="0.85" stroke-linejoin="round"/>
<path d="M280.8,14l-7.8,4.5l-7,4.7l-13,9.9l-3.4,2.9l-3,3l-2.6,3.2l-2.4,3.8l-1.9,4l-3.5,9l-2.2,4l-2.8,4l-4.2,5.4l-2.2,2.6l-2.1,2l-1.7,1.3l-2.8,1.7l-17.2,8.1l-3,1.1l-3,0.7l-3,0.4l-3,0.1l-8,-0.6l-11.6,-1.8l-8.4,-1.6l-7,-1.9l-5,-1.9l-5,-2.8l-4,-2.8l-4.2,-4l-3.8,-4.7l-3.3,-5.3l-2.7,-5.8l-2.1,-6.2l-1.9,-7.7l-1.3,-8.3l-1,-9l-0.7,-12M388,27.3l-5,0.3l-4,-0.3l-4,-0.8l-3,-1l-4,-2l-9.2,-6.5l-5.1,-3M125,126.8l1,-0.4l2,-0.4l2,0.2l1,0.3l1,0.5l1.2,1l0.8,1.1l0.8,1.9l0.2,2l-0.3,3l-0.3,2l-0.7,2l-1.3,2l-0.9,1l-1.5,0.9l-1,0.4l-2,0l-1,-0.3l-1,-0.5l-1,-0.9l-1.8,-2.6l-0.9,-2l-0.5,-2l-0.3,-3l0.4,-2l1.2,-2l1,-1l1.6,-1zM60,132.9l3,-0.2l2.6,0.3l2.4,0.7l3,1.3l3.2,2l3.8,3l3.3,3l2.6,3l1.5,2l1.5,3l0.5,2l0.3,2l-0.2,2l-0.6,2l-1.1,2l-1.9,2l-1.5,1l-2,1l-4.4,1.4l-14,2.6l-7,0.7l-4,0l-4,-0.8l-3,-1.3l-2,-1.6l-0.8,-1l-1.1,-2l-0.6,-2l-0.1,-2l0.1,-2l0.5,-2.8l0.7,-2.2l1.2,-3l1.1,-2.2l2,-3.2l2,-2.5l2,-2.1l2,-1.8l2,-1.4l2,-1.2l2,-0.8l2.7,-0.8z" fill="none" stroke="#6a30d8" stroke-width="0.85" stroke-linejoin="round"/>
<path d="M388,102l-4,5.6l-6.3,9.4l-2.5,4l-2,4l-1.2,3l-0.9,3l-0.5,3l-0.5,7l-0.7,2l-2.4,2.9l-1,0.9l-1,0.6l-1,0.3l-1,-0.1l-1,-0.4l-1,-0.9l-0.9,-1.3l-0.8,-2l-4.7,-16l-5.1,-15l-2.7,-6l-0.5,-2l-1.6,-9l-1.8,-7l-1.2,-3l-3.3,-5l-0.9,-1l-2.5,-1.9l-4.8,-3.1l-3.2,-2.7l-1.2,-1.3l-1,-2l-1.3,-5l-1.5,-4l-2,-3.8l-1,-1.2l-3,-1.9l-2,-0.8l-2,0.2l-3,1.3l-2,1.5l-1.5,1.7l-0.6,1l-0.2,1l0,1l0.5,3l0.3,1l1,2l4.6,7l3,4l0.6,2l0.5,4l-0.6,2l-2.6,4.3l-4,5.5l-2,2.2l-2,1.4l-3,1.6l-11.6,5l-13.4,4.2l-19,3.5l-9,1l-4,0.8l-4.1,1.5l-1.8,1l-1.1,1l-1.4,2l-0.4,1l-0.3,2l0.5,2l0.7,1l1.2,1l2.7,1.7l1,0.2l3,0l2.7,1.1l2.3,1.6l1.8,2.4l2,4l0.6,2l-0.1,3l-1.3,6.4l-0.7,2.6l-3.3,9.8l-4,8.1l-2,3.1l-7.1,9l-5.5,8l-1.5,3l-2.8,7l-4.4,14l-1.2,3l-1.3,2l-5.8,7l-2.4,2l-8,5.4l-14.9,6.6l-15.1,7.5l-7,3l-2,0.6l-1,0l-2,-0.4l-6,-1.9l-13,-5.2l-10.8,-3.6l-16.2,-4.3l-10,-4.8l-7,-4.7l-1,-0.5l-7,-2l-1,0l-1,0.3l-3.1,2l-0.9,1l-0.3,1l-0.3,6l0.1,2l0.7,4l0,1l-0.3,1l-3.4,5l-3.4,6l-0.3,1l0.1,1l1.5,5l0.6,1.3l1,1.2l11.6,9.5l4.4,5.1l1.2,1.9l1.4,5l0.1,1l-0.7,1.6l-1,1l-1,0.6l-1,0l-1,-0.4l-4,-2.4l-4,-3.8l-2,-1.4l-3,-1.3l-1,-0.1l-1,0.5l-0.6,1.7l0,3l0.4,2l1.7,5l0,3l-0.5,3.7l-0.5,1.3l-0.5,0.8l-1,0.7l-3,1.1l-1,-0.1l-2.6,-1.5l-1,-1l-3.2,-6l-0.8,-2l-0.3,-2l-0.5,-6l-0.6,-11l-0.2,-8l-1.7,-9l-0.5,-1l-5.6,-8.2l-4.2,-6.8l-0.9,-3l-0.4,-5l-0.5,-1.8l-4,-6.6l-4.8,-12.6l-8.8,-21l-8,-16l-0.6,-3l-0.1,-4l0.5,-7l1.2,-8l1.9,-8l2.7,-8.5l3,-7.8l3,-6.7l4,-8l9.7,-18l4.6,-9l4.2,-9l4.1,-10l4,-11l3.8,-13l3.1,-13l2.7,-14M165,259.7l1,-0.5l1,-0.1l1,0.2l2,1.1l3,2.4l6,6.2l1,0.9l12,6.5l7.5,5.6l1.5,1.4l1,1.5l1.2,4.1l0.3,2l-0.2,1l-0.7,1l-4.5,3l-2.1,0.7l-1,0.1l-11,-0.9l-18,-0.9l-19,1.3l-10,-1.4l-2,-0.5l-6,-3.9l-1.6,-1.5l-0.8,-2l-0.7,-4l-0.3,-2l0.1,-1l0.6,-2l1.7,-3.2l1.3,-1.8l1.7,-1.6l2,-1.4l1,-0.4l1,-0.3l2,0.1l5,1l2,0l6,-0.5l5,-1.3l1.4,-0.6l1.5,-1l3.1,-3.8l3.7,-3.2z" fill="none" stroke="#ff0000" stroke-width="1.9" stroke-linejoin="round"/>
<path d="M388,130.2l-4,4.9l-2,3l-1.6,2.9l-0.7,2l-1.6,6l-0.8,2l-1.3,6l-2,1.9l0,2.1l-0.7,1l-0.2,2l-0.4,1l-2.2,5l-2.8,7l-3.6,6l-2.1,2.4l-3,2.7l-1.4,0.9l-7.7,4l-2.9,2l-6,4.7l-7,5.1l-5,2.3l-1,0.3l-1,-0.3l-1,-1l-1,-1.8l-0.5,-1.3l-0.1,-1l0.1,-3l-0.2,-2l-0.4,-1l-0.9,-1.1l-1.2,-0.9l-1.8,-0.7l-5,-0.5l-3,-1l-6,-3.3l-4.2,-3.5l-1.6,-2l-1.1,-2l-1.7,-4l-1.1,-4l-0.3,-0.7l-1,-0.1l-11,1.1l-2,0.7l-6,3.2l-1,1.3l-3,6l-5.3,8.5l-2,4l-1.7,4l-2.1,6l-1.3,5l-1.2,6l-1.5,9l-2.5,7l-1.4,2.9l-2,2.9l-3,2.9l-3,1.9l-4.4,1.4l-1.6,0.7l-2.9,2.3l-0.6,1l-0.1,1l0.6,1.6l1,1.6l1,1l1,0.5l4,1.3l2,0.9l5,3.1l1,0.9l0.7,2.1l0.4,3l-0.1,1.1l-1,1.6l-1,0.9l-1,0.5l-2,0.5l-5,0.6l-9,0.7l-1,0.4l-1,0.6l-1,1.8l-0.1,1.3l0.1,1l0.5,1l0.8,1l4.5,3l5.2,1.5l2,1l2,1.6l1.8,1.9l0.5,1l0,1l-0.3,1l-3.1,6l-0.9,1l-4,2.5l-2,1l-2,0.6l-12,2.3l-11,3.9l-11.6,1.7l-13.4,0l-13,-1l-2,0.1l-8,1.5l-12,0.1l-10,2.5l-9,3.8l-3.1,1l-24.6,6l-8.3,1.5l-2,0.1l-1,-0.2l-6,-2.1l-14,-4.5l-2,-0.7l-5,-2.3l-2,-1.3l-1,-1.4l-1,-2.7l-0.3,-1.4l-1.2,-3l-2.5,-4.5l-1,-2l-0.4,-1.5l-0.6,-1.2l-1.5,-7.8l0.1,-1l0.3,-1l3.3,-6l0,-2l0.6,-1l0.1,-1l-0.2,-1l0.3,-4l-0.2,-2l0.1,-2l-1.5,-6l-0.4,-0.9l-0.5,-2.1l-0.6,-1l-1.6,-4l-4.3,-6.9l-4.5,-9.1l-4.5,-6.1l-2,-3.6l-12,-23.8l-0.6,-1.5l-6.4,-12.5l-0.6,-1.5l-3.1,-6l-0.4,-1l0.2,-4l-1,-16l0,-9l0.9,-12l2,-13l2,-9.8l3,-12l10.6,-37.2l5,-19l4.1,-18l3.5,-19M300,162.7l-1,0.4l-0.9,0.9l-0.9,2l-0.5,2l-0.2,2l0,1l0.5,0.8l2,-0.1l2,-0.6l1.6,-1.1l0.8,-1l0.4,-1l0.1,-2l-0.4,-2l-0.9,-1l-0.6,-0.3l-1,-0.2z" fill="none" stroke="#111111" stroke-width="1.5" stroke-linejoin="round"/>
</g>
<path d="M89.2,84.2 L95.1,88.4 L100.1,95.1 L105.2,103.5 L108.9,113.6 L108.5,120.3 L105.2,127.0 L105.2,132.9 L110.2,134.6 L120.3,135.1 L130.4,133.8 L131.2,131.2 L137.1,128.7 L142.1,123.7 L148.8,117.0 L152.2,108.6 L153.9,101.9 L158.9,96.0 L166.7,95.3 L173.4,99.4 L180.1,104.5 L188.5,107.0 L198.6,107.8 L208.7,107.0 L214.6,104.5 L217.9,100.3 L220.4,93.6 L222.4,87.7 L223.0,83.5 L227.2,81.8 L233.9,81.0 L238.1,76.8 L243.9,71.8 L246.5,66.7 L249.3,58.7 L253.5,52.0 L260.2,48.6 L266.0,44.4 L271.1,38.6 L276.1,31.9 L283.7,26.8 L292.1,24.3 L296.3,21.0 L302.1,18.4 L310.5,18.4 L316.7,21.8 L325.1,24.3 L333.5,24.8 L341.1,23.8 L347.8,26.0 L351.1,27.7 L352.8,35.2 L354.5,43.6 L356.2,52.0 L357.8,60.4 L360.3,66.7 L362.8,76.8 L363.3,86.9 L362.3,96.9 L361.6,107.0 L360.0,117.9 L357.5,117.3 L353.6,114.1 L349.2,110.9 L344.1,112.2 L340.3,117.9 L337.7,124.3 L334.5,130.6 L332.6,135.7 L334.3,140.2 L336.8,145.2 L339.3,149.4 L345.2,151.1 L353.6,151.9 L357.8,151.9 L359.4,145.2 L360.0,140.2 L363.6,139.3 L370.4,140.2 L377.1,141.5 L380.4,142.7 L378.8,148.6 L375.4,157.0 L372.9,165.4 L370.4,172.1 L368.7,177.0 L365.5,183.4 L360.5,188.8 L357.1,190.9 L348.8,196.8 L342.0,203.5 L336.2,211.1 L335.0,214.4 L332.0,220.3 L326.9,228.7 L321.9,237.0 L320.6,238.4 L315.5,245.1 L308.8,251.8 L300.4,258.5 L293.7,265.2 L287.0,271.9 L277.8,279.5 L270.2,287.0 L263.5,292.9 L256.8,297.0 L255.6,296.9 L248.9,302.7 L240.5,307.8 L233.8,310.3 L223.7,309.5 L216.2,312.0 L214.5,315.3 L208.6,315.3 L201.1,317.0 L199.4,321.2 L195.2,319.5 L186.8,317.8 L178.4,316.2 L170.0,316.2 L160.5,316.8 L152.1,316.8 L147.1,317.7 L141.2,320.2 L138.7,321.9 L135.4,325.2 L127.0,326.1 L118.6,326.1 L113.5,327.7 L106.8,329.4 L100.1,332.8 L96.8,336.1 L90.0,336.1 L85.0,333.6 L90.4,332.0 L87.0,327.9 L78.6,328.8 L73.6,327.9 L71.1,322.9 L67.7,320.4 L65.2,322.0 L63.5,327.0 L61.8,320.4 L62.7,316.2 L61.0,310.3 L56.8,303.6 L54.3,296.9 L50.1,291.8 L50.9,287.6 L56.8,285.1 L58.8,278.4 L58.5,270.0 L57.8,268.7 L56.1,262.0 L52.7,255.3 L48.5,248.6 L44.3,240.2 L38.5,231.8 L33.4,223.4 L31.1,217.1 L26.9,208.7 L21.8,198.6 L16.8,188.5 L14.3,183.5 L18.5,179.3 L21.0,173.4 L25.2,169.2 L30.2,171.8 L33.6,176.8 L34.4,183.5 L38.6,186.9 L45.3,187.7 L53.7,190.2 L62.1,188.5 L70.5,189.4 L75.5,186.9 L80.6,181.8 L87.3,178.5 L89.5,178.3Z" fill="none" stroke="#808080" stroke-width="1.1" stroke-linejoin="round"/>
<path d="M282.1,181.0 L288.0,185.1 L291.3,191.9 L297.2,196.9 L298.0,201.9 L294.7,208.6 L292.1,215.4 L287.1,219.6 L277.0,222.1 L273.7,227.0 L271.0,229.2 L263.4,230.8 L255.9,224.1 L251.9,218.7 L248.5,212.0 L248.5,207.0 L255.2,202.8 L260.3,196.1 L267.0,188.5 L273.7,183.5Z" fill="#e1e1e1" stroke="#808080" stroke-width="1.1"/>
<path d="M360.0,117.9 L357.5,117.3 L353.6,114.1 L349.2,110.9 L344.1,112.2 L340.3,117.9 L337.7,124.3 L334.5,130.6 L332.6,135.7 L334.3,140.2 L336.8,145.2 L339.3,149.4 L345.2,151.1 L353.6,151.9 L357.8,151.9 L359.4,145.2 L360.0,140.2 L362.5,138.5 L362.3,128.0Z" fill="#e1e1e1" stroke="#808080" stroke-width="1.1"/>
<path d="M89,84 L87,16.5 M110.3,3.8 L110.3,10.8 M283.7,3.8 L298,10 L299.6,15 L303.8,18.4 M351.1,26.8 L373.8,3.8 M362.4,118 L363.2,139.5" stroke="#fff" stroke-width="1.2" fill="none"/>
<g clip-path="url(#saclip)"><path d="M47.7,243.5 L51.0,238.5 L56.1,236.0 L59.4,230.1 L63.6,231.0 L67.8,234.3 L70.4,240.2 L71.2,246.9 L73.7,253.6 L74.6,260.3 L76.2,265.4 L81.4,267.7 L83.8,276.7 L86.3,283.3 L90.4,277.5 L96.9,273.5 L99.4,279.2 L103.5,287.4 L109.2,284.9 L114.1,282.5 L119.0,280.8 L123.9,275.9 L130.5,271.8 L137.0,268.5 L140.3,261.2 L143.5,256.3 L148.5,257.9 L153.0,261.8 L160.6,259.3 L170.6,256.8 L175.6,259.3 L180.7,264.3 M180.7,264.3 L179.0,268.5 L172.0,272.0 L165.7,276.0 L167.5,281.0 L163.2,286.0 L155.6,293.6 L154.4,301.2 L163.2,303.7 L170.7,307.5 L175.8,311.3 L177.0,315.8 M180.7,264.3 L184.4,259.3 L190.7,254.2 L198.2,250.5 L206.4,246.5 L212.5,241.0 L212.9,232.0 M212.9,232.0 L210.2,229.5 L202.5,223.6 L193.0,213.1 L188.4,204.5 L193.0,195.0 L194.1,190.5 L197.4,182.9 L198.2,180.0 L199.0,174.0 L201.5,167.5 M212.9,232.0 L217.8,229.4 L227.4,228.4 L235.0,231.3 L240.0,230.6 L247.0,230.0 L252.5,226.0 M201.5,167.5 L199.0,162.5 L198.2,155.2 L196.5,152.7 L195.7,160.9 L192.5,165.8 L190.0,159.3 L184.3,156.0 L181.8,151.1 L180.2,142.9 L177.7,136.4 L172.0,130.0 L167.3,125.4 L163.9,120.3 L165.6,114.4 L162.3,112.8 L158.9,114.4 L155.0,118.0 L153.0,117.0 L151.0,113.0 M201.5,167.5 L207.2,162.5 L213.7,157.6 L221.9,154.4 L228.0,150.5 L232.7,143.3 L237.1,137.8 L246.9,135.6 L254.5,134.5 L260.0,131.3 M260.0,131.3 L257.8,126.9 L258.9,121.5 L265.5,117.1 L270.0,110.0 L270.6,101.9 L275.5,97.0 L280.4,94.5 L286.9,90.5 L291.8,91.3 L296.5,93.0 L298.2,95.3 L296.0,100.7 L299.3,108.4 L296.0,114.9 L289.5,121.5 L287.3,125.8 L280.7,129.0 L276.4,134.5 L269.8,135.6 L263.3,132.4 L260.0,131.3 M234.5,82.0 L242.7,84.7 L249.3,83.1 L252.5,88.0 L259.1,90.5 L265.6,88.8 L272.2,90.5 L275.5,94.5 L273.0,98.6 L270.6,101.9 M296.5,93.0 L298.2,99.2 L306.4,100.0 L314.5,95.9 L319.5,91.8 L324.4,89.4 L330.9,87.7 L334.2,82.0 L339.1,79.5 L344.0,77.9 L342.4,71.4 L347.3,68.9 L355.5,68.1 L360.4,67.3 M280.7,129.0 L279.4,137.6 L285.9,140.9 L294.1,144.2 L300.6,148.0 L306.7,154.1 M306.7,154.1 L310.5,153.1 L318.2,152.2 L327.7,153.1 L335.4,150.3 L339.2,149.3 M306.7,154.1 L304.8,159.8 L299.1,167.5 L297.2,173.2 L293.4,176.0 L289.5,180.8 L287.5,184.6 M293.5,211.0 L295.2,213.0 L292.2,220.0 L295.2,227.3 L304.2,231.8 L313.1,234.8 L315.0,240.0 L313.0,247.0" fill="none" stroke="#969696" stroke-width="1.0" stroke-linejoin="round" stroke-linecap="round"/></g>
<g fill="#000"><circle cx="217.6" cy="110" r="1.25"/><circle cx="275.3" cy="107.9" r="1.25"/><circle cx="252.4" cy="156.5" r="1.25"/><circle cx="229.2" cy="192.7" r="1.25"/><circle cx="197" cy="182.3" r="1.25"/><circle cx="312.1" cy="160.4" r="1.25"/><circle cx="338.4" cy="104.2" r="1.25"/><circle cx="305.8" cy="62.6" r="1.25"/><circle cx="320.6" cy="208.1" r="1.25"/><circle cx="335.3" cy="211.6" r="1.25"/><circle cx="334.5" cy="215.3" r="1.25"/><circle cx="360.2" cy="188.9" r="1.25"/><circle cx="283.6" cy="256.8" r="1.25"/><circle cx="263.5" cy="292.6" r="1.25"/><circle cx="214.5" cy="315" r="1.25"/><circle cx="148" cy="315.1" r="1.25"/><circle cx="141" cy="320.2" r="1.25"/><circle cx="61.8" cy="315.7" r="1.25"/></g>
<ellipse cx="335.4" cy="160.5" rx="1.7" ry="1.2" fill="#f9f060" stroke="#111" stroke-width="1.1"/>
<circle cx="156.5" cy="204.3" r="1.3" fill="none" stroke="#a82ed0" stroke-width="0.6"/>
<style>
.halo{font-style:italic;font-weight:bold;fill:#fff;stroke:#fff;stroke-width:1.7px;stroke-linejoin:round;opacity:0.92}
.prov{font-style:italic;font-weight:bold;fill:#b80f36;stroke:#b80f36;stroke-width:0.22px}
.city{font-style:italic;font-weight:bold;fill:#121228;stroke:#121228;stroke-width:0.22px}
.ctry{fill:#444;}
.ttl{font-weight:bold;fill:#111;stroke:#e1e1e1;stroke-width:1.5px;paint-order:stroke}
.lg{font-weight:bold;fill:#1c1c2a}
.nt{fill:#333}
</style>
<text x="267.5" y="63.3" font-size="7.0" textLength="24.5" lengthAdjust="spacingAndGlyphs" class="halo">Limpopo</text><text x="267.5" y="63.3" font-size="7.0" textLength="24.5" lengthAdjust="spacingAndGlyphs" class="prov">Limpopo</text>
<text x="194.5" y="124.4" font-size="7.0" textLength="33.8" lengthAdjust="spacingAndGlyphs" class="halo">North West</text><text x="194.5" y="124.4" font-size="7.0" textLength="33.8" lengthAdjust="spacingAndGlyphs" class="prov">North West</text>
<text x="247.5" y="120.4" font-size="7.0" textLength="24.5" lengthAdjust="spacingAndGlyphs" class="halo">Gauteng</text><text x="247.5" y="120.4" font-size="7.0" textLength="24.5" lengthAdjust="spacingAndGlyphs" class="prov">Gauteng</text>
<text x="291.6" y="131.0" font-size="7.0" textLength="39.3" lengthAdjust="spacingAndGlyphs" class="halo">Mpumalanga</text><text x="291.6" y="131.0" font-size="7.0" textLength="39.3" lengthAdjust="spacingAndGlyphs" class="prov">Mpumalanga</text>
<text x="223.5" y="180.5" font-size="7.0" textLength="30.9" lengthAdjust="spacingAndGlyphs" class="halo">Free State</text><text x="223.5" y="180.5" font-size="7.0" textLength="30.9" lengthAdjust="spacingAndGlyphs" class="prov">Free State</text>
<text x="304.3" y="189.2" font-size="7.0" textLength="43.6" lengthAdjust="spacingAndGlyphs" class="halo">Kwazulu Natal</text><text x="304.3" y="189.2" font-size="7.0" textLength="43.6" lengthAdjust="spacingAndGlyphs" class="prov">Kwazulu Natal</text>
<text x="86.5" y="209.2" font-size="7.0" textLength="42.6" lengthAdjust="spacingAndGlyphs" class="halo">Northern Cape</text><text x="86.5" y="209.2" font-size="7.0" textLength="42.6" lengthAdjust="spacingAndGlyphs" class="prov">Northern Cape</text>
<text x="214.8" y="274.0" font-size="7.0" textLength="39.1" lengthAdjust="spacingAndGlyphs" class="halo">Eastern Cape</text><text x="214.8" y="274.0" font-size="7.0" textLength="39.1" lengthAdjust="spacingAndGlyphs" class="prov">Eastern Cape</text>
<text x="86.2" y="313.2" font-size="7.0" textLength="41.1" lengthAdjust="spacingAndGlyphs" class="halo">Western Cape</text><text x="86.2" y="313.2" font-size="7.0" textLength="41.1" lengthAdjust="spacingAndGlyphs" class="prov">Western Cape</text>
<text x="309.0" y="60.4" font-size="7.0" textLength="29.0" lengthAdjust="spacingAndGlyphs" class="halo">Polokwane</text><text x="309.0" y="60.4" font-size="7.0" textLength="29.0" lengthAdjust="spacingAndGlyphs" class="city">Polokwane</text>
<text x="220.5" y="107.4" font-size="7.0" textLength="30.0" lengthAdjust="spacingAndGlyphs" class="halo">Mmabatho</text><text x="220.5" y="107.4" font-size="7.0" textLength="30.0" lengthAdjust="spacingAndGlyphs" class="city">Mmabatho</text>
<text x="278.5" y="105.7" font-size="7.0" textLength="23.0" lengthAdjust="spacingAndGlyphs" class="halo">Tshwane</text><text x="278.5" y="105.7" font-size="7.0" textLength="23.0" lengthAdjust="spacingAndGlyphs" class="city">Tshwane</text>
<text x="274.5" y="117.6" font-size="7.0" textLength="37.6" lengthAdjust="spacingAndGlyphs" class="halo">Johannesburg</text><text x="274.5" y="117.6" font-size="7.0" textLength="37.6" lengthAdjust="spacingAndGlyphs" class="city">Johannesburg</text>
<text x="341.5" y="101.9" font-size="7.0" textLength="28.7" lengthAdjust="spacingAndGlyphs" class="halo">Mbombela</text><text x="341.5" y="101.9" font-size="7.0" textLength="28.7" lengthAdjust="spacingAndGlyphs" class="city">Mbombela</text>
<text x="255.6" y="154.4" font-size="7.0" textLength="27.9" lengthAdjust="spacingAndGlyphs" class="halo">Kroonstad</text><text x="255.6" y="154.4" font-size="7.0" textLength="27.9" lengthAdjust="spacingAndGlyphs" class="city">Kroonstad</text>
<text x="232.6" y="190.1" font-size="7.0" textLength="36.9" lengthAdjust="spacingAndGlyphs" class="halo">Bloemfontein</text><text x="232.6" y="190.1" font-size="7.0" textLength="36.9" lengthAdjust="spacingAndGlyphs" class="city">Bloemfontein</text>
<text x="164.4" y="181.4" font-size="7.0" textLength="28.7" lengthAdjust="spacingAndGlyphs" class="halo">Sol Plaatje</text><text x="164.4" y="181.4" font-size="7.0" textLength="28.7" lengthAdjust="spacingAndGlyphs" class="city">Sol Plaatje</text>
<text x="314.5" y="158.1" font-size="7.0" textLength="30.7" lengthAdjust="spacingAndGlyphs" class="halo">New Castle</text><text x="314.5" y="158.1" font-size="7.0" textLength="30.7" lengthAdjust="spacingAndGlyphs" class="city">New Castle</text>
<text x="309.3" y="205.1" font-size="7.0" textLength="26.9" lengthAdjust="spacingAndGlyphs" class="halo">Msunduzi</text><text x="309.3" y="205.1" font-size="7.0" textLength="26.9" lengthAdjust="spacingAndGlyphs" class="city">Msunduzi</text>
<text x="342.9" y="212.7" font-size="7.0" textLength="28.5" lengthAdjust="spacingAndGlyphs" class="halo">Umhlanga</text><text x="342.9" y="212.7" font-size="7.0" textLength="28.5" lengthAdjust="spacingAndGlyphs" class="city">Umhlanga</text>
<text x="337.8" y="219.4" font-size="7.0" textLength="26.1" lengthAdjust="spacingAndGlyphs" class="halo">eThekwini</text><text x="337.8" y="219.4" font-size="7.0" textLength="26.1" lengthAdjust="spacingAndGlyphs" class="city">eThekwini</text>
<text x="364.7" y="193.9" font-size="7.0" textLength="36.3" lengthAdjust="spacingAndGlyphs" class="halo">Richards Bay</text><text x="364.7" y="193.9" font-size="7.0" textLength="36.3" lengthAdjust="spacingAndGlyphs" class="city">Richards Bay</text>
<text x="286.2" y="254.2" font-size="7.0" textLength="23.5" lengthAdjust="spacingAndGlyphs" class="halo">Mthatha</text><text x="286.2" y="254.2" font-size="7.0" textLength="23.5" lengthAdjust="spacingAndGlyphs" class="city">Mthatha</text>
<text x="266.9" y="297.8" font-size="7.0" textLength="31.8" lengthAdjust="spacingAndGlyphs" class="halo">Buffalo City</text><text x="266.9" y="297.8" font-size="7.0" textLength="31.8" lengthAdjust="spacingAndGlyphs" class="city">Buffalo City</text>
<text x="218.9" y="322.4" font-size="7.0" textLength="58.6" lengthAdjust="spacingAndGlyphs" class="halo">Nelson Mandela Bay</text><text x="218.9" y="322.4" font-size="7.0" textLength="58.6" lengthAdjust="spacingAndGlyphs" class="city">Nelson Mandela Bay</text>
<text x="150.5" y="312.8" font-size="7.0" textLength="19.3" lengthAdjust="spacingAndGlyphs" class="halo">George</text><text x="150.5" y="312.8" font-size="7.0" textLength="19.3" lengthAdjust="spacingAndGlyphs" class="city">George</text>
<text x="141.2" y="331.3" font-size="7.0" textLength="31.1" lengthAdjust="spacingAndGlyphs" class="halo">Mossel Bay</text><text x="141.2" y="331.3" font-size="7.0" textLength="31.1" lengthAdjust="spacingAndGlyphs" class="city">Mossel Bay</text>
<text x="26.5" y="316.4" font-size="7.0" textLength="30.3" lengthAdjust="spacingAndGlyphs" class="halo">Cape Town</text><text x="26.5" y="316.4" font-size="7.0" textLength="30.3" lengthAdjust="spacingAndGlyphs" class="city">Cape Town</text>
<text x="36.5" y="95.1" font-size="5.2" textLength="19.5" lengthAdjust="spacingAndGlyphs" class="ctry">Namibia</text>
<text x="156.5" y="55.3" font-size="5.2" textLength="23.5" lengthAdjust="spacingAndGlyphs" class="ctry">Botswana</text>
<text x="319.2" y="13.9" font-size="5.2" textLength="23.5" lengthAdjust="spacingAndGlyphs" class="ctry">Zimbabwe</text>
<text x="365.9" y="58.8" font-size="5.2" textLength="29.7" lengthAdjust="spacingAndGlyphs" class="ctry">Mocambique</text>
<text x="337.6" y="134.1" font-size="5.2" textLength="20.2" lengthAdjust="spacingAndGlyphs" class="ctry">eSwatini</text>
<text x="265.0" y="207.6" font-size="5.2" textLength="17.9" lengthAdjust="spacingAndGlyphs" class="ctry">Lesotho</text>
<text x="139.7" y="191.1" font-size="5.2" textLength="27.8" lengthAdjust="spacingAndGlyphs" class="ctry">South Africa</text>
<text x="74" y="16.4" font-size="7.4" textLength="183.7" lengthAdjust="spacingAndGlyphs" class="ttl">2020-2040, Warmest road surface and isopleth contours</text>
<rect x="406.2" y="3.6" width="138.2" height="360.6" fill="#fff" stroke="#858585" stroke-width="0.8"/>
<text x="418.3" y="11.0" font-size="4.2" class="lg" textLength="16.5" lengthAdjust="spacingAndGlyphs">Legend:</text>
<circle cx="420.8" cy="16.6" r="1.25" fill="#000"/>
<text x="424.0" y="17.9" font-size="3.8" class="lg" textLength="34.4" lengthAdjust="spacingAndGlyphs">Main Towns/Cities</text>
<path d="M418.9,21.6 l2.4,-0.3 l0.7,0.9 l-0.2,1.9 l-2.6,0.2 l-0.5,-1.4z" fill="#fff" stroke="#555" stroke-width="0.5"/>
<text x="424.0" y="24.1" font-size="3.8" class="lg" textLength="17.6" lengthAdjust="spacingAndGlyphs">Provinces</text>
<text x="418.3" y="30.4" font-size="3.8" class="lg" textLength="53.9" lengthAdjust="spacingAndGlyphs">Temp contour lines 2040 Max</text>
<text x="418.3" y="36.7" font-size="3.8" class="lg" textLength="47.7" lengthAdjust="spacingAndGlyphs">Contour (Degrees Celsius)</text>
<path d="M418.3,42.3 C419.0,40.1 419.7,40.1 420.6,41.5 S422.3,42.9 423.3,40.7" fill="none" stroke="#fcc83a" stroke-width="0.8" stroke-linecap="round"/>
<text x="423.9" y="42.9" font-size="3.8" class="lg" textLength="4.5" lengthAdjust="spacingAndGlyphs">43</text>
<path d="M418.3,48.6 C419.0,46.4 419.7,46.4 420.6,47.8 S422.3,49.2 423.3,47.0" fill="none" stroke="#fbb83c" stroke-width="0.8" stroke-linecap="round"/>
<text x="423.9" y="49.2" font-size="3.8" class="lg" textLength="4.5" lengthAdjust="spacingAndGlyphs">44</text>
<path d="M418.3,54.8 C419.0,52.6 419.7,52.6 420.6,54.0 S422.3,55.4 423.3,53.2" fill="none" stroke="#faa83e" stroke-width="0.8" stroke-linecap="round"/>
<text x="423.9" y="55.5" font-size="3.8" class="lg" textLength="4.5" lengthAdjust="spacingAndGlyphs">45</text>
<path d="M418.3,61.1 C419.0,58.9 419.7,58.9 420.6,60.3 S422.3,61.7 423.3,59.5" fill="none" stroke="#22a822" stroke-width="1.4" stroke-linecap="round"/>
<text x="423.9" y="61.7" font-size="3.8" class="lg" textLength="4.5" lengthAdjust="spacingAndGlyphs">46</text>
<path d="M418.3,67.4 C419.0,65.2 419.7,65.2 420.6,66.6 S422.3,68.0 423.3,65.8" fill="none" stroke="#f9a040" stroke-width="0.8" stroke-linecap="round"/>
<text x="423.9" y="68.0" font-size="3.8" class="lg" textLength="4.5" lengthAdjust="spacingAndGlyphs">47</text>
<path d="M418.3,73.7 C419.0,71.5 419.7,71.5 420.6,72.9 S422.3,74.2 423.3,72.0" fill="none" stroke="#f99048" stroke-width="0.8" stroke-linecap="round"/>
<text x="423.9" y="74.3" font-size="3.8" class="lg" textLength="4.5" lengthAdjust="spacingAndGlyphs">48</text>
<path d="M418.3,79.9 C419.0,77.7 419.7,77.7 420.6,79.1 S422.3,80.5 423.3,78.3" fill="none" stroke="#f98450" stroke-width="0.8" stroke-linecap="round"/>
<text x="423.9" y="80.5" font-size="3.8" class="lg" textLength="4.5" lengthAdjust="spacingAndGlyphs">49</text>
<path d="M418.3,86.2 C419.0,84.0 419.7,84.0 420.6,85.4 S422.3,86.8 423.3,84.6" fill="none" stroke="#fa7a58" stroke-width="0.8" stroke-linecap="round"/>
<text x="423.9" y="86.8" font-size="3.8" class="lg" textLength="4.5" lengthAdjust="spacingAndGlyphs">50</text>
<path d="M418.3,92.5 C419.0,90.3 419.7,90.3 420.6,91.7 S422.3,93.1 423.3,90.9" fill="none" stroke="#fb6e60" stroke-width="0.8" stroke-linecap="round"/>
<text x="423.9" y="93.1" font-size="3.8" class="lg" textLength="4.5" lengthAdjust="spacingAndGlyphs">51</text>
<path d="M418.3,98.7 C419.0,96.5 419.7,96.5 420.6,97.9 S422.3,99.3 423.3,97.1" fill="none" stroke="#111111" stroke-width="1.5" stroke-linecap="round"/>
<text x="423.9" y="99.4" font-size="3.8" class="lg" textLength="4.5" lengthAdjust="spacingAndGlyphs">52</text>
<path d="M418.3,105.0 C419.0,102.8 419.7,102.8 420.6,104.2 S422.3,105.6 423.3,103.4" fill="none" stroke="#ff5a80" stroke-width="0.8" stroke-linecap="round"/>
<text x="423.9" y="105.6" font-size="3.8" class="lg" textLength="4.5" lengthAdjust="spacingAndGlyphs">53</text>
<path d="M418.3,111.3 C419.0,109.1 419.7,109.1 420.6,110.5 S422.3,111.9 423.3,109.7" fill="none" stroke="#ff5e8c" stroke-width="0.8" stroke-linecap="round"/>
<text x="423.9" y="111.9" font-size="3.8" class="lg" textLength="4.5" lengthAdjust="spacingAndGlyphs">54</text>
<path d="M418.3,117.5 C419.0,115.3 419.7,115.3 420.6,116.7 S422.3,118.1 423.3,115.9" fill="none" stroke="#ff6298" stroke-width="0.8" stroke-linecap="round"/>
<text x="423.9" y="118.2" font-size="3.8" class="lg" textLength="4.5" lengthAdjust="spacingAndGlyphs">55</text>
<path d="M418.3,123.8 C419.0,121.6 419.7,121.6 420.6,123.0 S422.3,124.4 423.3,122.2" fill="none" stroke="#ff66a8" stroke-width="0.8" stroke-linecap="round"/>
<text x="423.9" y="124.4" font-size="3.8" class="lg" textLength="4.5" lengthAdjust="spacingAndGlyphs">56</text>
<path d="M418.3,130.1 C419.0,127.9 419.7,127.9 420.6,129.3 S422.3,130.7 423.3,128.5" fill="none" stroke="#fc6ab8" stroke-width="0.8" stroke-linecap="round"/>
<text x="423.9" y="130.7" font-size="3.8" class="lg" textLength="4.5" lengthAdjust="spacingAndGlyphs">57</text>
<path d="M418.3,136.3 C419.0,134.2 419.7,134.2 420.6,135.6 S422.3,137.0 423.3,134.8" fill="none" stroke="#ff1010" stroke-width="1.7" stroke-linecap="round"/>
<text x="423.9" y="137.0" font-size="3.8" class="lg" textLength="4.5" lengthAdjust="spacingAndGlyphs">58</text>
<path d="M418.3,142.6 C419.0,140.4 419.7,140.4 420.6,141.8 S422.3,143.2 423.3,141.0" fill="none" stroke="#e868e0" stroke-width="0.8" stroke-linecap="round"/>
<text x="423.9" y="143.2" font-size="3.8" class="lg" textLength="4.5" lengthAdjust="spacingAndGlyphs">59</text>
<path d="M418.3,148.9 C419.0,146.7 419.7,146.7 420.6,148.1 S422.3,149.5 423.3,147.3" fill="none" stroke="#c868ee" stroke-width="0.8" stroke-linecap="round"/>
<text x="423.9" y="149.5" font-size="3.8" class="lg" textLength="4.5" lengthAdjust="spacingAndGlyphs">60</text>
<path d="M418.3,155.2 C419.0,153.0 419.7,153.0 420.6,154.4 S422.3,155.8 423.3,153.6" fill="none" stroke="#a868f4" stroke-width="0.8" stroke-linecap="round"/>
<text x="423.9" y="155.8" font-size="3.8" class="lg" textLength="4.5" lengthAdjust="spacingAndGlyphs">61</text>
<path d="M418.3,161.4 C419.0,159.2 419.7,159.2 420.6,160.6 S422.3,162.0 423.3,159.8" fill="none" stroke="#8868f6" stroke-width="0.8" stroke-linecap="round"/>
<text x="423.9" y="162.1" font-size="3.8" class="lg" textLength="4.5" lengthAdjust="spacingAndGlyphs">62</text>
<path d="M418.3,167.7 C419.0,165.5 419.7,165.5 420.6,166.9 S422.3,168.3 423.3,166.1" fill="none" stroke="#6878f8" stroke-width="0.8" stroke-linecap="round"/>
<text x="423.9" y="168.3" font-size="3.8" class="lg" textLength="4.5" lengthAdjust="spacingAndGlyphs">63</text>
<text x="418.3" y="174.3" font-size="3.8" class="lg" textLength="69.7" lengthAdjust="spacingAndGlyphs">Road temp surface (warm) 2020–2040</text>
<text x="418.3" y="180.6" font-size="3.8" class="lg" textLength="18.7" lengthAdjust="spacingAndGlyphs">(Degree C)</text>
<path d="M419.5,186.5 l0.2,-1.7 l1.0,-0.7 l1.5,0.1 l0.1,2.0 l-1.3,0.6z" fill="#5aa0c8" stroke="#555" stroke-width="0.4"/>
<text x="424.0" y="186.6" font-size="3.8" class="lg" textLength="14.5" lengthAdjust="spacingAndGlyphs">41.6–42</text>
<path d="M419.5,192.8 l0.2,-1.7 l1.0,-0.7 l1.5,0.1 l0.1,2.0 l-1.3,0.6z" fill="#6aa8c0" stroke="#555" stroke-width="0.4"/>
<text x="424.0" y="192.9" font-size="3.8" class="lg" textLength="14.5" lengthAdjust="spacingAndGlyphs">42.1–43</text>
<path d="M419.5,199.0 l0.2,-1.7 l1.0,-0.7 l1.5,0.1 l0.1,2.0 l-1.3,0.6z" fill="#7ab0b8" stroke="#555" stroke-width="0.4"/>
<text x="424.0" y="199.2" font-size="3.8" class="lg" textLength="14.5" lengthAdjust="spacingAndGlyphs">43.1–44</text>
<path d="M419.5,205.3 l0.2,-1.7 l1.0,-0.7 l1.5,0.1 l0.1,2.0 l-1.3,0.6z" fill="#88b8ae" stroke="#555" stroke-width="0.4"/>
<text x="424.0" y="205.4" font-size="3.8" class="lg" textLength="14.5" lengthAdjust="spacingAndGlyphs">44.1–45</text>
<path d="M419.5,211.6 l0.2,-1.7 l1.0,-0.7 l1.5,0.1 l0.1,2.0 l-1.3,0.6z" fill="#96c0a4" stroke="#555" stroke-width="0.4"/>
<text x="424.0" y="211.7" font-size="3.8" class="lg" textLength="14.5" lengthAdjust="spacingAndGlyphs">45.1–46</text>
<path d="M419.5,217.8 l0.2,-1.7 l1.0,-0.7 l1.5,0.1 l0.1,2.0 l-1.3,0.6z" fill="#a4c89a" stroke="#555" stroke-width="0.4"/>
<text x="424.0" y="218.0" font-size="3.8" class="lg" textLength="14.5" lengthAdjust="spacingAndGlyphs">46.1–47</text>
<path d="M419.5,224.1 l0.2,-1.7 l1.0,-0.7 l1.5,0.1 l0.1,2.0 l-1.3,0.6z" fill="#b2d090" stroke="#555" stroke-width="0.4"/>
<text x="424.0" y="224.2" font-size="3.8" class="lg" textLength="14.5" lengthAdjust="spacingAndGlyphs">47.1–48</text>
<path d="M419.5,230.4 l0.2,-1.7 l1.0,-0.7 l1.5,0.1 l0.1,2.0 l-1.3,0.6z" fill="#c0d888" stroke="#555" stroke-width="0.4"/>
<text x="424.0" y="230.5" font-size="3.8" class="lg" textLength="14.5" lengthAdjust="spacingAndGlyphs">48.1–49</text>
<path d="M419.5,236.6 l0.2,-1.7 l1.0,-0.7 l1.5,0.1 l0.1,2.0 l-1.3,0.6z" fill="#d0e07c" stroke="#555" stroke-width="0.4"/>
<text x="424.0" y="236.8" font-size="3.8" class="lg" textLength="14.5" lengthAdjust="spacingAndGlyphs">49.1–50</text>
<path d="M419.5,242.9 l0.2,-1.7 l1.0,-0.7 l1.5,0.1 l0.1,2.0 l-1.3,0.6z" fill="#dee870" stroke="#555" stroke-width="0.4"/>
<text x="424.0" y="243.0" font-size="3.8" class="lg" textLength="14.5" lengthAdjust="spacingAndGlyphs">50.1–51</text>
<path d="M419.5,249.2 l0.2,-1.7 l1.0,-0.7 l1.5,0.1 l0.1,2.0 l-1.3,0.6z" fill="#ecee66" stroke="#555" stroke-width="0.4"/>
<text x="424.0" y="249.3" font-size="3.8" class="lg" textLength="14.5" lengthAdjust="spacingAndGlyphs">51.1–52</text>
<path d="M419.5,255.4 l0.2,-1.7 l1.0,-0.7 l1.5,0.1 l0.1,2.0 l-1.3,0.6z" fill="#f8f05e" stroke="#555" stroke-width="0.4"/>
<text x="424.0" y="255.5" font-size="3.8" class="lg" textLength="14.5" lengthAdjust="spacingAndGlyphs">52.1–53</text>
<path d="M419.5,261.7 l0.2,-1.7 l1.0,-0.7 l1.5,0.1 l0.1,2.0 l-1.3,0.6z" fill="#fce45a" stroke="#555" stroke-width="0.4"/>
<text x="424.0" y="261.8" font-size="3.8" class="lg" textLength="14.5" lengthAdjust="spacingAndGlyphs">53.1–54</text>
<path d="M419.5,267.9 l0.2,-1.7 l1.0,-0.7 l1.5,0.1 l0.1,2.0 l-1.3,0.6z" fill="#fdd654" stroke="#555" stroke-width="0.4"/>
<text x="424.0" y="268.1" font-size="3.8" class="lg" textLength="14.5" lengthAdjust="spacingAndGlyphs">54.1–55</text>
<path d="M419.5,274.2 l0.2,-1.7 l1.0,-0.7 l1.5,0.1 l0.1,2.0 l-1.3,0.6z" fill="#fdc44a" stroke="#555" stroke-width="0.4"/>
<text x="424.0" y="274.3" font-size="3.8" class="lg" textLength="14.5" lengthAdjust="spacingAndGlyphs">55.1–56</text>
<path d="M419.5,280.5 l0.2,-1.7 l1.0,-0.7 l1.5,0.1 l0.1,2.0 l-1.3,0.6z" fill="#fdb040" stroke="#555" stroke-width="0.4"/>
<text x="424.0" y="280.6" font-size="3.8" class="lg" textLength="14.5" lengthAdjust="spacingAndGlyphs">56.1–57</text>
<path d="M419.5,286.7 l0.2,-1.7 l1.0,-0.7 l1.5,0.1 l0.1,2.0 l-1.3,0.6z" fill="#fb9c38" stroke="#555" stroke-width="0.4"/>
<text x="424.0" y="286.9" font-size="3.8" class="lg" textLength="14.5" lengthAdjust="spacingAndGlyphs">57.1–58</text>
<path d="M419.5,293.0 l0.2,-1.7 l1.0,-0.7 l1.5,0.1 l0.1,2.0 l-1.3,0.6z" fill="#f98a32" stroke="#555" stroke-width="0.4"/>
<text x="424.0" y="293.1" font-size="3.8" class="lg" textLength="14.5" lengthAdjust="spacingAndGlyphs">58.1–59</text>
<path d="M419.5,299.3 l0.2,-1.7 l1.0,-0.7 l1.5,0.1 l0.1,2.0 l-1.3,0.6z" fill="#f6722a" stroke="#555" stroke-width="0.4"/>
<text x="424.0" y="299.4" font-size="3.8" class="lg" textLength="14.5" lengthAdjust="spacingAndGlyphs">59.1–60</text>
<path d="M419.5,305.5 l0.2,-1.7 l1.0,-0.7 l1.5,0.1 l0.1,2.0 l-1.3,0.6z" fill="#f35f27" stroke="#555" stroke-width="0.4"/>
<text x="424.0" y="305.7" font-size="3.8" class="lg" textLength="14.5" lengthAdjust="spacingAndGlyphs">60.1–61</text>
<path d="M419.5,311.8 l0.2,-1.7 l1.0,-0.7 l1.5,0.1 l0.1,2.0 l-1.3,0.6z" fill="#f04c22" stroke="#555" stroke-width="0.4"/>
<text x="424.0" y="311.9" font-size="3.8" class="lg" textLength="14.5" lengthAdjust="spacingAndGlyphs">61.1–62</text>
<path d="M419.5,318.1 l0.2,-1.7 l1.0,-0.7 l1.5,0.1 l0.1,2.0 l-1.3,0.6z" fill="#ee3a1c" stroke="#555" stroke-width="0.4"/>
<text x="424.0" y="318.2" font-size="3.8" class="lg" textLength="14.5" lengthAdjust="spacingAndGlyphs">62.1–63</text>
<path d="M419.5,324.3 l0.2,-1.7 l1.0,-0.7 l1.5,0.1 l0.1,2.0 l-1.3,0.6z" fill="#e8181c" stroke="#555" stroke-width="0.4"/>
<text x="424.0" y="324.5" font-size="3.8" class="lg" textLength="14.5" lengthAdjust="spacingAndGlyphs">63.1–64</text>
<text x="435.4" y="343.9" font-size="4.1" class="nt" textLength="69.8" lengthAdjust="spacingAndGlyphs">Kriging interpolation method applied</text>
<text x="435.4" y="349.7" font-size="4.1" class="nt" textLength="69.8" lengthAdjust="spacingAndGlyphs">to available temperature data points.</text>
<text x="435.4" y="360.5" font-size="4.1" class="nt" textLength="100.5" lengthAdjust="spacingAndGlyphs">Project by CSIR Smart Mobility and CSIR Smart Places</text>
<g transform="translate(29.4,25.6)"><circle r="10.3" fill="none" stroke="#333" stroke-width="0.8"/><circle r="9.2" fill="none" stroke="#555" stroke-width="0.45"/><polygon points="2.91,-7.02 2.12,-2.12 7.02,-2.91 3.00,-0.00 7.02,2.91 2.12,2.12 2.91,7.02 0.00,3.00 -2.91,7.02 -2.12,2.12 -7.02,2.91 -3.00,0.00 -7.02,-2.91 -2.12,-2.12 -2.91,-7.02 -0.00,-3.00" fill="#4a4a4a"/><polygon points="6.93,-6.93 2.70,-0.00 6.93,6.93 0.00,2.70 -6.93,6.93 -2.70,0.00 -6.93,-6.93 -0.00,-2.70" fill="#1c1c1c"/><polygon points="0.00,-12.20 1.91,-1.91 12.20,-0.00 1.91,1.91 0.00,12.20 -1.91,1.91 -12.20,0.00 -1.91,-1.91" fill="#0c0c0c"/><polygon points="0,0 0.00,-10.00 0.92,-2.22" fill="#e8e8e8" opacity="0.85"/><polygon points="0,0 5.68,-5.68 2.22,-0.92" fill="#e8e8e8" opacity="0.85"/><polygon points="0,0 10.00,-0.00 2.22,0.92" fill="#e8e8e8" opacity="0.85"/><polygon points="0,0 5.68,5.68 0.92,2.22" fill="#e8e8e8" opacity="0.85"/><polygon points="0,0 0.00,10.00 -0.92,2.22" fill="#e8e8e8" opacity="0.85"/><polygon points="0,0 -5.68,5.68 -2.22,0.92" fill="#e8e8e8" opacity="0.85"/><polygon points="0,0 -10.00,0.00 -2.22,-0.92" fill="#e8e8e8" opacity="0.85"/><polygon points="0,0 -5.68,-5.68 -0.92,-2.22" fill="#e8e8e8" opacity="0.85"/><circle r="2.7" fill="#efefef" stroke="#222" stroke-width="0.4"/><circle r="1.6" fill="#000"/></g>
<text x="29.4" y="11.6" font-size="5.3" font-weight="bold" text-anchor="middle" fill="#111">N</text>
<text x="29.4" y="43.9" font-size="5.3" font-weight="bold" text-anchor="middle" fill="#111">S</text>
<text x="12.9" y="27.5" font-size="5.3" font-weight="bold" text-anchor="middle" fill="#111">W</text>
<text x="45.2" y="27.5" font-size="5.3" font-weight="bold" text-anchor="middle" fill="#111">E</text>
<path d="M218.1,357.1 V353.6 H223.8 V357.1 H229.4 V353.6 H235.1 V357.1 H240.8 V353.6 H263.4 V357.1 H286.0 V353.6 H308.7 V357.1" fill="none" stroke="#111" stroke-width="0.8"/>
<text x="218.1" y="362.5" font-size="4.5" text-anchor="middle" fill="#111">0</text>
<text x="229.4" y="362.5" font-size="4.5" text-anchor="middle" fill="#111">50</text>
<text x="240.8" y="362.5" font-size="4.5" text-anchor="middle" fill="#111">100</text>
<text x="263.4" y="362.5" font-size="4.5" text-anchor="middle" fill="#111">200</text>
<text x="286.0" y="362.5" font-size="4.5" text-anchor="middle" fill="#111">300</text>
<text x="308.7" y="362.5" font-size="4.5" text-anchor="middle" fill="#111">400</text>
<text x="309.6" y="358" font-size="4.4" fill="#111" textLength="19.6" lengthAdjust="spacingAndGlyphs">Kilometers</text>
<g fill="#17178f" font-size="22.3" font-weight="bold"><text x="353.3" y="358" textLength="12.6" lengthAdjust="spacingAndGlyphs">C</text><text x="365.4" y="358" textLength="10.6" lengthAdjust="spacingAndGlyphs">S</text><text x="381.6" y="358" textLength="14.6" lengthAdjust="spacingAndGlyphs">R</text></g>
<text x="377.3" y="358" font-size="25.8" font-weight="bold" fill="#17178f" textLength="4.8" lengthAdjust="spacingAndGlyphs" style="letter-spacing:0">I</text>
<circle cx="379.75" cy="336.6" r="1.4" fill="#17178f"/>
<text x="360" y="364.4" font-size="3.4" fill="#17178f" textLength="36" lengthAdjust="spacingAndGlyphs">our future through science</text>

</svg>
</body></html>
